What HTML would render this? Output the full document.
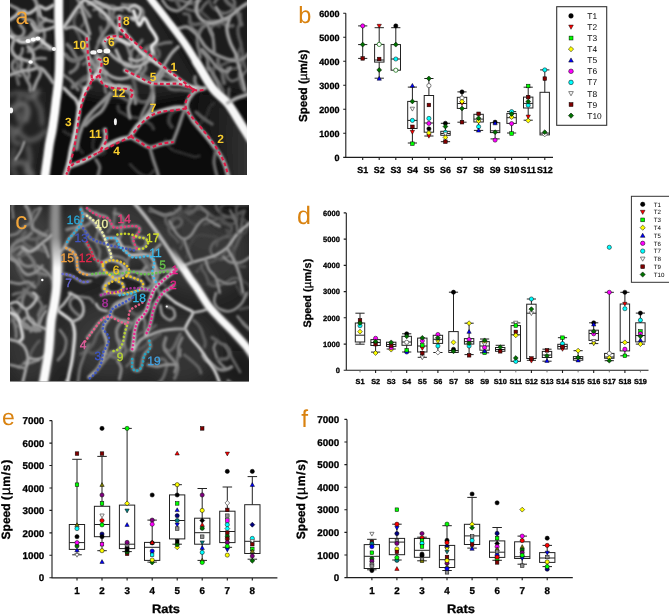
<!DOCTYPE html>
<html lang="en"><head><meta charset="utf-8"><title>Figure</title>
<style>html,body{margin:0;padding:0;background:#fff}svg{display:block}text{font-family:"Liberation Sans",sans-serif;text-rendering:geometricPrecision}</style></head><body>
<svg width="669" height="614" viewBox="0 0 669 614">
<defs>
<clipPath id="clipA"><rect x="10" y="0" width="237" height="175"/></clipPath>
<clipPath id="clipC"><rect x="10" y="205" width="239" height="176.4"/></clipPath>
<linearGradient id="gC1" gradientUnits="userSpaceOnUse" x1="0" y1="238" x2="0" y2="268"><stop offset="0" stop-color="#fafafa" stop-opacity="0"/><stop offset="1" stop-color="#fafafa" stop-opacity="1"/></linearGradient>
<linearGradient id="gC1h" gradientUnits="userSpaceOnUse" x1="0" y1="238" x2="0" y2="268"><stop offset="0" stop-color="#909090" stop-opacity="0"/><stop offset="1" stop-color="#909090" stop-opacity="0.5"/></linearGradient>
<linearGradient id="gC2" gradientUnits="userSpaceOnUse" x1="168" y1="249" x2="184" y2="272"><stop offset="0" stop-color="#f8f8f8" stop-opacity="0"/><stop offset="1" stop-color="#f8f8f8" stop-opacity="1"/></linearGradient>
<linearGradient id="gC2h" gradientUnits="userSpaceOnUse" x1="168" y1="249" x2="184" y2="272"><stop offset="0" stop-color="#909090" stop-opacity="0"/><stop offset="1" stop-color="#909090" stop-opacity="0.5"/></linearGradient>
<filter id="blur03" filterUnits="userSpaceOnUse" x="-20" y="-20" width="709" height="654"><feGaussianBlur stdDeviation="0.3"/></filter>
<filter id="blur04" filterUnits="userSpaceOnUse" x="-20" y="-20" width="709" height="654"><feGaussianBlur stdDeviation="0.45"/></filter>
<filter id="blur07" filterUnits="userSpaceOnUse" x="-20" y="-20" width="709" height="654"><feGaussianBlur stdDeviation="0.75"/></filter>
<filter id="blur1" filterUnits="userSpaceOnUse" x="-20" y="-20" width="709" height="654"><feGaussianBlur stdDeviation="0.9"/></filter>
<filter id="blur15" filterUnits="userSpaceOnUse" x="-20" y="-20" width="709" height="654"><feGaussianBlur stdDeviation="1.2"/></filter>
<filter id="blur25" filterUnits="userSpaceOnUse" x="-20" y="-20" width="709" height="654"><feGaussianBlur stdDeviation="2.2"/></filter>
<linearGradient id="gAr" gradientUnits="userSpaceOnUse" x1="192" y1="0" x2="250" y2="0"><stop offset="0" stop-color="#0e0e0e"/><stop offset="1" stop-color="#343434"/></linearGradient>
<filter id="blur6" filterUnits="userSpaceOnUse" x="-20" y="-20" width="709" height="654"><feGaussianBlur stdDeviation="5"/></filter>
<filter id="blur9" filterUnits="userSpaceOnUse" x="-20" y="-20" width="709" height="654"><feGaussianBlur stdDeviation="9"/></filter>
</defs>
<rect width="669" height="614" fill="#fff"/>
<g clip-path="url(#clipA)">
<rect x="10" y="-1" width="238" height="177" fill="#0c0c0c"/>
<g filter="url(#blur6)">
<polygon points="0,-10 54,-10 56,40 54,92 0,92" fill="#1e1e1e"/>
<polygon points="0,92 52,92 48,130 38,185 0,185" fill="#222222"/>
<polygon points="64,-10 146,-10 200,80 196,92 150,100 100,98 64,90" fill="#202020"/>
<polygon points="156,-10 260,-10 260,100 216,88 190,45" fill="#1b1b1b"/>
<polygon points="196,94 209,90 223,101 236,115 247,132 260,140 260,185 230,185 221,157 205,133 190,112" fill="url(#gAr)"/>
</g>
<g filter="url(#blur25)" fill="none" stroke-linecap="round" stroke-linejoin="round">
<path d="M10 109.5C11.2 108.9 14.8 106.9 17.2 106C19.6 105.1 22.5 103.1 24.3 104C26.1 104.9 27.7 108.6 28 111.3C28.3 114 26.3 118.8 26 120.3" stroke="#8a8a8a" stroke-width="5" stroke-opacity="0.7"/>
<path d="M10 127.5C11.5 128.4 16 130.7 19 132.8C22 134.9 25 139.1 28 140C31 140.9 34 139.7 37 138.2C40 136.7 44.4 132.2 45.9 131" stroke="#707070" stroke-width="5" stroke-opacity="0.7"/>
<path d="M28 147C28.3 149.1 30 155.5 29.7 159.7C29.4 163.9 26.6 170.2 26 172.3" stroke="#6a6a6a" stroke-width="5" stroke-opacity="0.7"/>
<path d="M33.3 88C33.6 89.8 33.8 95.2 35 98.8C36.2 102.4 39.3 105.3 40.5 109.5C41.7 113.7 42 121.5 42.3 123.9" stroke="#686868" stroke-width="5" stroke-opacity="0.7"/>
<path d="M10 95C11.3 94.5 15.3 91.8 18 92C20.7 92.2 24.7 95.3 26 96" stroke="#606060" stroke-width="4" stroke-opacity="0.7"/>
<path d="M14 150C13.7 152.5 11.7 160.7 12 165C12.3 169.3 15.3 174.2 16 176" stroke="#5a5a5a" stroke-width="5" stroke-opacity="0.7"/>
<path d="M18.6 120.1C18.4 119.3 17.8 116.8 17.3 115.2C16.8 113.6 16.1 112.1 15.9 110.5C15.6 108.8 15.2 107 15.6 105.5C16 103.9 17.4 102.7 18.1 101.2C18.8 99.6 19.5 97.2 19.7 96.4" stroke="#646464" stroke-width="4.446782414699174" stroke-opacity="0.7"/>
<path d="M18.3 129.8C17.8 130.4 15.8 132.1 14.9 133.4C13.9 134.8 12.7 136.4 12.7 137.9C12.7 139.4 13.8 141.5 15 142.4C16.1 143.3 19 143.2 19.8 143.4" stroke="#6c6c6c" stroke-width="4.8102008518113015" stroke-opacity="0.7"/>
<path d="M27.6 170.4C28.4 170.8 31.2 171.6 32 172.9C32.8 174.1 32.7 176.2 32.5 177.8C32.4 179.5 31.4 181 31.2 182.7C31 184.3 31.3 186.8 31.3 187.6" stroke="#626262" stroke-width="5.0599713250247405" stroke-opacity="0.7"/>
<path d="M15.5 163C16.3 162.9 18.8 162 20.4 162.1C22 162.3 23.8 163 25 164C26.3 165 27.1 166.6 27.9 168.1C28.7 169.6 29.4 171.1 29.8 172.7C30.1 174.3 29.9 176.9 29.9 177.7" stroke="#727272" stroke-width="5.89626591652738" stroke-opacity="0.7"/>
<path d="M22.7 111.5C22.5 112.3 21.5 114.7 21.4 116.4C21.3 118 22.2 119.7 22 121.3C21.9 122.9 21 124.5 20.4 126C19.8 127.6 19.3 129.3 18.4 130.6C17.4 132 16.2 133.6 14.8 134.1C13.4 134.6 10.7 133.6 9.8 133.5" stroke="#616161" stroke-width="4.948893608780946" stroke-opacity="0.7"/>
<path d="M20.3 95.4C21.1 95.1 23.3 93.6 24.9 93.3C26.4 93 28.3 93.9 29.9 93.5C31.4 93 33.2 91 33.9 90.6" stroke="#525252" stroke-width="5.000618801440396" stroke-opacity="0.7"/>
<path d="M27.1 98.8C27.9 98.6 30.4 98.3 31.9 97.6C33.4 96.9 34.9 95.9 36 94.7C37.2 93.6 38.5 91.4 39 90.7" stroke="#777777" stroke-width="4.017850384956739" stroke-opacity="0.7"/>
</g>
<g filter="url(#blur15)" fill="none" stroke-linecap="round" stroke-linejoin="round">
<path d="M28.1 51.5C28.6 50.8 30.3 48.9 31 47.5C31.8 46 32.1 44.3 32.6 42.7C33.2 41.1 33.4 39.4 34.2 38C35 36.5 36.4 35.5 37.4 34.1C38.3 32.7 39.4 31.3 39.7 29.7C40 28.1 39.5 26.4 39.3 24.7C39.1 23.1 38.6 21.4 38.4 19.8C38.2 18.1 38.1 15.6 38.1 14.8" stroke="#656565" stroke-width="3.75417091200875"/>
<path d="M45.6 58.4C44.8 58.3 42.3 58.1 40.6 58.1C39 58.2 37.2 58.2 35.7 58.7C34.1 59.2 32.3 59.9 31.3 61.1C30.2 62.2 29.6 64 29.1 65.6C28.6 67.1 28.4 68.9 28.4 70.5C28.4 72.2 29.4 73.8 29.2 75.4C29.1 77 27.8 79.3 27.5 80.1" stroke="#868686" stroke-width="3.042115624914704"/>
<path d="M28.6 40.5C29.1 39.9 30.9 38.2 31.9 36.8C32.9 35.5 34.1 34.2 34.6 32.6C35.2 31.1 35.5 29.3 35.4 27.7C35.3 26.1 34.9 24.2 34 22.9C33.1 21.6 31.5 20.4 30.1 19.8C28.6 19.2 26.4 20.1 25.1 19.3C23.8 18.6 22.2 16.6 22.2 15.2C22.2 13.9 24.4 11.7 24.9 11" stroke="#8d8d8d" stroke-width="3.355592640052647"/>
<path d="M40.3 47.2C41.1 47.3 43.6 47.6 45.2 48C46.9 48.4 49.2 49.2 50 49.4" stroke="#727272" stroke-width="3.5411189443883084"/>
<path d="M41.1 24.8C41.5 25.6 42.8 27.8 43.3 29.3C43.9 30.9 44.4 32.5 44.5 34.2C44.6 35.8 44.5 37.6 44 39.2C43.6 40.7 42.8 42.3 41.8 43.7C40.9 45 39.6 46.2 38.3 47.2C37 48.2 35.5 49.1 34 49.7C32.5 50.4 30 51 29.2 51.2" stroke="#838383" stroke-width="3.263739654618463"/>
<path d="M30.4 90.6C30.3 89.8 30.4 87.2 29.9 85.7C29.5 84.1 28.4 82.7 27.6 81.2C26.9 79.7 26.1 78.3 25.4 76.8C24.6 75.3 23.9 73.8 23.1 72.3C22.4 70.8 21.2 69.4 21 67.8C20.7 66.2 21.8 64.5 21.8 62.9C21.8 61.2 21.2 58.8 21 57.9" stroke="#858585" stroke-width="3.4258032098193856"/>
<path d="M45.4 19.4C44.8 20 42.9 21.6 41.8 22.8C40.7 24.1 39.9 25.6 38.9 26.9C37.8 28.2 36.7 29.4 35.5 30.6C34.3 31.8 33.1 32.9 31.9 34C30.6 35.2 29.6 36.7 28.2 37.4C26.8 38.1 24.9 38.1 23.3 38.2C21.6 38.2 19.8 38.2 18.3 37.8C16.7 37.4 15.1 36.5 13.8 35.5C12.5 34.6 11.4 33.2 10.5 31.8C9.6 30.5 8.7 28.1 8.3 27.3" stroke="#858585" stroke-width="3.891222367735342"/>
<path d="M39 14.6C38.8 13.8 38 11.4 37.6 9.8C37.3 8.2 37.4 6.4 37 4.8C36.5 3.2 36 1.6 35.2 0.1C34.4 -1.3 33.3 -2.6 32.2 -3.9C31.1 -5.1 29.8 -6.2 28.6 -7.4C27.5 -8.6 26.4 -9.8 25.3 -11.1C24.3 -12.4 23.5 -14 22.4 -15.2C21.3 -16.4 19.3 -18 18.7 -18.5" stroke="#8f8f8f" stroke-width="3.9864112447817277"/>
<path d="M20.3 75.8C19.6 75.3 17.4 74.1 16.1 73C14.9 71.9 13.4 70.8 12.7 69.3C12.1 67.9 11.9 65.9 12.2 64.4C12.5 62.8 13.5 61.2 14.6 60C15.8 58.8 17.6 58.4 18.8 57.2C20 56.1 21.1 54.7 21.8 53.2C22.4 51.7 22.5 49.1 22.6 48.3" stroke="#878787" stroke-width="3.1037961035393713"/>
<path d="M18.5 84.2C18.3 83.4 17.7 80.9 17.3 79.3C17 77.7 16.4 76.1 16.2 74.4C16.1 72.8 16.2 71.1 16.5 69.4C16.8 67.8 18.1 66.2 17.9 64.7C17.8 63.1 16 61 15.6 60.2" stroke="#656565" stroke-width="3.5070032193792735"/>
<path d="M132 65.7C131.8 64.9 131.2 62.5 131 60.8C130.9 59.2 131.1 57.5 131.2 55.8C131.3 54.2 131 52.3 131.6 50.9C132.3 49.4 133.7 48.2 135 47.1C136.2 46 137.9 45.4 139.1 44.2C140.2 43.1 141.6 40.9 142.1 40.2" stroke="#7b7b7b" stroke-width="3.0019990562914707"/>
<path d="M152.8 97.8C152.1 98.4 150.4 100.4 149 101.1C147.6 101.8 145.7 102.1 144.1 102.1C142.5 102.1 140.6 101.8 139.2 101C137.9 100.1 136.7 98.5 136.1 97.1C135.5 95.6 136 93.7 135.8 92.1C135.7 90.4 135.3 88.8 135 87.1C134.7 85.5 134.5 83.8 134.1 82.2C133.7 80.6 132.7 78.3 132.4 77.5" stroke="#5b5b5b" stroke-width="3.9835844091925052"/>
<path d="M201.7 88.6C201 88.1 198.5 87.2 197.4 86.1C196.2 84.9 195.2 83.3 194.9 81.7C194.5 80.2 195 77.6 195 76.7" stroke="#7e7e7e" stroke-width="3.46149766928985"/>
<path d="M70.2 72.6C71 72.2 73.3 71.1 74.5 70C75.7 68.9 76.9 67.5 77.5 66C78.1 64.6 78.5 62.6 78.2 61.1C77.9 59.5 76.6 58.2 75.8 56.7C75 55.3 74.2 53.8 73.4 52.3C72.5 50.9 71.7 49.4 70.7 48.1C69.7 46.8 67.8 45.1 67.2 44.5" stroke="#787878" stroke-width="3.6878757102201023"/>
<path d="M118.9 85.9C119.7 86.3 121.9 87.5 123.2 88.5C124.6 89.4 125.8 90.6 127.1 91.6C128.4 92.7 129.8 93.7 131 94.8C132.2 95.9 133.6 97 134.4 98.5C135.1 99.9 135.3 102.5 135.4 103.4" stroke="#888888" stroke-width="3.659965639298922"/>
<path d="M90.7 69.6C91.6 69.6 94.1 69.2 95.7 69.4C97.4 69.5 99.2 69.6 100.6 70.4C102.1 71.1 103.4 72.3 104.4 73.6C105.4 74.9 106 76.6 106.5 78.2C106.9 79.8 107.1 81.6 106.9 83.2C106.7 84.8 105.2 86.2 105 87.8C104.9 89.4 105.8 91.9 106 92.7" stroke="#767676" stroke-width="3.2878948505749572"/>
<path d="M142.3 18.2C142.5 17.4 143.5 14.9 143.5 13.3C143.4 11.7 142.8 9.7 141.7 8.6C140.7 7.6 138.6 7.5 137 7C135.4 6.4 133.9 5.6 132.3 5.3C130.7 4.9 129 5.2 127.3 5.1C125.7 4.9 123.2 4.5 122.4 4.4" stroke="#787878" stroke-width="3.0480275295456267"/>
<path d="M175.4 83.2C174.9 82.5 173.6 80.3 172.4 79.2C171.2 78.1 169.7 77.2 168.2 76.6C166.7 75.9 165 75.4 163.4 75.2C161.7 75.1 159.9 75.2 158.4 75.7C156.8 76.2 155.6 77.7 154 78.1C152.5 78.6 150.7 78.3 149 78.4C147.4 78.5 144.9 78.5 144 78.5" stroke="#626262" stroke-width="3.538556459170473"/>
<path d="M111.9 86.2C111.4 85.5 110.4 83.1 109.3 81.9C108.2 80.8 106.6 79.9 105.1 79.2C103.6 78.6 101.8 78.4 100.2 78.2C98.5 78 96.9 78.2 95.2 78.3C93.5 78.3 91.9 78.5 90.2 78.6C88.5 78.8 86.8 78.7 85.2 79.1C83.6 79.5 82 80.2 80.6 81C79.1 81.8 77.9 83 76.6 84C75.2 85 73.2 86.5 72.6 87" stroke="#767676" stroke-width="4.175373057056559"/>
<path d="M143.8 62.5C144.6 62.2 147 61.3 148.6 60.9C150.2 60.5 151.9 60.5 153.5 59.9C155 59.4 156.9 58.8 157.9 57.6C158.9 56.4 159.6 54.3 159.3 52.8C159.1 51.3 157.7 49.8 156.5 48.7C155.3 47.6 153.8 46.4 152.2 46.1C150.7 45.7 148.7 46.1 147.3 46.8C145.9 47.5 144.8 49 143.6 50.2C142.5 51.4 141.4 52.7 140.3 54C139.3 55.3 138 56.5 137.4 58C136.8 59.5 137.2 61.4 136.8 63C136.4 64.6 135.8 66.2 135 67.6C134.3 69.1 132.8 71.2 132.3 71.9" stroke="#595959" stroke-width="3.9572775367313393"/>
<path d="M190.7 91.1C189.9 91 187.4 90.7 185.8 90.5C184.1 90.3 182.5 89.9 180.8 89.8C179.2 89.7 177.5 90 175.8 89.9C174.2 89.8 172.3 89.9 170.9 89.2C169.4 88.6 168.3 87.1 167.1 86C165.9 84.8 165 83.2 163.7 82.3C162.4 81.3 160.8 80.5 159.2 80.1C157.6 79.7 155.9 79.9 154.2 79.7C152.6 79.5 150.9 79.4 149.3 78.8C147.8 78.3 146.4 77.2 145 76.3C143.6 75.4 142.4 74.1 141 73.3C139.6 72.5 137.1 71.8 136.3 71.5" stroke="#676767" stroke-width="3.0860785729308335"/>
<path d="M115.5 8.2C115.1 9 113.7 11.1 113.2 12.7C112.7 14.3 112.8 16 112.6 17.7C112.3 19.3 112.4 21.1 111.8 22.6C111.1 24.1 109.8 25.3 108.7 26.6C107.7 27.9 106.4 29 105.5 30.4C104.6 31.8 104 33.4 103.3 34.9C102.6 36.4 102.1 38 101.3 39.5C100.5 40.9 99.3 42.2 98.5 43.6C97.7 45.1 96.8 46.6 96.5 48.2C96.1 49.8 96.5 51.5 96.3 53.2C96.1 54.8 95.3 57.2 95.1 58" stroke="#757575" stroke-width="3.286013539591014"/>
<path d="M111.5 94.4C112.3 94.6 114.8 95 116.4 95.4C118 95.8 119.7 96.1 121.2 96.8C122.7 97.4 124.1 98.5 125.5 99.3C127 100.1 129.3 101.1 130 101.5" stroke="#616161" stroke-width="3.6012414685131864"/>
<path d="M130.6 60.7C130.5 59.8 130.5 57.3 130.2 55.7C129.9 54 129.2 52.5 128.7 50.9C128.1 49.3 127.8 47.7 127.1 46.2C126.4 44.7 125.7 42.9 124.5 41.9C123.2 40.9 121.3 40.4 119.7 40.4C118.1 40.3 116.1 40.7 114.9 41.6C113.6 42.5 112.7 45.2 112.2 45.9" stroke="#828282" stroke-width="3.062697404376586"/>
<path d="M80.8 57C80.2 57.7 78.9 60.1 77.5 60.8C76.1 61.5 74.1 61.5 72.5 61.2C71 60.8 69.1 60 68.1 58.9C67 57.7 66.5 55 66.2 54.3" stroke="#626262" stroke-width="3.16309435198072"/>
<path d="M97.4 54.4C97.3 55.3 96.8 57.7 96.8 59.4C96.8 61.1 97.4 62.7 97.4 64.4C97.3 66 96.7 67.6 96.4 69.3C96.1 70.9 95.3 72.6 95.4 74.2C95.5 75.8 96.8 78.1 97.1 78.9" stroke="#7e7e7e" stroke-width="3.3851606471675146"/>
<path d="M83.5 64.1C84.2 63.7 86.3 62.1 87.8 61.6C89.3 61 91.1 61.1 92.7 60.7C94.3 60.2 96 59.8 97.5 59.1C98.9 58.3 100.4 57.4 101.6 56.2C102.7 55 103.8 53.6 104.4 52.1C105 50.6 104.8 48.8 104.9 47.1C105 45.5 105.2 43.7 104.9 42.1C104.6 40.5 103.8 39 103.2 37.4C102.7 35.8 102.2 34.2 101.8 32.6C101.3 31 100.9 28.5 100.7 27.7" stroke="#656565" stroke-width="4.002896245610769"/>
<path d="M81.2 26.8C81.8 26.1 83.6 24.3 84.3 22.9C85 21.4 85.6 19.5 85.4 18C85.2 16.4 84.1 14.7 82.9 13.7C81.7 12.6 79.5 11.4 78.3 11.8C77 12.1 76.1 14.4 75.4 15.9C74.7 17.3 74 19 73.9 20.6C73.8 22.2 74.4 23.9 74.7 25.6C75.1 27.2 75.4 28.9 76 30.4C76.7 31.9 78 33.1 78.7 34.6C79.4 36.1 79.6 37.9 80.3 39.3C81.1 40.8 82.3 42 83.2 43.4C84.1 44.9 85.2 47.1 85.6 47.8" stroke="#5a5a5a" stroke-width="3.015546680780876"/>
<path d="M89.8 16.3C89.3 15.6 88.1 13.4 87.1 12.1C86.2 10.7 84.9 9.6 84 8.2C83 6.9 82.3 5.3 81.4 3.9C80.4 2.6 78.7 1.7 78 0.2C77.3 -1.2 77.2 -3 77 -4.7C76.8 -6.3 77 -8 77 -9.7C77 -11.3 77 -13.8 77 -14.7" stroke="#838383" stroke-width="3.597884323026951"/>
<path d="M93.8 9.8C94.6 9.6 97 8.9 98.6 8.4C100.3 8 101.9 7.8 103.5 7.4C105.1 7 106.7 6.3 108.4 6.1C110 5.9 111.8 5.7 113.4 6.2C114.9 6.6 116.1 8.1 117.6 8.8C119.1 9.5 121.6 10.1 122.4 10.3" stroke="#797979" stroke-width="3.0338067386896506"/>
<path d="M87.6 75.7C86.8 76.1 84.5 77.1 83.2 78.1C81.8 79.1 80 80.3 79.7 81.7C79.3 83.1 80.1 85.4 81.1 86.5C82.1 87.6 84.1 88.3 85.7 88.4C87.3 88.5 89.7 87.4 90.5 87.2" stroke="#606060" stroke-width="3.4180984055613224"/>
<path d="M98.2 42.3C98.6 41.6 99.5 39.2 100.4 37.8C101.2 36.3 102.2 35 103.1 33.6C104.1 32.3 105.2 31 106.1 29.6C106.9 28.2 108 26.7 108.4 25.2C108.8 23.6 108.2 21.8 108.3 20.2C108.4 18.5 109 16.9 109.2 15.2C109.3 13.6 109.7 11.8 109.3 10.2C109 8.7 108.3 6.7 107.2 5.7C106 4.8 104 4.8 102.4 4.3C100.8 3.9 99.1 3.4 97.5 3.1C95.9 2.8 94.2 2.1 92.6 2.3C91 2.5 88.8 4.1 88 4.4" stroke="#808080" stroke-width="3.247908930131214"/>
<path d="M171.2 42.4C170.4 42.4 167.8 42.4 166.2 42.6C164.6 42.9 163 43.5 161.4 43.9C159.7 44.2 157.8 44.1 156.5 44.9C155.1 45.7 153.6 47.3 153.2 48.7C152.9 50.2 154 52 154.4 53.6C154.7 55.2 155 56.9 155.3 58.5C155.7 60.1 156.2 62.6 156.4 63.4" stroke="#6f6f6f" stroke-width="3.1705450799898194"/>
<path d="M83 48.6C83.5 49.2 85.2 51.1 86.1 52.5C86.9 53.9 87.4 55.6 88.2 57C89.1 58.5 90.2 59.7 91.1 61.1C92.1 62.5 92.9 64 93.9 65.2C95 66.5 96.4 67.5 97.7 68.6C98.9 69.7 99.9 71.2 101.3 72C102.7 72.8 105.3 73.2 106.1 73.4" stroke="#909090" stroke-width="4.187479786377706"/>
<path d="M133.4 19.5C132.7 19.1 130.5 17.7 128.9 17.3C127.3 16.9 125.6 17 123.9 16.9C122.3 16.7 120.6 16.3 118.9 16.6C117.3 16.8 115.8 17.7 114.2 18.1C112.6 18.5 110.9 19.1 109.3 19.2C107.7 19.3 105.8 19.1 104.4 18.5C102.9 17.9 101.1 16.8 100.4 15.4C99.7 14.1 100 12 100.3 10.4C100.5 8.8 101.6 6.4 101.8 5.7" stroke="#686868" stroke-width="3.412096510098676"/>
<path d="M147.6 49.2C147.2 50 145.7 52.1 145.2 53.6C144.6 55.2 144.2 56.9 144.2 58.5C144.2 60.2 144.9 61.8 145.1 63.5C145.3 65.1 146 66.9 145.6 68.4C145.2 70 143.8 71.2 142.8 72.6C141.9 74 140.6 76.1 140.1 76.8" stroke="#787878" stroke-width="3.7179542493216853"/>
<path d="M223.9 13C223.1 12.7 220.8 11.7 219.2 11.1C217.7 10.4 216 10 214.7 9.1C213.3 8.2 212 6.9 211.1 5.6C210.3 4.2 210.2 2.4 209.5 0.8C208.9 -0.7 208 -2.1 207.4 -3.7C206.8 -5.3 206.4 -7.7 206.2 -8.6" stroke="#515151" stroke-width="3.101940884035391"/>
<path d="M229.1 88.8C229 89.7 228.6 92.1 228.6 93.8C228.5 95.5 228.8 98 228.9 98.8" stroke="#585858" stroke-width="3.4268845783168587"/>
<path d="M215.6 65.5C215.2 66.3 213.9 68.5 213.5 70.1C213.1 71.7 212.6 73.5 213 75.1C213.3 76.6 214.5 78 215.5 79.4C216.5 80.7 218 81.6 219 83C220 84.3 220.8 85.8 221.6 87.3C222.3 88.7 223.3 91.1 223.6 91.8" stroke="#5a5a5a" stroke-width="3.243151958400714"/>
<path d="M205.5 25.3C204.8 25.9 202.6 27.2 201.6 28.5C200.6 29.8 200 31.4 199.3 32.9C198.6 34.4 197.9 36 197.6 37.6C197.3 39.2 197.4 41 197.5 42.6C197.6 44.3 198 45.9 198.3 47.5C198.7 49.2 199.3 50.7 199.6 52.4C199.9 54 200 56.5 200 57.4" stroke="#717171" stroke-width="3.754903140249843"/>
<path d="M200.3 0.2C199.6 0.5 197.3 1.5 195.7 2C194.1 2.6 192.5 3.3 190.8 3.3C189.2 3.3 187.6 2.6 186 2.1C184.4 1.6 183 0.6 181.4 0.2C179.8 -0.3 178.1 -0.4 176.4 -0.5C174.8 -0.6 173 -0 171.4 -0.4C169.8 -0.7 168.3 -1.6 166.9 -2.5C165.5 -3.4 164.4 -4.7 163.1 -5.7C161.7 -6.7 160.3 -7.6 158.9 -8.5C157.5 -9.4 155.3 -10.6 154.6 -11" stroke="#707070" stroke-width="3.4497074918778523"/>
<path d="M222.3 13.7C223.1 13.5 225.7 13.2 227.2 12.6C228.8 12 230.4 11.4 231.6 10.3C232.8 9.2 234 7.6 234.4 6.1C234.9 4.6 234.8 2.6 234.3 1.1C233.8 -0.4 232.5 -1.9 231.2 -2.8C229.9 -3.8 228.1 -4.2 226.5 -4.5C224.9 -4.7 223 -4.8 221.5 -4.3C220 -3.8 218.5 -2.6 217.3 -1.5C216.2 -0.3 215 2 214.6 2.7" stroke="#6b6b6b" stroke-width="3.134712212389272"/>
<path d="M179.6 6.9C179.2 6.2 178.1 3.9 177.4 2.5C176.6 1 176 -0.6 175.2 -2.1C174.5 -3.6 174 -5.2 173 -6.6C172.1 -7.9 170.8 -9 169.6 -10.2C168.4 -11.4 167.2 -12.5 166 -13.6C164.7 -14.7 163.5 -15.8 162.2 -17C161 -18.1 159.7 -19.1 158.5 -20.3C157.4 -21.6 156 -23.6 155.5 -24.3" stroke="#5b5b5b" stroke-width="4.088083445450166"/>
<path d="M209.2 69.9C209.9 69.6 212.2 68.6 213.8 68C215.3 67.4 216.9 66.9 218.5 66.4C220.1 65.8 221.6 65.2 223.2 64.5C224.7 63.8 226.1 62.9 227.6 62.2C229.1 61.5 230.8 61.2 232.2 60.4C233.6 59.5 235 58.4 236 57.1C237.1 55.8 237.7 54.2 238.5 52.7C239.2 51.3 240.1 48.9 240.5 48.2" stroke="#555555" stroke-width="3.3558673006189634"/>
<path d="M239.2 73.8C239.3 74.7 239.8 77.1 240 78.8C240.3 80.4 240.4 82.1 240.8 83.7C241.2 85.3 241.6 87 242.5 88.4C243.3 89.8 245.3 91.5 245.9 92.1" stroke="#575757" stroke-width="3.7105086143674306"/>
<path d="M197 31.7C196.3 31.3 193.7 30.4 192.6 29.3C191.6 28.1 191.2 26.2 190.8 24.6C190.3 23 190.4 21.3 190 19.7C189.7 18 189.8 15.8 188.8 14.8C187.8 13.8 184.7 13.9 183.9 13.7" stroke="#606060" stroke-width="3.3994394844290445"/>
<path d="M193.8 3.3C194.1 4.1 194.9 6.6 195.9 7.9C196.9 9.2 198.4 10 199.8 11C201.1 12 202.5 13 203.7 14.1C205 15.1 206.2 16.3 207.4 17.4C208.6 18.6 209.7 19.9 210.9 21C212.2 22.1 213.6 23.1 214.9 24C216.3 24.9 218.6 26 219.3 26.4" stroke="#4b4b4b" stroke-width="3.387256811558958"/>
<path d="M237.7 54.5C238.3 55.1 240.5 56.7 241.2 58.1C241.8 59.5 241.9 61.6 241.5 63.1C241.1 64.6 240 66.3 238.7 67.2C237.4 68.1 235.5 68.3 233.8 68.5C232.2 68.7 229.7 68.7 228.8 68.7" stroke="#555555" stroke-width="3.056340870723498"/>
<path d="M226.4 19.5C225.7 19.9 223.4 20.9 221.9 21.6C220.4 22.3 218.8 22.9 217.3 23.6C215.8 24.3 213.9 24.6 212.8 25.7C211.6 26.8 210.4 28.6 210.3 30.1C210.3 31.5 212.1 33.9 212.4 34.6" stroke="#5f5f5f" stroke-width="3.6403150444914396"/>
<path d="M185.9 8.7C186.7 8.9 189.1 9.8 190.7 10.2C192.3 10.5 194 10.8 195.6 10.8C197.3 10.8 199.3 10.9 200.6 10.1C201.9 9.3 202.4 7.3 203.4 6C204.4 4.7 206.2 2.9 206.8 2.3" stroke="#636363" stroke-width="3.192647155721178"/>
<path d="M245.2 67.4C244.9 66.6 244 64.3 243.7 62.7C243.3 61 243 59.4 242.9 57.7C242.7 56.1 242.9 54.4 242.7 52.7C242.5 51.1 241.9 49.5 241.5 47.9C241.2 46.2 241 44.6 240.7 43C240.3 41.3 239.7 39.8 239.2 38.2C238.8 36.5 238.3 34.9 238.1 33.3C237.9 31.6 237.8 29.9 238 28.3C238.3 26.7 239.3 25.2 239.7 23.6C240.1 22 240.4 20.3 240.4 18.6C240.5 17 240.2 14.5 240.2 13.6" stroke="#595959" stroke-width="3.398342963096777"/>
<path d="M241.5 24.7C241.3 23.9 240.5 21.6 239.9 20C239.4 18.4 238.8 16.9 238.2 15.3C237.7 13.7 237.5 12 236.6 10.6C235.8 9.1 234.6 7.9 233.4 6.8C232.1 5.7 230.5 5.1 229.2 4C228 2.9 226.6 1.7 225.8 0.3C225 -1.1 225 -2.9 224.6 -4.5C224.2 -6.2 223.8 -7.8 223.5 -9.4C223.3 -11.1 223 -12.8 223.2 -14.4C223.4 -16 224.6 -18.3 224.9 -19.1" stroke="#666666" stroke-width="3.997678096807466"/>
<path d="M201.9 50.1C202.5 50.7 204.2 52.6 205.1 53.9C206 55.3 207.1 56.7 207.6 58.3C208.1 59.8 207.8 61.6 207.8 63.3C207.9 64.9 208 67.4 208 68.3" stroke="#717171" stroke-width="3.8295647391239442"/>
<path d="M227.6 68.1C227.4 68.9 226.6 71.4 226.7 73C226.7 74.7 226.9 76.6 227.7 77.9C228.6 79.2 230.3 80.7 231.7 80.9C233.2 81.2 235 80.2 236.5 79.5C238 78.8 239.3 77.7 240.6 76.6C241.9 75.6 243 74.3 244.2 73.1C245.3 71.9 247 70.1 247.6 69.5" stroke="#686868" stroke-width="3.011508496743279"/>
<path d="M189.6 22C190.3 22.4 192.4 24.1 194 24.4C195.6 24.7 197.3 24.1 199 23.9C200.6 23.7 202.3 23.5 203.9 23.3C205.6 23.1 207.3 23 208.9 22.6C210.5 22.2 212.1 21.1 213.6 21.1C215.2 21.1 216.8 22.1 218.4 22.5C220.1 22.9 221.8 23.1 223.3 23.6C224.9 24.2 226.2 25.5 227.8 25.8C229.4 26.2 232 25.8 232.8 25.8" stroke="#5e5e5e" stroke-width="3.8650051226610076"/>
<path d="M218 59.1C218.1 59.9 217.7 62.5 218.2 64.1C218.6 65.6 220 66.9 220.7 68.4C221.4 69.9 222.1 71.4 222.5 73C222.9 74.6 222.7 76.4 223 78C223.3 79.7 224 82 224.2 82.9" stroke="#656565" stroke-width="4.051601559129109"/>
<path d="M82.5 152.7C81.9 152 80.3 150.1 79.4 148.7C78.6 147.3 78 145.7 77.4 144.1C76.9 142.6 76.8 140.8 75.9 139.4C75.1 138 73.8 136.6 72.5 135.7C71.1 134.8 69.3 134.7 67.8 134C66.3 133.2 64.3 131.6 63.7 131.2" stroke="#2f2f2f" stroke-width="3.368923009280656"/>
<path d="M200.1 123.7C200.7 123.1 202.4 121.2 203.4 119.9C204.5 118.7 205.8 117.5 206.5 116C207.3 114.6 207.5 112.8 208.1 111.3C208.7 109.7 209 107.9 210 106.6C210.9 105.3 213.1 103.9 213.7 103.4" stroke="#2e2e2e" stroke-width="3.1722368838843273"/>
<path d="M117.9 106.2C118.1 107.1 118.1 109.9 119.1 111.1C120 112.3 122.1 112.6 123.5 113.4C124.9 114.3 126.1 115.6 127.7 116.2C129.2 116.8 130.9 116.9 132.6 117.2C134.2 117.5 135.9 117.4 137.5 118C139.1 118.5 140.4 119.7 141.9 120.3C143.4 121 145.2 121.2 146.7 121.9C148.2 122.6 149.7 123.4 150.9 124.5C152 125.7 153.1 128.1 153.5 128.8" stroke="#404040" stroke-width="3.509960689050535"/>
<path d="M199.2 156C198.4 156.1 195.9 156.9 194.2 156.8C192.6 156.6 191.1 155.8 189.5 155.3C187.9 154.8 186.3 154.4 184.7 153.9C183.1 153.4 181.5 152.9 179.9 152.4C178.3 151.9 176.7 151.5 175.1 150.9C173.6 150.2 172 149.6 170.7 148.5C169.4 147.5 168.4 146.1 167.5 144.7C166.6 143.3 165.7 140.9 165.3 140.2" stroke="#2f2f2f" stroke-width="3.039196367758526"/>
<path d="M180 108.5C179.2 108.8 176.8 109.6 175.3 110.3C173.9 111.1 172.3 112 171.3 113.2C170.2 114.5 169.6 116.2 169.2 117.8C168.8 119.4 168.6 121.3 169.1 122.8C169.5 124.3 171.4 126.2 171.9 126.9" stroke="#3f3f3f" stroke-width="4.157361854112118"/>
<path d="M105.5 129.6C104.7 129.8 102.1 130.2 100.7 131C99.3 131.7 98 133 96.9 134.2C95.8 135.5 94.6 136.8 94 138.3C93.3 139.8 93.1 141.5 92.9 143.2C92.7 144.8 92.4 146.7 93 148.2C93.5 149.6 95.1 150.7 96.4 151.8C97.7 152.9 99.1 154.5 100.5 154.6C102 154.8 104.4 153 105.2 152.7" stroke="#2c2c2c" stroke-width="3.4864867239714714"/>
<path d="M153.7 170.4C153.2 171.1 151.9 173.4 150.6 174.4C149.3 175.3 147.5 176.2 146 176.2C144.4 176.2 142.8 175.1 141.4 174.3C139.9 173.5 138.5 172.5 137.2 171.5C135.9 170.4 134.8 169.2 133.6 168C132.5 166.8 130.8 165 130.2 164.4" stroke="#353535" stroke-width="3.035258681893856"/>
</g>
<g filter="url(#blur1)" fill="none" stroke-linecap="round" stroke-linejoin="round">
<path d="M10 19.7C10.9 19.1 13.6 17.5 15.4 16C17.2 14.5 18.7 11.2 20.8 10.8C22.9 10.4 25.9 13.5 28 13.5C30.1 13.5 31.4 12 33.3 10.8C35.2 9.6 37.5 6.6 39.6 6.3C41.7 6 43.7 9.2 45.9 9C48.1 8.8 51.8 6 53 5.4" stroke="#bdbdbd" stroke-width="3.48"/>
<path d="M38.7 7.2C39 8.7 39.3 13.9 40.5 16C41.7 18.1 43.8 18.8 45.9 19.7C48 20.6 51.8 21.2 53 21.5" stroke="#a4a4a4" stroke-width="3.19"/>
<path d="M31.5 23.3C32.4 24.5 34.5 29.4 36.9 30.5C39.3 31.6 43 30.2 45.9 29.6C48.8 29 52.6 27.4 54 27" stroke="#adadad" stroke-width="3.19"/>
<path d="M10 36C10.9 36.4 13.6 37.6 15.4 38.6C17.2 39.6 18.7 41.5 20.8 42C22.9 42.5 25 42.2 28 41.6C31 41 36 38.4 38.7 38.6C41.4 38.8 41.9 41.4 44 43C46.1 44.6 50.1 47.5 51.3 48.4" stroke="#cecece" stroke-width="3.77"/>
<path d="M13.6 41C13.3 42.5 11.2 47.3 11.8 50C12.4 52.7 14.3 55.6 17 57.4C19.7 59.2 25.4 60.2 28 61C30.6 61.8 31.5 63.2 32.4 62C33.3 60.8 34 56.4 33.3 53.8C32.6 51.2 28.9 47.8 28 46.6" stroke="#a7a7a7" stroke-width="3.48"/>
<path d="M10 75C11.5 74.5 15.7 72.5 19 71.7C22.3 70.9 26.1 70.6 29.7 70C33.3 69.4 37.5 67.2 40.5 68C43.5 68.8 45.6 72.6 47.7 75C49.8 77.4 52.1 81.2 53 82.5" stroke="#a4a4a4" stroke-width="3.48"/>
<path d="M33.3 62C34.5 63.6 39.9 68.6 40.5 71.7C41.1 74.8 38.2 77.7 37 80.7C35.8 83.7 33.9 88.2 33.3 89.7" stroke="#949494" stroke-width="3.48"/>
<path d="M10 5C11 5.5 14.2 7 16 8C17.8 9 20 10.3 20.8 10.8" stroke="#949494" stroke-width="3.19"/>
<path d="M20 25C20.7 25.8 23.7 28.2 24 30C24.3 31.8 23.4 34.6 22 36C20.6 37.4 16.5 38.2 15.4 38.6" stroke="#8e8e8e" stroke-width="3.19"/>
<path d="M63.8 27C64.7 25.8 67.1 22.7 69.2 19.7C71.3 16.7 74 12.3 76.4 9C78.8 5.7 82.3 1.5 83.5 0" stroke="#c0c0c0" stroke-width="3.48"/>
<path d="M65.6 28.7C66.8 28.4 70.4 26.7 72.8 27C75.2 27.3 77.6 29 80 30.5C82.4 32 85.5 34.6 87 36C88.5 37.4 88.7 38.2 89 38.6" stroke="#a7a7a7" stroke-width="3.19"/>
<path d="M80.9 5.4C81.3 6.9 82.5 11 83.5 14.3C84.5 17.6 86 21.7 87 25C88 28.3 89.3 32.5 89.8 34" stroke="#a4a4a4" stroke-width="3.19"/>
<path d="M85.3 0C86.8 0.9 91 3 94.3 5.4C97.6 7.8 102 11.3 105 14.3C108 17.3 110.1 20.9 112.2 23.3C114.3 25.7 115.5 27.5 117.6 28.7C119.7 29.9 123.6 30.2 124.8 30.5" stroke="#c6c6c6" stroke-width="3.48"/>
<path d="M94.3 0C95.8 0.9 100 3.9 103.3 5.4C106.6 6.9 110.4 8.7 114 9C117.6 9.3 122.1 6.9 124.8 7.2C127.5 7.5 129.1 10.2 130 10.8" stroke="#b3b3b3" stroke-width="3.19"/>
<path d="M103.3 43C104 42.2 105.7 39 107.8 38C109.9 37 113.3 36.8 115.8 37.3C118.3 37.8 120.6 40 123 41.3C125.4 42.5 128.8 44.2 130 44.8" stroke="#d5d5d5" stroke-width="3.77"/>
<path d="M87 38.6C87.2 41.1 87.7 48.9 88 53.8C88.3 58.7 88.7 63.8 89 68C89.3 72.2 90.3 75.4 89.8 79C89.3 82.6 86.8 87.9 86.2 89.7" stroke="#bababa" stroke-width="3.48"/>
<path d="M97.9 58.3C98.4 58.8 100.4 58.8 100.6 61C100.8 63.2 100.3 68.7 98.8 71.7C97.3 74.7 92.8 77.8 91.6 79" stroke="#dfdfdf" stroke-width="3.77"/>
<path d="M98.8 71.7C99.1 73.2 99.2 78.6 100.6 80.7C101.9 82.8 104.1 83.4 106.9 84.3C109.7 85.2 113.8 85.5 117.6 86C121.4 86.5 127.9 86.8 130 87" stroke="#bdbdbd" stroke-width="3.48"/>
<path d="M103.3 43C104.5 44.8 107.7 50.8 110.4 53.8C113.1 56.8 116.1 59.2 119.4 61C122.7 62.8 128.2 64 130 64.6" stroke="#adadad" stroke-width="3.19"/>
<path d="M110.4 21.5C111.3 22.7 114.6 26.3 115.8 28.7C117 31.1 117.3 34.7 117.6 35.9" stroke="#a4a4a4" stroke-width="3.19"/>
<path d="M63.8 53.8C65 54.7 68.3 58.3 71 59.2C73.7 60.1 77.3 60.1 80 59.2C82.7 58.3 85.8 54.7 87 53.8" stroke="#757575" stroke-width="3.19"/>
<path d="M63.8 75.3C65 76.2 68.6 78.3 71 80.7C73.4 83.1 76.8 88.2 78 89.7" stroke="#7c7c7c" stroke-width="3.19"/>
<path d="M133.6 10.8C134.5 13.2 137.2 23.8 139 25C140.8 26.2 142.5 17.7 144.3 18C146.1 18.3 147.6 23.4 149.7 27C151.8 30.6 156.6 36.2 156.9 39.5C157.2 42.8 152.1 44.2 151.5 46.6C150.9 49 153 52.6 153.3 53.8" stroke="#e8e8e8" stroke-width="3.48"/>
<path d="M130 7.2C130.9 6.9 133.6 4.8 135.4 5.4C137.2 6 140.5 8.4 140.8 10.8C141.1 13.2 138.7 18.5 137.2 19.7C135.7 20.9 132.7 18.3 131.8 18" stroke="#c6c6c6" stroke-width="3.19"/>
<path d="M119.6 16.8C119.7 18.7 118.7 24.6 120.3 28C121.9 31.4 125.6 33.4 129 37.4C132.4 41.4 136.8 48.1 140.8 52C144.9 55.9 149.1 58 153.3 61C157.5 64 161.7 67 165.9 70C170.1 73 174.5 76.3 178.4 79C182.3 81.7 185.3 84.4 189.2 86C193.1 87.6 199.6 88.3 201.7 88.8" stroke="#d5d5d5" stroke-width="3.77"/>
<path d="M125 70.3C127.3 71.8 134.9 76.9 139 79C143.1 81.1 145.8 82.2 149.7 82.9C153.6 83.6 157.8 83.3 162.3 83.4C166.8 83.5 172.1 83 176.6 83.4C181.1 83.8 187.1 85.6 189.2 86" stroke="#cccccc" stroke-width="3.77"/>
<path d="M155 79C156.2 77.2 159.6 72.2 162.3 68C165 63.8 168.6 57.4 171.3 53.8C174 50.2 177.2 47.8 178.4 46.6" stroke="#a4a4a4" stroke-width="3.19"/>
<path d="M130 59C131.2 59.3 134.5 61.3 137.2 61C139.9 60.7 143.3 58.6 146 57.4C148.7 56.2 152.1 54.4 153.3 53.8" stroke="#adadad" stroke-width="3.19"/>
<path d="M162.3 0C163.2 1.2 165.3 5.4 167.7 7.2C170.1 9 173.9 10.8 176.6 10.8C179.3 10.8 181.4 9 183.8 7.2C186.2 5.4 189.8 1.2 191 0" stroke="#8b8b8b" stroke-width="3.19"/>
<path d="M198 0C197.7 1.8 195.8 7.5 196.4 10.8C197 14.1 199.3 17.6 201.7 19.7C204.1 21.8 207.1 23.3 210.7 23.3C214.3 23.3 220 20.9 223.3 19.7C226.6 18.5 227.4 18.1 230.4 16C233.4 13.9 237.9 9.6 241.2 7.2C244.5 4.8 248.5 2.7 250 1.8" stroke="#a1a1a1" stroke-width="3.48"/>
<path d="M178.4 28.7C179.9 28.4 184.1 25.8 187.4 27C190.7 28.2 195 32.6 198 35.9C201 39.2 202.6 43.6 205.3 46.6C208 49.6 210.7 51.7 214.3 53.8C217.9 55.9 223 58 226.9 59.2C230.8 60.4 235.8 60.7 237.6 61" stroke="#919191" stroke-width="3.48"/>
<path d="M230.4 16C229.8 18.1 226.9 24.2 226.9 28.7C226.9 33.2 228.9 38.8 230.4 43C231.9 47.2 234.6 50.8 235.8 53.8C237 56.8 236.7 57.4 237.6 61C238.5 64.6 240 70.5 241.2 75.3C242.4 80.1 244.2 87.3 244.8 89.7" stroke="#9e9e9e" stroke-width="3.48"/>
<path d="M201.7 50.2C202.9 51.4 206.2 54.4 208.9 57.4C211.6 60.4 214.9 65.6 217.9 68C220.9 70.4 224.8 71.7 226.9 71.7C229 71.7 229.8 68.6 230.4 68" stroke="#888888" stroke-width="3.19"/>
<path d="M205.3 21.5C206.5 23.9 211 30.5 212.5 35.9C214 41.3 214 50.8 214.3 53.8" stroke="#888888" stroke-width="3.19"/>
<path d="M216 7.2L223.3 19.7" stroke="#949494" stroke-width="3.19"/>
<path d="M208.9 68C210.1 69.8 214.2 75.4 216 79C217.8 82.6 219.1 87.9 219.7 89.7" stroke="#7c7c7c" stroke-width="3.19"/>
<path d="M237.6 61C238.7 60.5 241.9 59.5 244 58C246.1 56.5 249 53 250 52" stroke="#888888" stroke-width="3.19"/>
<path d="M151.7 85.9C152 87.7 153.5 93 153.5 96.6C153.5 100.2 153.2 103.8 151.7 107.4C150.2 111 147 114.7 144.6 118C142.2 121.3 139.5 124.3 137.4 127C135.3 129.7 132.9 133.1 132 134.3" stroke="#9e9e9e" stroke-width="3.48"/>
<path d="M130 87.7C130.3 89.2 132.3 93.3 132 96.6C131.7 99.9 128.7 103.8 128.4 107.4C128.1 111 129.7 116.2 130 118" stroke="#8e8e8e" stroke-width="3.48"/>
<path d="M110.5 93C109.9 94.5 108.5 99 107 102C105.5 105 103.9 108.3 101.5 111C99.1 113.7 95.3 115.6 92.6 118C89.9 120.4 86.6 124.1 85.4 125.3" stroke="#8b8b8b" stroke-width="3.48"/>
<path d="M98 59C98.9 60.8 100.9 66.7 103.3 69.7C105.7 72.7 109 75.5 112.3 77C115.6 78.5 119.4 79 123 78.7C126.6 78.4 130.8 76.8 133.8 75C136.8 73.2 139.8 69.2 141 68" stroke="#a4a4a4" stroke-width="3.19"/>
<path d="M115.9 50C116.8 51.8 119.5 58.1 121.3 60.8C123.1 63.5 123.6 65.1 126.6 66C129.6 66.9 135.6 66.9 139.2 66C142.8 65.1 146.5 61.7 148 60.8" stroke="#b0b0b0" stroke-width="3.19"/>
<path d="M166 68C165.1 69.5 162.5 74.3 160.7 77C158.9 79.7 156.2 82.8 155.3 84" stroke="#949494" stroke-width="3.19"/>
<path d="M112 87.8C114.5 88 123.5 88.4 127 89C130.4 89.6 132.1 90.1 132.7 91.6C133.3 93.1 131.1 96.9 130.8 98" stroke="#adadad" stroke-width="3.48"/>
<path d="M63.8 88C65 89.2 68.9 93.1 71 95.2C73.1 97.3 75.1 97.9 76.4 100.6C77.7 103.3 78.8 107.7 79 111.3C79.2 114.9 77.6 120.2 77.3 122" stroke="#bdbdbd" stroke-width="3.48"/>
<path d="M85.3 88C84.8 89.5 83.6 93.7 82.6 97C81.5 100.3 79.9 103.8 79 107.7C78.1 111.6 78 115.8 77.3 120.3C76.6 124.8 75.6 129.8 74.6 134.6C73.5 139.4 72 144.2 71 149C70 153.8 69.3 158.8 68.3 163.3C67.2 167.8 65.3 173.9 64.7 176" stroke="#d9d9d9" stroke-width="4.06"/>
<path d="M110.4 93.4C108.9 94.9 104.5 99.3 101.5 102.3C98.5 105.3 95.2 108.3 92.5 111.3C89.8 114.3 87.4 116.7 85.3 120.3C83.2 123.9 81.5 128 80 132.8C78.5 137.6 77 146.3 76.4 149" stroke="#8e8e8e" stroke-width="3.77"/>
<path d="M66 176C66.5 174.5 67.2 169.1 69.2 167C71.2 164.9 74.9 164.8 78.2 163.3C81.5 161.8 85.3 160.1 88.9 158C92.5 155.9 96.1 153.2 99.7 150.8C103.3 148.4 106.8 145.6 110.4 143.6C114 141.6 117.9 140.1 121.2 139C124.5 137.9 128.5 137.6 130 137.3" stroke="#c0c0c0" stroke-width="4.35"/>
<path d="M105 129.3C105.1 130.8 105.8 135.5 105.4 138.2C105 140.9 103.4 143.3 102.4 145.4C101.5 147.5 100.2 149.9 99.7 150.8" stroke="#bababa" stroke-width="3.77"/>
<path d="M96 159.7C96.6 160.9 99.4 164.3 99.7 167C100 169.7 98.2 174.5 97.9 176" stroke="#6f6f6f" stroke-width="3.48"/>
<path d="M130 136.4C131.2 134.6 134.2 129 137.2 125.7C140.2 122.4 144.1 119.1 148 116.7C151.9 114.3 156 112.8 160.5 111.3C165 109.8 170.6 108.3 174.8 107.7C179 107.1 183.8 107.7 185.6 107.7" stroke="#bdbdbd" stroke-width="4.35"/>
<path d="M205 88C203.8 88.3 200 88.9 198 89.8C196 90.7 194.6 91.3 192.8 93.4C191 95.5 188.3 99.6 187.4 102.3C186.5 105 186.5 106.5 187.4 109.5C188.3 112.5 190.4 116.7 192.8 120.3C195.2 123.9 198.7 127.4 201.7 131C204.7 134.6 207.7 137.9 210.7 141.8C213.7 145.7 217.3 150.5 219.7 154.4C222.1 158.3 223.5 161.2 225 165C226.5 168.8 227.9 175 228.5 177" stroke="#a7a7a7" stroke-width="4.35"/>
<path d="M130 136.4C131.5 137.3 135.7 140 139 141.8C142.3 143.6 146.1 146.8 149.7 147.2C153.3 147.6 156.6 145.4 160.5 144.5C164.4 143.6 170.9 142.2 173 141.8" stroke="#a1a1a1" stroke-width="4.06"/>
<path d="M173 141.8C173.9 139.4 176.9 131.7 178.4 127.5C179.9 123.3 180.8 120 182 116.7C183.2 113.4 185 109.2 185.6 107.7" stroke="#858585" stroke-width="3.48"/>
<path d="M149.7 147.2C150.3 149.3 152.1 155.8 153.3 159.7C154.5 163.6 156 167.5 156.9 170.5C157.8 173.5 158.4 176.5 158.7 177.7" stroke="#7c7c7c" stroke-width="3.48"/>
<path d="M153.3 88C152.7 89.8 151.5 94.6 149.7 98.8C147.9 103 144.1 109.7 142.6 113C141.1 116.3 141.1 117.6 140.8 118.5" stroke="#787878" stroke-width="3.48"/>
<path d="M196 112C197.2 113 200.3 116 203 118C205.7 120 210.5 123 212 124" stroke="#5d5d5d" stroke-width="3.48"/>
<path d="M216 150C215.7 152 213.8 157.7 214 162C214.2 166.3 216.5 173.7 217 176" stroke="#696969" stroke-width="3.48"/>
<path d="M15.4 159.7C16.3 158.2 19.3 153.8 20.8 150.8C22.3 147.8 23.7 143.3 24.3 141.8" stroke="#c0c0c0" stroke-width="1.8"/>
</g>
<g filter="url(#blur1)" fill="none" stroke-linecap="round" stroke-linejoin="round">
<path d="M58.7 -3C58.7 0.8 58.6 12 58.7 20C58.8 28 59.4 36.7 59.5 45C59.6 53.3 59.5 63.2 59.3 70C59 76.8 58.5 81 58 86C57.5 91 56.8 95.2 56.2 100C55.6 104.8 55.1 110 54.4 115C53.7 120 53 125.2 52.2 130C51.4 134.8 50.3 138.8 49.5 143.5C48.7 148.2 48.2 153.2 47.5 158C46.8 162.8 46 168.2 45.5 172C45 175.8 44.8 179.5 44.6 181" stroke="#8a8a8a" stroke-width="10.3" stroke-opacity="0.4"/>
<path d="M149.2 -3C149.6 -2.5 148.5 -3.8 151.5 0C154.5 3.8 161.7 12.8 167.2 20C172.7 27.2 179.1 35.3 184.4 43C189.7 50.7 194 58.4 198.8 66C203.6 73.6 208.2 82.6 213 88.8C217.8 95 222.8 97.3 227.4 103C232 108.7 236.4 116.8 240.3 123C244.2 129.2 249.2 137.2 251 140" stroke="#8a8a8a" stroke-width="8.700000000000001" stroke-opacity="0.4"/>
<path d="M196 61.5C196.5 62.2 196 61.5 198.8 66C201.6 70.5 208.2 82.6 213 88.8C217.8 95 222.8 97.3 227.4 103C232 108.7 236.4 116.8 240.3 123C244.2 129.2 249.2 137.2 251 140" stroke="#8a8a8a" stroke-width="9.8" stroke-opacity="0.4"/>
<path d="M227.4 103C229 102.2 233.4 99.5 237 98C240.6 96.5 247 94.7 249 94" stroke="#8a8a8a" stroke-width="5.0" stroke-opacity="0.4"/>
<path d="M58.7 -3C58.7 0.8 58.6 12 58.7 20C58.8 28 59.4 36.7 59.5 45C59.6 53.3 59.5 63.2 59.3 70C59 76.8 58.5 81 58 86C57.5 91 56.8 95.2 56.2 100C55.6 104.8 55.1 110 54.4 115C53.7 120 53 125.2 52.2 130C51.4 134.8 50.3 138.8 49.5 143.5C48.7 148.2 48.2 153.2 47.5 158C46.8 162.8 46 168.2 45.5 172C45 175.8 44.8 179.5 44.6 181" stroke="#fcfcfc" stroke-width="8.5"/>
<path d="M149.2 -3C149.6 -2.5 148.5 -3.8 151.5 0C154.5 3.8 161.7 12.8 167.2 20C172.7 27.2 179.1 35.3 184.4 43C189.7 50.7 194 58.4 198.8 66C203.6 73.6 208.2 82.6 213 88.8C217.8 95 222.8 97.3 227.4 103C232 108.7 236.4 116.8 240.3 123C244.2 129.2 249.2 137.2 251 140" stroke="#f6f6f6" stroke-width="6.9"/>
<path d="M196 61.5C196.5 62.2 196 61.5 198.8 66C201.6 70.5 208.2 82.6 213 88.8C217.8 95 222.8 97.3 227.4 103C232 108.7 236.4 116.8 240.3 123C244.2 129.2 249.2 137.2 251 140" stroke="#f6f6f6" stroke-width="8.0"/>
<path d="M227.4 103C229 102.2 233.4 99.5 237 98C240.6 96.5 247 94.7 249 94" stroke="#a8a8a8" stroke-width="3.2"/>
</g>
<g filter="url(#blur07)" fill="#fff" fill-opacity="0.95">
<ellipse cx="28" cy="41" rx="2.5" ry="2.1"/>
<ellipse cx="33.3" cy="39.5" rx="2.5" ry="2"/>
<ellipse cx="37.8" cy="38.6" rx="2.5" ry="2"/>
<ellipse cx="54" cy="49" rx="2.2" ry="2"/>
<ellipse cx="30.6" cy="62" rx="2.2" ry="1.8"/>
<ellipse cx="93.4" cy="52.4" rx="3.1" ry="2.2"/>
<ellipse cx="99.7" cy="51" rx="2.8" ry="2.1"/>
<ellipse cx="106.9" cy="51" rx="3.4" ry="2.5"/>
<ellipse cx="115.4" cy="121.7" rx="1.5" ry="3.5"/>
<ellipse cx="11" cy="110.4" rx="2.1" ry="2.8"/>
</g>
<g fill="none" stroke="#dc1e46" stroke-width="2.2" stroke-dasharray="3.7 2.6" filter="url(#blur04)">
<path d="M119.6 16.8C119.7 18.7 118.7 24.6 120.3 28C121.9 31.4 125.7 34.3 129 37.4C132.3 40.5 136.3 43.6 140 46.7C143.7 49.8 147.2 52.6 151.3 56C155.4 59.4 159.7 63.5 164.4 67.3C169.1 71 174.4 74.8 179.4 78.5C184.4 82.2 190.1 87.8 194.3 89.7C198.5 91.6 203.1 89.7 204.8 89.7"/>
<path d="M129 37.4C126.8 37.2 119.2 36.2 115.8 36.2C112.4 36.2 110.3 36.5 108.4 37.4C106.5 38.3 105.2 41.1 104.6 41.9"/>
<path d="M86.7 37.4C86.9 39.9 87.3 47.3 87.8 52.3C88.3 57.3 89.1 62.6 89.7 67.3C90.3 72 92.5 75.3 91.6 80.3C90.6 85.3 86.1 91.3 84 97.2C81.9 103.1 80.4 109.6 79.2 115.8C78 122 77.6 128.3 76.6 134.5C75.5 140.7 74.6 146.5 72.9 153.2C71.2 159.9 67.6 170.9 66.5 174.5"/>
<path d="M97.9 59C98.5 59.5 101.4 59.1 101.6 61.7C101.8 64.3 100.7 71.6 99 74.7C97.3 77.8 92.8 79.4 91.6 80.3"/>
<path d="M99 74.7C99.6 76.2 100.6 81.8 102.8 84C105 86.2 108 87 112 87.8C116 88.6 123.5 88.4 127 89C130.4 89.6 132.1 90.1 132.7 91.6C133.3 93.1 131.1 96.9 130.8 98"/>
<path d="M125.2 70.3C127.4 71.3 134 74.5 138.3 76.6C142.7 78.7 147 81.8 151.3 83C155.7 84.2 159.7 83.8 164.4 84C169.1 84.2 174.4 83 179.4 84C184.4 85 191.8 88.8 194.3 89.7"/>
<path d="M194.3 89.7C193.1 91.2 188.2 95.9 186.8 99C185.4 102.1 185.1 105.3 186 108.4C186.9 111.5 189.6 114 192.5 117.7C195.4 121.4 200 126.1 203.7 130.8C207.4 135.5 211.6 140.7 214.9 145.7C218.2 150.7 221.3 155.9 223.5 160.7C225.7 165.5 227.2 172.2 228 174.5"/>
<path d="M186 108.4C184.3 108.7 179.8 109.6 175.6 110.2C171.4 110.8 165 110.9 160.7 112C156.3 113.1 152.9 114.4 149.5 116.6C146.1 118.8 143.1 121.7 140 125C136.9 128.3 132.3 134.5 130.8 136.4"/>
<path d="M130.8 136.4C128.3 137.7 120.8 141.4 115.8 143.9C110.8 146.4 105.9 148.8 100.9 151.3C95.9 153.8 90.7 156.6 86 158.8C81.3 161 76.2 161.8 72.9 164.4C69.7 167 67.6 172.8 66.5 174.5"/>
<path d="M130.8 136.4C132.3 137.3 136.9 140.1 140 142C143.1 143.9 146.1 147.3 149.5 147.6C152.9 147.9 156.6 144.8 160.7 143.9C164.8 143 171.6 142.3 173.8 142"/>
<path d="M105.8 129C105.9 130.8 107.3 136.6 106.5 140C105.7 143.4 102.3 147.3 100.9 149.5C99.5 151.7 98.5 152.4 98 153"/>
</g>
<g font-size="12" font-weight="bold" fill="#f7cc2e" text-anchor="middle" filter="url(#blur03)">
<text x="126.3" y="25">8</text>
<text x="111.4" y="45.9">6</text>
<text x="79.6" y="49.3">10</text>
<text x="106" y="65.4">9</text>
<text x="173.8" y="71">1</text>
<text x="153.2" y="81.1">5</text>
<text x="118.8" y="97.1">12</text>
<text x="153.2" y="112.1">7</text>
<text x="68.4" y="125.9">3</text>
<text x="95.3" y="137.5">11</text>
<text x="116.6" y="155">4</text>
<text x="220.5" y="142.7">2</text>
</g>
<text x="15.4" y="24" font-size="23.2" fill="#f2a63a" filter="url(#blur03)">a</text>
</g>
<g clip-path="url(#clipC)">
<rect x="10" y="204" width="240" height="178" fill="#222222"/>
<g filter="url(#blur9)">
<ellipse cx="30" cy="250" rx="30" ry="45" fill="#5a5a5a" fill-opacity="0.5"/>
<ellipse cx="30" cy="340" rx="25" ry="45" fill="#505050" fill-opacity="0.45"/>
<ellipse cx="110" cy="235" rx="50" ry="35" fill="#5c5c5c" fill-opacity="0.4"/>
<ellipse cx="200" cy="250" rx="50" ry="45" fill="#505050" fill-opacity="0.45"/>
<ellipse cx="215" cy="225" rx="30" ry="20" fill="#444444" fill-opacity="0.3"/>
<ellipse cx="110" cy="340" rx="45" ry="40" fill="#4a4a4a" fill-opacity="0.5"/>
<ellipse cx="180" cy="350" rx="35" ry="35" fill="#484848" fill-opacity="0.5"/>
<ellipse cx="240" cy="370" rx="20" ry="20" fill="#141414" fill-opacity="0.6"/>
<ellipse cx="235" cy="212" rx="28" ry="18" fill="#0c0c0c" fill-opacity="0.75"/>
</g>
<g filter="url(#blur25)" fill="none" stroke-linecap="round" stroke-linejoin="round">
<path d="M55.5 200C55.5 204.2 55.2 217.5 55.2 225C55.2 232.5 55.5 238.8 55.8 245C56.1 251.2 56.9 256.2 57.1 262C57.3 267.8 56.8 277 56.8 280" stroke="#a8a8a8" stroke-width="10" stroke-opacity="0.8"/>
</g>
<g filter="url(#blur1)" fill="none" stroke-linecap="round" stroke-linejoin="round">
<path d="M128 196C129.6 197.8 133.9 202.8 137.4 207C140.9 211.2 144.7 215.6 149 221.4C153.3 227.2 159.2 235.4 163.5 241.7C167.8 248 171.9 254.4 175.1 259C178.2 263.6 181.2 267.6 182.4 269.3" stroke="#b4b4b4" stroke-width="3.8"/>
</g>
<g filter="url(#blur15)" fill="none" stroke-linecap="round" stroke-linejoin="round">
<path d="M16.9 326.4C16.5 325.7 14.5 323.8 14.1 322.2C13.8 320.7 14 318.8 14.6 317.3C15.2 315.8 16.7 314.7 17.7 313.3C18.6 312 19.8 310.7 20.5 309.2C21.2 307.7 21.6 306 22 304.4C22.4 302.8 22.2 301.1 22.6 299.5C23 297.8 23.7 296.3 24.4 294.8C25.1 293.3 26.4 291.1 26.8 290.4" stroke="#7d7d7d" stroke-width="3.113829342150075"/>
<path d="M16.1 337.2C16.1 336.4 16.3 333.9 16.2 332.2C16.1 330.6 15.7 328.9 15.3 327.3C15 325.7 14.8 323.9 14.1 322.5C13.4 321 11.7 319.1 11.2 318.4" stroke="#7a7a7a" stroke-width="3.197062781696755"/>
<path d="M33.2 265.4C32.4 265.6 29.9 266.7 28.4 266.6C26.8 266.6 25 265.9 23.6 265.1C22.3 264.2 21.1 262.7 20.3 261.3C19.4 260 18.4 258.2 18.4 256.7C18.5 255.2 19.5 253.3 20.6 252.2C21.8 251.1 24.5 250.6 25.3 250.3" stroke="#828282" stroke-width="3.5057509417769883"/>
<path d="M18.4 367.5C19.1 367 21.3 365.7 22.5 364.6C23.8 363.5 24.8 362.1 26 361C27.3 359.9 29.2 359.4 30 358C30.9 356.7 30.4 354.7 30.9 353.1C31.5 351.6 32.4 350.1 33.2 348.7C34.1 347.3 35 345.9 36 344.5C37 343.2 38.8 341.4 39.3 340.8" stroke="#5d5d5d" stroke-width="2.7907324795552424"/>
<path d="M38.1 315.3C38.4 314.5 39.4 312.2 40 310.6C40.7 309.1 41.9 307.5 41.9 306C41.8 304.5 40.7 302.7 39.7 301.5C38.7 300.2 37.1 299.4 35.7 298.5C34.3 297.5 32.8 296.8 31.5 295.8C30.2 294.8 29 293.6 27.7 292.5C26.4 291.5 24.5 289.9 23.9 289.3" stroke="#737373" stroke-width="3.0498506649722312"/>
<path d="M38.7 324C38.7 323.1 38.8 320.6 39 319C39.1 317.3 39 315.5 39.5 314C40.1 312.5 41.3 311.1 42.3 309.9C43.4 308.6 45.3 306.9 45.8 306.3" stroke="#707070" stroke-width="3.4003234021116"/>
<path d="M33.6 282.3C33 282.9 31.5 284.9 30.3 286.1C29.2 287.3 28 288.4 26.6 289.5C25.3 290.5 24 291.6 22.5 292.2C20.9 292.8 19.1 292.7 17.5 293.1C15.9 293.5 13.6 294.4 12.8 294.7" stroke="#717171" stroke-width="2.683341516885629"/>
<path d="M24.2 363.2C25 363.2 27.6 363.3 29.2 363C30.8 362.7 32.4 362.2 34 361.6C35.6 361.1 37.9 360.1 38.6 359.8" stroke="#868686" stroke-width="3.174879932656581"/>
<path d="M25.4 232.1C24.9 232.7 22.7 234.6 22.4 236.1C22 237.6 22.7 239.5 23.3 241C23.9 242.5 24.9 244 26.1 245.1C27.3 246.3 28.9 247 30.4 247.7C31.9 248.4 33.5 248.9 35.2 249.2C36.8 249.4 38.5 249.4 40.2 249.1C41.8 248.9 44.2 247.9 45 247.7" stroke="#606060" stroke-width="3.744769326290675"/>
<path d="M34.5 250.3C33.8 250.6 31.5 251.7 30 252.4C28.5 253.1 27 253.9 25.5 254.6C24 255.2 22.4 255.8 20.8 256.2C19.2 256.6 17.5 257.1 15.8 257C14.2 256.9 11.9 255.7 11.1 255.5" stroke="#616161" stroke-width="2.6862675476134075"/>
<path d="M15 254.5C15.2 255.3 15.9 257.7 16.2 259.4C16.5 261 16.6 262.7 16.9 264.3C17.3 265.9 17.6 267.6 18.2 269.2C18.8 270.7 19.7 272.1 20.4 273.6C21.2 275.1 21.8 276.7 22.6 278.1C23.4 279.6 24.5 280.9 25.5 282.2C26.6 283.5 27.5 285.1 28.9 285.9C30.3 286.6 32.3 287 33.8 286.7C35.4 286.4 37.1 285.2 38.1 284C39 282.7 39.4 280.9 39.6 279.2C39.8 277.6 39.2 275.1 39.1 274.3" stroke="#585858" stroke-width="3.065177641486046"/>
<path d="M46.3 275C45.5 274.8 43.1 274.1 41.5 273.6C39.9 273 37.9 273 36.8 272C35.7 270.9 35.6 268.8 35.1 267.2C34.7 265.6 34.6 263.9 33.9 262.4C33.3 260.9 32.3 259.5 31.3 258.1C30.3 256.8 29 255.7 28 254.4C27 253.1 26.1 251.6 25.1 250.3C24.1 249 23.1 247 21.8 246.6C20.4 246.2 18.4 247.2 17 247.9C15.5 248.6 13.7 250.5 13.1 251" stroke="#777777" stroke-width="3.7378604463307674"/>
<path d="M39.4 297.5C38.6 297.3 36.1 296.7 34.6 296C33.2 295.2 32.2 293.4 30.7 292.9C29.2 292.4 27.2 292.5 25.7 293C24.2 293.5 22.9 294.8 21.6 295.8C20.3 296.9 18.5 298.6 17.8 299.1" stroke="#727272" stroke-width="2.72912741483423"/>
<path d="M13.2 217.9C13.1 217.1 13.1 214.6 12.9 212.9C12.7 211.3 12 209.6 12 208C12.1 206.4 12.6 204.7 13.2 203.1C13.9 201.6 15.2 200.4 15.9 198.9C16.7 197.4 17.1 195.8 17.7 194.3C18.3 192.7 19.2 191.2 19.6 189.6C20 188 20 186.3 20.3 184.7C20.5 183 20.9 181.4 21.3 179.8C21.7 178.2 22.1 176.5 22.6 175C23.2 173.4 24.3 171.1 24.6 170.4" stroke="#737373" stroke-width="2.650447990718993"/>
<path d="M21.6 308.7C20.8 309.1 18.5 310.1 17.2 311.1C15.8 312.1 14.6 313.3 13.6 314.6C12.6 315.9 12 317.5 11.1 318.9C10.3 320.4 8.9 322.4 8.4 323.1" stroke="#5a5a5a" stroke-width="3.1756486997560947"/>
<path d="M30.7 331.2C31.1 330.5 33 328.7 33.6 327.2C34.1 325.6 34.3 323.6 33.8 322.2C33.3 320.7 32 319.1 30.6 318.4C29.2 317.7 26.9 317.4 25.6 318.1C24.3 318.7 23.2 320.8 23 322.3C22.8 323.8 23.3 326.1 24.3 327.2C25.3 328.2 27.5 328.6 29.1 328.7C30.6 328.7 32.3 327.5 33.9 327.4C35.5 327.3 38 328.1 38.8 328.3" stroke="#8c8c8c" stroke-width="3.229077389511805"/>
<path d="M16.8 240.6C17.5 240.2 19.7 238.8 21.3 238.3C22.8 237.9 24.6 237.7 26.3 237.9C27.9 238 29.5 238.9 31.1 239.1C32.7 239.3 34.5 239.2 36.1 239C37.7 238.7 39.5 238.5 40.9 237.7C42.3 236.9 43.2 235.2 44.4 234.1C45.6 232.9 47.5 231.3 48.1 230.7" stroke="#626262" stroke-width="3.4447404721373935"/>
<path d="M18.6 264C18 263.4 16.3 261.6 15.1 260.5C13.8 259.4 11.9 258.8 11.1 257.5C10.3 256.2 10.3 254.2 10.4 252.5C10.4 250.9 10.7 249.1 11.4 247.7C12.1 246.2 13.3 244.8 14.5 243.7C15.7 242.6 17.4 242 18.8 241.2C20.3 240.4 21.9 239.8 23.3 239C24.8 238.2 26.3 237.5 27.7 236.5C29 235.5 30.7 233.6 31.3 233.1" stroke="#7e7e7e" stroke-width="3.4257976288564"/>
<path d="M40.1 232.7C39.8 233.4 38.7 235.7 38.2 237.3C37.7 238.9 37.1 240.5 37.1 242.2C37 243.8 37 245.7 37.8 247.1C38.5 248.5 40 249.8 41.4 250.6C42.8 251.4 45.4 251.6 46.2 251.8" stroke="#656565" stroke-width="2.6412516714686056"/>
<path d="M39.6 208.3C38.8 208.7 36.2 209.3 35 210.4C33.8 211.4 33 213.1 32.4 214.6C31.7 216.1 31.5 217.8 31.3 219.5C31.1 221.1 31 222.8 31.2 224.5C31.3 226.1 32 228.6 32.2 229.4" stroke="#6b6b6b" stroke-width="2.8283632706472672"/>
<path d="M25.6 205.5C26 206.2 27.6 208.2 28.3 209.7C28.9 211.2 29.2 212.9 29.6 214.5C30.1 216.1 30.7 217.7 31.1 219.3C31.5 220.9 31.5 222.7 31.9 224.3C32.2 225.9 32.4 227.8 33.4 229C34.4 230.2 36.2 230.8 37.7 231.6C39.2 232.4 40.7 233.1 42.2 233.8C43.7 234.5 46 235.5 46.7 235.8" stroke="#8c8c8c" stroke-width="3.6121937506015236"/>
<path d="M10.7 307.4C11.2 308.1 12.8 310.1 13.6 311.5C14.4 313 14.4 314.9 15.3 316.3C16.2 317.6 17.5 318.8 18.8 319.8C20.1 320.9 21.6 321.7 23 322.6C24.4 323.5 25.9 324.2 27.2 325.2C28.5 326.3 29.5 327.7 30.9 328.6C32.2 329.5 33.8 330.4 35.4 330.7C37 331 39.6 330.4 40.4 330.3" stroke="#8b8b8b" stroke-width="3.4113459855734902"/>
<path d="M66.2 380.8C66.7 381.4 67.9 383.7 69 384.9C70.2 386 71.8 386.8 73.2 387.7C74.6 388.6 75.9 389.6 77.4 390.4C78.9 391.1 80.5 391.5 82 392.3C83.5 393 85.5 394.5 86.2 395" stroke="#7b7b7b" stroke-width="2.779135448724684"/>
<path d="M160.3 334C159.5 334.4 157.3 335.6 155.9 336.5C154.5 337.4 153.2 338.4 151.9 339.4C150.6 340.5 149.3 341.6 148.1 342.8C146.9 343.9 146 345.4 144.7 346.4C143.4 347.4 141.9 348.3 140.4 348.9C138.8 349.5 137.2 350 135.5 350.1C133.9 350.3 132.2 349.6 130.5 349.8C128.9 350.1 127.2 350.6 125.8 351.4C124.3 352.1 123.3 353.9 121.8 354.4C120.3 354.9 118.4 354.6 116.8 354.3C115.1 354.1 112.8 353.1 112 352.8" stroke="#585858" stroke-width="3.2983853081348076"/>
<path d="M201 373C200.7 372.2 200 369.8 199.2 368.4C198.3 367 197.1 365.8 195.9 364.6C194.7 363.4 193.4 362.4 192.1 361.3C190.9 360.2 189.7 359 188.4 358C187.1 356.9 185.1 355.5 184.4 355" stroke="#656565" stroke-width="3.1062796867212277"/>
<path d="M154.1 277.1C153.6 276.4 152.3 274.2 151.4 272.9C150.4 271.5 149 270.4 148.1 269.1C147.2 267.7 146.7 266 145.9 264.6C145 263.2 144.2 261.7 143.1 260.4C142.1 259.1 140.9 257.7 139.5 256.9C138.2 256.1 136.4 255.5 134.8 255.5C133.1 255.5 131.1 255.8 129.9 256.7C128.7 257.7 128.1 259.6 127.4 261.1C126.8 262.6 126.4 264.3 126.2 265.9C126.1 267.6 126.3 269.3 126.6 270.9C126.8 272.6 127.7 274.9 127.9 275.7" stroke="#717171" stroke-width="2.955699681480014"/>
<path d="M138.9 275.9C139.4 275.3 141.3 273.6 142.4 272.3C143.4 271 143.8 269.2 144.9 268C146 266.9 147.6 265.7 149.1 265.3C150.7 265 152.7 265.3 154.1 266C155.5 266.7 157 268.1 157.7 269.5C158.3 270.9 158 272.9 157.8 274.5C157.7 276.1 157.3 277.9 156.6 279.4C155.9 280.8 154.6 282 153.6 283.3C152.5 284.5 151.3 285.8 150.1 286.9C148.8 287.9 147.3 289.1 145.8 289.5C144.3 289.9 141.6 289.4 140.8 289.4" stroke="#878787" stroke-width="3.3788420665791454"/>
<path d="M193.5 320.4C194.2 320.9 196.1 322.5 197.3 323.7C198.4 325 199.4 326.3 200.2 327.8C201 329.2 201.5 330.8 202.1 332.4C202.6 334 203.1 335.6 203.6 337.2C204.1 338.8 205 340.3 205.2 341.9C205.4 343.5 204.9 346.1 204.8 346.9" stroke="#5d5d5d" stroke-width="3.184543155761097"/>
<path d="M146.2 333C146 332.2 144.9 329.8 144.7 328.2C144.6 326.6 145.3 324.8 145.1 323.2C144.9 321.6 144.5 319.6 143.4 318.5C142.3 317.5 140.1 316.6 138.7 316.9C137.3 317.2 136.1 319 135 320.3C133.9 321.5 133 323 132.2 324.4C131.3 325.8 130.1 328.1 129.7 328.8" stroke="#7d7d7d" stroke-width="2.6640493135197"/>
<path d="M79.3 315.7C78.7 315.2 76.6 313.7 75.4 312.6C74.2 311.5 72.9 310.3 72 308.9C71.1 307.5 70 306 69.9 304.4C69.7 302.8 70 300.7 70.9 299.5C71.8 298.3 73.7 297.5 75.3 297C76.8 296.6 78.6 296.7 80.3 296.8C81.9 296.9 83.6 297.1 85.2 297.4C86.9 297.7 88.8 297.6 90.1 298.5C91.5 299.3 92.8 301.6 93.4 302.3" stroke="#7a7a7a" stroke-width="3.069960641998378"/>
<path d="M99 265.6C99 264.7 98.9 262.2 98.9 260.6C99 258.9 99.2 257.2 99.4 255.6C99.5 253.9 100 252.2 99.7 250.6C99.4 249 98.2 247.6 97.6 246.1C97 244.5 96.4 242.9 96.3 241.2C96.1 239.6 96.3 237.9 96.6 236.3C96.9 234.6 97.8 233.1 98.2 231.5C98.5 229.9 98.6 228.2 98.8 226.5C98.9 224.9 98.9 223.2 98.9 221.5C98.9 219.9 99.3 218.1 98.8 216.5C98.2 215 96.3 213.2 95.9 212.5" stroke="#727272" stroke-width="2.853856027491525"/>
<path d="M226.2 368.8C225.6 368.3 223.6 366.7 222.4 365.5C221.2 364.4 220 363.2 219 361.9C218 360.6 217.3 359 216.7 357.5C216 355.9 215.7 354.3 215.2 352.7C214.8 351.1 213.7 349.5 213.8 347.9C213.8 346.3 215.3 344 215.5 343.2" stroke="#818181" stroke-width="2.629845910348557"/>
<path d="M174.5 378.5C174.8 377.7 176 375.5 176.5 373.9C177.1 372.3 177.8 370.7 177.8 369.1C177.9 367.4 176.9 365.8 176.8 364.2C176.7 362.5 176.9 360.8 177.2 359.2C177.5 357.6 178.1 356 178.6 354.4C179.2 352.8 180.1 350.5 180.4 349.7" stroke="#6d6d6d" stroke-width="3.2083451110142054"/>
<path d="M81.1 353.9C81.8 353.5 84.2 352.7 85.6 351.7C86.9 350.7 88 349.4 89.1 348.2C90.3 347 91.5 345.8 92.5 344.5C93.4 343.1 94.2 341.6 94.8 340.1C95.5 338.5 95.6 336.8 96.4 335.3C97.1 333.8 98.5 332.7 99.3 331.3C100.2 329.9 100.6 328.1 101.6 326.8C102.6 325.5 104.2 324.8 105.4 323.6C106.6 322.4 108.1 320.4 108.7 319.8" stroke="#5d5d5d" stroke-width="3.5737778420669235"/>
<path d="M95.9 276.4C96.5 275.8 98.5 274.2 99.5 272.9C100.4 271.5 100.7 269.8 101.5 268.3C102.2 266.8 103 265.3 103.9 264C104.8 262.6 105.8 261.1 107 260C108.1 258.8 109.5 257.6 111 257C112.4 256.3 114.3 256.1 115.9 256.2C117.5 256.3 119.2 256.8 120.7 257.4C122.3 258 124 258.8 125.1 259.9C126.2 261.1 127 262.8 127.3 264.4C127.6 266 126.9 268.6 126.8 269.4" stroke="#787878" stroke-width="2.9620123406101495"/>
<path d="M119.1 339.9C119.8 340.4 122 341.7 123.1 343C124.1 344.3 124.8 345.9 125.2 347.5C125.6 349.1 125.8 351 125.4 352.5C124.9 354 123.6 355.5 122.3 356.5C121 357.4 119.2 358.1 117.6 358.1C116 358.2 114.3 357.5 112.8 356.9C111.2 356.3 109.8 355.4 108.3 354.6C106.9 353.8 104.7 352.6 104 352.2" stroke="#6f6f6f" stroke-width="3.175006593930827"/>
<path d="M155.6 301.6C155 302.2 153.4 304.2 152.2 305.3C150.9 306.4 149.5 307.3 148.1 308.3C146.8 309.2 145.4 310.2 144.1 311.2C142.7 312.1 141.4 313.3 139.8 313.9C138.3 314.4 136.4 314.9 134.9 314.5C133.4 314.1 132 312.6 130.9 311.5C129.8 310.3 128.6 308.9 128 307.4C127.4 305.9 127.2 304.1 127.2 302.4C127.1 300.8 127.6 298.3 127.7 297.5" stroke="#5c5c5c" stroke-width="3.5258591779665838"/>
<path d="M115.1 209.2C115 210 114.6 212.5 114.5 214.2C114.4 215.8 114.5 217.5 114.3 219.2C114.1 220.8 114 222.6 113.4 224.1C112.7 225.6 111.4 226.8 110.4 228.1C109.5 229.5 108.1 231.6 107.6 232.3" stroke="#6e6e6e" stroke-width="2.9067806976645154"/>
<path d="M158.3 359.5C159.2 359.4 161.9 358.5 163.3 359.1C164.7 359.6 166.1 361.3 166.7 362.8C167.2 364.2 166.7 366.1 166.4 367.8C166.2 369.4 165.7 371 165.1 372.6C164.6 374.2 164.1 375.8 163.3 377.3C162.5 378.7 161.6 380.2 160.4 381.3C159.2 382.5 157 383.7 156.3 384.2" stroke="#686868" stroke-width="3.1562031577433314"/>
<path d="M141.2 250.3C141.4 251.1 142 253.5 142.8 255C143.5 256.5 144.7 257.7 145.7 259.1C146.6 260.4 147.8 261.7 148.5 263.2C149.3 264.6 149.7 266.3 150.1 267.9C150.6 269.5 150.8 271.2 151.4 272.7C151.9 274.3 153.1 276.5 153.5 277.3" stroke="#5d5d5d" stroke-width="3.5145103891717957"/>
<path d="M165.8 285.8C165.1 285.3 163.1 283.4 161.6 283.1C160 282.8 158 283.2 156.6 283.9C155.2 284.6 153.7 285.9 153 287.3C152.3 288.7 152.1 290.6 152.2 292.3C152.3 293.9 153.2 296.3 153.4 297.1" stroke="#5a5a5a" stroke-width="2.715342655439441"/>
<path d="M212.1 337.6C212.8 338.1 215 339.3 216.4 340.3C217.7 341.2 218.9 342.4 220.4 343.3C221.8 344.1 223.5 344.5 224.9 345.4C226.2 346.3 227.8 347.4 228.6 348.8C229.4 350.1 229.9 352.1 229.7 353.6C229.6 355.2 228.8 357.2 227.6 358.1C226.4 359.1 224.3 358.9 222.7 359.1C221 359.3 218.5 359.4 217.7 359.5" stroke="#616161" stroke-width="3.5327722623384714"/>
<path d="M122 275.1C121.2 274.9 118.8 273.7 117.2 273.8C115.6 274 114.2 275.3 112.7 276.1C111.2 276.8 109.4 277.2 108.2 278.3C107.1 279.4 106.2 281.1 105.8 282.6C105.5 284.2 105.8 286.1 106.2 287.6C106.7 289.2 108.2 291.3 108.6 292" stroke="#878787" stroke-width="2.8443100230800593"/>
<path d="M113.8 213.1C114.6 213.3 117.2 213.6 118.7 214.3C120.1 215.1 121.7 216.2 122.5 217.5C123.4 218.8 123.9 220.8 123.7 222.4C123.4 223.9 121.6 225.2 121.2 226.7C120.8 228.3 121.2 230.1 121.1 231.7C120.9 233.4 120.9 235.2 120.3 236.7C119.7 238.2 118.4 239.4 117.3 240.7C116.3 242 115.3 243.4 114 244.4C112.7 245.5 110.4 246.5 109.7 246.9" stroke="#848484" stroke-width="2.7381367746437895"/>
<path d="M160 293.7C159.6 293 158.7 290.6 157.7 289.3C156.7 287.9 155.3 286.9 154.2 285.7C153.1 284.4 152.2 283 151.1 281.7C150.1 280.5 148.7 279.4 147.7 278.1C146.8 276.7 145.8 274.4 145.4 273.6" stroke="#848484" stroke-width="2.8609234974729567"/>
<path d="M90.6 222.6C89.9 223.1 87.8 224.6 86.4 225.3C84.9 226 83.3 226.6 81.6 227C80 227.3 78.3 227.2 76.7 227.4C75 227.7 73.4 228 71.8 228.4C70.1 228.8 67.8 229.5 66.9 229.7" stroke="#818181" stroke-width="3.3842372847912903"/>
<path d="M119.3 354.1C119.4 353.3 119.8 350.8 119.8 349.1C119.8 347.5 119.8 345.8 119.4 344.2C119 342.6 117.9 341.1 117.5 339.5C117 338 116.8 336.3 116.7 334.6C116.5 333 116.3 331.2 116.7 329.6C117.1 328 118 326.5 118.9 325.1C119.8 323.7 120.6 321.8 121.9 321.2C123.3 320.5 125.3 321 126.9 321.3C128.5 321.6 130.8 322.7 131.6 323" stroke="#868686" stroke-width="3.3323684550399904"/>
<path d="M103.2 346.3C102.6 346.9 101 348.9 99.8 350C98.5 351.1 97.2 352.4 95.7 352.9C94.2 353.4 92 353.6 90.7 352.9C89.4 352.3 88 350.3 87.8 348.9C87.5 347.4 89.1 344.9 89.4 344.1" stroke="#565656" stroke-width="3.2899436961890727"/>
<path d="M231.6 366.9C230.9 367.2 228.7 368.7 227.2 369.2C225.6 369.7 223.9 370.1 222.3 370C220.6 370 218.9 369.6 217.4 368.8C216 368.1 214.9 366.7 213.6 365.6C212.3 364.5 211.1 363.4 209.8 362.3C208.5 361.3 206.8 360.7 205.6 359.6C204.5 358.4 203.3 356.1 202.9 355.4" stroke="#878787" stroke-width="3.503683842492893"/>
<path d="M228.2 380.9C228.8 381.5 230.9 383.1 231.8 384.5C232.6 385.8 233.3 387.5 233.6 389.1C233.9 390.7 234 392.5 233.7 394.1C233.4 395.7 232.8 398 231.7 398.7C230.5 399.4 227.7 399 226.7 398.1C225.7 397.2 225.2 394.8 225.4 393.3C225.7 391.8 226.9 389.9 228.2 389.1C229.5 388.3 232.3 388.5 233.1 388.4" stroke="#7e7e7e" stroke-width="3.3940144575195914"/>
<path d="M180.2 333.9C179.8 334.7 178.5 336.8 177.8 338.3C177.1 339.8 176.6 341.4 175.9 342.9C175.2 344.4 174.6 346.1 173.6 347.4C172.6 348.7 171.4 350.3 169.9 350.8C168.5 351.2 165.8 350.1 165 350" stroke="#666666" stroke-width="3.354371657210823"/>
<path d="M126.5 366.4C127.1 365.8 128.9 364.1 129.9 362.7C130.8 361.3 131.4 359.7 132.1 358.2C132.8 356.7 133.7 355.2 134.1 353.7C134.6 352.1 134.9 350.4 135 348.7C135.2 347.1 135 345.4 135 343.7C135.1 342.1 134.8 340.3 135.3 338.7C135.8 337.2 137 335.8 138.2 334.7C139.4 333.6 141 332.8 142.5 332.2C144 331.6 145.8 331.6 147.4 331C148.9 330.3 150.3 329.4 151.7 328.5C153.1 327.6 155 325.9 155.7 325.4" stroke="#636363" stroke-width="2.7115461113908568"/>
<path d="M237.3 219.7C236.5 219.4 234.2 218.3 232.7 217.8C231.1 217.2 229.4 217 227.8 216.5C226.2 216.1 224.5 215.8 223 215C221.6 214.3 220.3 213.1 219.2 211.9C218.1 210.6 216.9 209.2 216.4 207.7C215.9 206.2 215.9 204.3 216.3 202.7C216.6 201.1 218.1 199 218.5 198.2" stroke="#5f5f5f" stroke-width="2.821248361614194"/>
<path d="M179.1 215.1C179.3 214.3 180.1 211.9 180.3 210.3C180.4 208.6 180.6 206.8 180.2 205.3C179.7 203.7 178.3 202.5 177.4 201.1C176.5 199.7 175.6 198.3 174.6 196.9C173.7 195.6 172.6 194.3 171.6 193C170.5 191.7 169.7 190.2 168.4 189.1C167.2 188 165.7 186.8 164.2 186.5C162.6 186.1 160.7 186.4 159.2 187.1C157.8 187.8 156.2 189.9 155.6 190.5" stroke="#545454" stroke-width="2.9729855901430255"/>
<path d="M228.8 236.3C227.9 236.4 225.4 236.7 223.9 237.3C222.3 237.8 220.8 238.7 219.3 239.4C217.8 240.1 216.1 240.6 214.9 241.6C213.6 242.6 212.4 244 211.7 245.5C210.9 246.9 210.3 248.7 210.5 250.3C210.6 251.9 211.4 253.7 212.4 254.9C213.4 256.2 214.9 257.2 216.4 258C217.9 258.7 219.6 259.4 221.2 259.3C222.8 259.3 224.4 258.3 225.9 257.6C227.4 256.9 229.5 255.4 230.2 255" stroke="#646464" stroke-width="2.680580943976813"/>
<path d="M204.3 224.2C205.1 223.9 207.5 223.2 209 222.6C210.6 222 212.1 221.4 213.7 220.8C215.2 220.1 216.8 219.4 218.4 218.9C219.9 218.5 221.6 218.4 223.3 218.1C224.9 217.8 226.6 217.6 228.2 217.2C229.8 216.8 231.4 216.1 233 215.7C234.6 215.2 236.3 215 237.8 214.3C239.2 213.6 241.1 211.8 241.8 211.3" stroke="#555555" stroke-width="2.945479023027793"/>
<path d="M240.1 309.3C241 309.1 243.4 308.5 245 308.2C246.6 307.9 249.1 307.5 249.9 307.3" stroke="#4e4e4e" stroke-width="3.087205359434604"/>
<path d="M181.1 239C181.4 239.8 182.7 242.2 182.6 243.8C182.6 245.3 180.9 247.6 180.6 248.3" stroke="#525252" stroke-width="2.6159511081252544"/>
<path d="M228.6 249.5C228 250.1 226.2 251.9 225.1 253.1C224 254.3 223.2 255.9 221.8 256.9C220.5 257.9 218.7 258.1 217.3 258.9C215.8 259.6 214.5 260.9 213 261.4C211.4 262 209.7 262 208 262.4C206.4 262.8 204.6 263 203.3 263.9C201.9 264.8 201 266.4 199.9 267.6C198.8 268.9 197.3 270.8 196.7 271.5" stroke="#4f4f4f" stroke-width="2.945798333698907"/>
<path d="M186.3 257.6C186.5 256.8 187.2 254.4 187.6 252.8C188 251.2 188.4 249.5 188.9 247.9C189.4 246.4 189.9 244.7 190.7 243.3C191.4 241.8 192.5 240.4 193.5 239.2C194.6 237.9 195.6 236.3 197.1 235.6C198.5 234.9 200.4 235 202 235C203.7 235 205.3 235.5 207 235.7C208.6 235.9 210.3 236.1 211.9 236.3C213.6 236.6 216 237.1 216.8 237.3" stroke="#454545" stroke-width="2.7378796917350683"/>
<path d="M215.1 225C215.8 224.7 218.6 224.2 219.7 223.1C220.8 222 221.3 220 221.5 218.4C221.7 216.9 221 215.2 220.8 213.5C220.5 211.9 219.6 210 220.1 208.6C220.5 207.1 222 205.6 223.3 204.8C224.7 204 226.6 203.8 228.2 203.8C229.9 203.8 231.5 204.5 233.2 204.7C234.8 204.9 236.5 205 238.1 205C239.8 205.1 241.5 205.2 243.1 205.1C244.8 205.1 247.3 204.7 248.1 204.6" stroke="#454545" stroke-width="2.819968826320817"/>
<path d="M164.7 215.9C165.5 215.7 167.8 214.7 169.5 214.4C171.1 214.2 172.8 214.6 174.5 214.3C176.1 214 177.6 213.1 179.2 212.7C180.8 212.3 182.6 212.4 184.1 211.7C185.6 211 186.7 209.5 188 208.5C189.3 207.5 190.8 206.7 192.1 205.7C193.4 204.7 195.3 203 196 202.5" stroke="#4a4a4a" stroke-width="2.787550220212281"/>
<path d="M194.8 224.4C194.1 224 191.9 222.7 190.5 221.8C189.2 220.8 188 219.6 186.7 218.5C185.4 217.5 183.9 216.7 182.7 215.6C181.4 214.6 180.3 213.3 179 212.2C177.7 211.1 175.6 209.8 174.9 209.3" stroke="#474747" stroke-width="2.6476025802077734"/>
<path d="M171.9 218.8C172.8 218.6 175.3 217.6 176.8 217.8C178.4 218 180.7 218.8 181.3 219.9C182 221.1 181.6 223.7 180.8 224.9C179.9 226.2 178 226.9 176.4 227.4C174.9 227.9 172.9 228.3 171.4 227.8C170 227.4 168.5 226.1 167.5 224.8C166.5 223.5 165.6 221.8 165.5 220.2C165.4 218.6 165.8 216.6 166.7 215.4C167.7 214.2 170.4 213.4 171.2 213.1" stroke="#5e5e5e" stroke-width="3.2966587089677466"/>
<path d="M222.8 223C223.6 223.3 226.1 223.8 227.6 224.6C229.1 225.3 231.2 226.1 231.7 227.4C232.2 228.7 231.2 230.8 230.4 232.2C229.6 233.6 228.2 234.8 226.9 235.8C225.6 236.7 223.9 237.2 222.4 238C221 238.8 219.1 239.3 218.1 240.5C217.1 241.8 216.9 244.5 216.6 245.3" stroke="#575757" stroke-width="2.9316519860268984"/>
<path d="M220.8 285.3C220.1 284.9 218.1 283.2 216.6 282.6C215.1 282.1 213.2 281.9 211.6 282.1C210 282.4 207.8 283.8 207.1 284.2" stroke="#424242" stroke-width="2.8915434077014392"/>
<path d="M178.2 242C177.7 241.4 176.2 239.3 175.1 238.1C174 236.8 172.5 235.9 171.4 234.7C170.4 233.4 169 232 168.7 230.5C168.3 229 168.6 227 169.2 225.5C169.8 224.1 171.2 222.8 172.3 221.6C173.4 220.4 175.2 218.7 175.8 218.1" stroke="#5a5a5a" stroke-width="2.7665427509392284"/>
<path d="M244.1 211.2C243.8 212 242.8 214.3 242.5 215.9C242.2 217.5 242.3 219.2 242.1 220.9C241.9 222.6 241.7 224.2 241.5 225.9C241.3 227.5 241.1 229.2 241 230.8C240.9 232.5 241.1 234.2 240.6 235.8C240.2 237.4 239.1 238.8 238.4 240.3C237.7 241.8 237.2 243.4 236.5 244.9C235.8 246.4 234.9 247.9 234.3 249.4C233.7 251 233.2 252.6 233 254.2C232.8 255.9 233.2 258.4 233.2 259.2" stroke="#5b5b5b" stroke-width="3.381128886809056"/>
<path d="M189.7 205.6C189.3 204.9 187.8 202.9 186.8 201.5C185.9 200.1 185.1 198.6 184 197.4C182.8 196.2 181.4 194.9 179.9 194.5C178.4 194.1 176.6 195 174.9 195C173.3 194.9 171.6 194.2 170 194.2C168.3 194.2 165.8 194.8 165 194.9" stroke="#515151" stroke-width="3.119213628535374"/>
<path d="M241.1 279.5C240.3 279.3 238 278.1 236.4 278C234.8 277.9 232.9 278.2 231.4 278.8C229.9 279.4 228.8 280.8 227.3 281.7C225.9 282.5 224.4 283.2 222.8 283.9C221.3 284.5 219.7 285.1 218.1 285.4C216.5 285.8 214.7 286.2 213.1 285.9C211.5 285.6 209.7 284.7 208.7 283.5C207.8 282.3 207.7 280.3 207.2 278.7C206.6 277.1 206.1 275.5 205.3 274.1C204.6 272.6 203.2 271.4 202.5 270C201.8 268.5 201.5 265.9 201.3 265.1" stroke="#5b5b5b" stroke-width="2.8932840608972406"/>
<path d="M243.2 322.4C243.8 323 245.4 324.9 246.5 326.2C247.5 327.5 248.9 329.6 249.4 330.3" stroke="#454545" stroke-width="3.361980676616539"/>
<path d="M242.1 211.2C242.1 212 241.8 214.7 242.2 216.2C242.7 217.8 243.9 219.1 244.9 220.5C245.8 221.9 247.4 223 247.8 224.5C248.2 226 247.8 228 247.2 229.5C246.6 231 245.7 232.7 244.4 233.6C243.1 234.5 241.2 234.6 239.5 234.8C237.9 235 236.2 234.8 234.5 235C232.9 235.1 230.4 235.6 229.6 235.7" stroke="#484848" stroke-width="2.576071128512995"/>
<path d="M163.7 215.8C163 215.3 161 213.8 159.5 213.1C158 212.4 156.3 212 154.7 211.7C153 211.3 150.5 211.2 149.7 211" stroke="#646464" stroke-width="3.1583318320809353"/>
<path d="M185.9 213.1C186.7 212.7 188.9 211.5 190.4 210.9C192 210.4 193.6 210 195.3 209.6C196.9 209.3 198.6 208.8 200.2 209.1C201.8 209.3 203.4 210.2 204.9 210.9C206.4 211.7 207.8 212.5 209.2 213.5C210.6 214.4 212.5 216 213.2 216.5" stroke="#5f5f5f" stroke-width="2.4818060223497085"/>
<path d="M226.7 230.2C227.3 230.8 229.2 232.5 229.9 234C230.7 235.4 230.9 237.2 231.1 238.9C231.3 240.5 230.9 242.2 231.1 243.9C231.4 245.5 232 247.1 232.4 248.7C232.9 250.3 233.4 251.9 233.6 253.5C233.8 255.2 233.5 256.9 233.9 258.5C234.2 260.2 234.6 262 235.6 263.2C236.5 264.5 238.2 265.5 239.7 266C241.2 266.6 243.9 266.5 244.7 266.6" stroke="#4d4d4d" stroke-width="3.2391480301632916"/>
<path d="M236.5 285.9C236.9 286.6 238.3 288.6 239.2 290.1C240 291.5 240.2 293.6 241.4 294.6C242.6 295.5 244.9 296.3 246.2 295.9C247.6 295.5 248.9 293.6 249.6 292.2C250.4 290.8 250.9 288.7 250.5 287.3C250.2 285.8 248.5 284.6 247.3 283.5C246 282.4 244.3 281.8 243 280.8C241.7 279.8 240.1 277.9 239.5 277.3" stroke="#424242" stroke-width="3.1591271775637404"/>
<path d="M188.7 214.4C189.4 214 191.9 213.1 193.1 212.1C194.4 211 195.3 209.6 196.3 208.2C197.2 206.8 198.2 205.3 198.6 203.8C199.1 202.2 198.8 200.4 199 198.8C199.2 197.1 199.2 195.4 199.6 193.8C200 192.2 201.1 189.9 201.4 189.2" stroke="#5e5e5e" stroke-width="3.189693152849133"/>
<path d="M210.7 216.9C211.6 217 214.1 217.3 215.7 217.6C217.3 217.9 219.1 218.1 220.5 218.8C222 219.5 223.1 220.9 224.6 221.8C226 222.6 227.5 223.6 229.1 223.9C230.7 224.2 232.8 224.3 234.1 223.6C235.4 222.9 236.6 221.1 237.1 219.6C237.6 218.1 237.1 216.3 236.9 214.6C236.7 213 236 211.3 236.1 209.7C236.2 208.1 236.9 206.5 237.4 204.9C238 203.3 238.7 201.8 239.3 200.2C239.8 198.6 240.4 196.2 240.6 195.4" stroke="#515151" stroke-width="2.9226767029110805"/>
</g>
<g filter="url(#blur1)" fill="none" stroke-linecap="round" stroke-linejoin="round">
<path d="M250 222.7C247.9 224.5 241.4 229.3 237.6 233.5C233.8 237.7 230.5 244.2 226.9 247.8C223.3 251.4 219.6 253.2 216 255C212.4 256.8 209.2 257.4 205.3 258.6C201.4 259.8 196.4 261 192.8 262.2C189.2 263.4 185.3 265.2 183.8 265.8" stroke="#a7a7a7" stroke-width="2.9120000000000004"/>
<path d="M226.9 247.8C228.1 249.9 231.9 255.9 234 260.4C236.1 264.9 237.9 269.3 239.4 274.7C240.9 280.1 242.4 289.7 243 292.7" stroke="#999999" stroke-width="2.688"/>
<path d="M205.3 258.6C205.9 260.4 207.1 266.1 208.9 269.4C210.7 272.7 214.2 274.4 216 278.3C217.8 282.2 219.1 290.3 219.7 292.7" stroke="#919191" stroke-width="2.688"/>
<path d="M169.5 221C170.7 223.1 174.2 230.5 176.6 233.5C179 236.5 181.4 238.6 183.8 238.9C186.2 239.2 188.6 237.7 191 235.3C193.4 232.9 195.6 227.2 198 224.5C200.4 221.8 202.3 219 205.3 219C208.3 219 213.6 223.3 216 224.5C218.4 225.7 219.1 226 219.7 226.3" stroke="#898989" stroke-width="2.688"/>
<path d="M183.8 238.9C184.4 240.7 185.9 245.7 187.4 249.6C188.9 253.5 191.9 260.1 192.8 262.2" stroke="#878787" stroke-width="2.688"/>
<path d="M223.3 256.8C224.5 257.7 227.4 261.3 230.4 262.2C233.4 263.1 237.9 263.1 241.2 262.2C244.5 261.3 248.5 257.7 250 256.8" stroke="#8f8f8f" stroke-width="2.4640000000000004"/>
<path d="M216 278.3C217.8 279.2 223.6 283.1 226.9 283.7C230.2 284.3 234.3 282.3 235.8 282" stroke="#848484" stroke-width="2.4640000000000004"/>
<path d="M150 208C151.7 209 156.3 213 160 214C163.7 215 168.7 215 172 214C175.3 213 178.7 209 180 208" stroke="#797979" stroke-width="2.4640000000000004"/>
<path d="M200 206C201.3 207.3 207.1 211.8 208 214C208.9 216.2 205.8 218.2 205.3 219" stroke="#767676" stroke-width="2.4640000000000004"/>
<path d="M230 210C231 212 234.7 218.1 236 222C237.3 225.9 237.3 231.6 237.6 233.5" stroke="#6c6c6c" stroke-width="2.4640000000000004"/>
<path d="M164 293C165.8 294.5 170.9 299.3 174.8 302C178.7 304.7 184.4 307.2 187.4 309C190.4 310.8 192.8 310.3 192.8 312.7C192.8 315.1 188.6 320.8 187.4 323.5C186.2 326.2 185 326.6 185.6 329C186.2 331.4 188.6 334.5 191 337.8C193.4 341.1 197.3 345 200 348.6C202.7 352.2 204.6 355.8 207 359.4C209.4 363 212.2 366.1 214.3 370C216.4 373.9 218.8 380.6 219.7 382.7" stroke="#cfcfcf" stroke-width="2.9120000000000004"/>
<path d="M192.8 312.7C194.3 312.4 199.3 311.6 201.7 311C204.1 310.4 206.1 309.3 207 309" stroke="#bababa" stroke-width="2.688"/>
<path d="M185.6 329C183.8 329 178.7 328.7 174.8 329C170.9 329.3 166.2 329.8 162.3 330.7C158.4 331.6 155.1 332.8 151.5 334.3C147.9 335.8 143.8 336.9 140.8 339.6C137.8 342.3 134.8 348.6 133.6 350.4" stroke="#a7a7a7" stroke-width="2.9120000000000004"/>
<path d="M160.5 305.6C160.8 307.1 160.8 312.1 162.3 314.5C163.8 316.9 167.4 319.7 169.5 320C171.6 320.3 174.2 318.1 174.8 316.3C175.4 314.5 174.3 310.6 173 309C171.7 307.4 167.8 306.9 166.8 306.5" stroke="#999999" stroke-width="2.688"/>
<path d="M165.9 337.8C165.6 339.3 163.4 343.8 164 346.8C164.6 349.8 167.4 352.8 169.5 355.8C171.6 358.8 175.7 362 176.6 364.7C177.5 367.4 175.1 370.8 174.8 372" stroke="#818181" stroke-width="3.3600000000000003"/>
<path d="M182 337.8C181.4 339.3 178.7 343.8 178.4 346.8C178.1 349.8 179.7 354.3 180 355.8" stroke="#7c7c7c" stroke-width="3.3600000000000003"/>
<path d="M148 364.7C149.5 365 153.9 366.5 156.9 366.5C159.9 366.5 162.6 365 165.9 364.7C169.2 364.4 174.8 364.7 176.6 364.7" stroke="#8f8f8f" stroke-width="2.9120000000000004"/>
<path d="M216 293C215.7 294.5 213.7 299.3 214.3 302C214.9 304.7 217 307.5 219.7 309C222.4 310.5 226.8 311.9 230.4 311C234 310.1 238.5 306.8 241.2 303.8C243.9 300.8 245.7 294.8 246.6 293" stroke="#898989" stroke-width="2.688"/>
<path d="M237.6 316.3C238.8 317.8 242.7 323.2 244.8 325.3C246.9 327.4 249.1 328.4 250 329" stroke="#818181" stroke-width="2.688"/>
<path d="M225 345C226.2 347.2 229.5 353.5 232 358C234.5 362.5 238.7 369.7 240 372" stroke="#636363" stroke-width="2.688"/>
<path d="M10 303.8C11.2 303.5 14.5 301.1 17.2 302C19.9 302.9 23.3 308.7 26 309C28.7 309.3 31.5 305.9 33.3 303.8C35.1 301.7 36.9 298.4 36.9 296.6C36.9 294.8 33.9 293.6 33.3 293" stroke="#bababa" stroke-width="2.9120000000000004"/>
<path d="M26 309C26.6 310.8 27.9 317.3 29.7 320C31.5 322.7 34.2 323.8 36.9 325.3C39.6 326.8 44.4 328.3 45.9 328.9" stroke="#acacac" stroke-width="2.9120000000000004"/>
<path d="M10 312.7C11.2 313.3 15.4 313.9 17.2 316.3C19 318.7 19.9 323.4 20.8 327C21.7 330.6 22.9 335.4 22.6 337.8C22.3 340.2 19.6 340.8 19 341.4" stroke="#d2d2d2" stroke-width="3.3600000000000003"/>
<path d="M10 339.6C11.2 339.9 14.8 340.2 17.2 341.4C19.6 342.6 22.5 344.1 24.3 346.8C26.1 349.5 27.7 354 28 357.6C28.3 361.2 26.9 364.1 26 368.3C25.1 372.5 23.2 380.3 22.6 382.7" stroke="#acacac" stroke-width="2.9120000000000004"/>
<path d="M28 357.6C29.5 357.9 33.9 359.7 36.9 359.4C39.9 359.1 44.4 356.4 45.9 355.8" stroke="#a2a2a2" stroke-width="2.688"/>
<path d="M10 364.7C11.2 365 14.5 365.9 17.2 366.5C19.9 367.1 24.5 368 26 368.3" stroke="#919191" stroke-width="2.688"/>
<path d="M38.7 325.3C39.3 323.8 41.1 318.7 42.3 316.3C43.5 313.9 45.3 311.9 45.9 311" stroke="#999999" stroke-width="2.688"/>
<path d="M58.4 309C59.3 308.1 62 305.9 63.8 303.8C65.6 301.7 68 298.4 69.2 296.6C70.4 294.8 70.7 293.6 71 293" stroke="#bababa" stroke-width="2.688"/>
<path d="M58.4 311C59.6 311.9 63.3 314.5 65.6 316.3C67.8 318.1 70.4 319 71.9 321.7C73.4 324.4 74.3 328.3 74.6 332.5C74.9 336.7 74.2 342.1 73.7 346.8C73.2 351.6 72.7 356.5 71.9 361C71.2 365.5 70 370.1 69.2 373.7C68.5 377.3 67.7 381.2 67.4 382.7" stroke="#d8d8d8" stroke-width="3.3600000000000003"/>
<path d="M71.9 321.7C73.2 321.1 78.1 319.8 80 318C81.9 316.2 83.2 313.7 83.5 311C83.8 308.3 82.9 304.4 81.7 302C80.5 299.6 78.5 298.1 76.4 296.6C74.3 295.1 70.4 293.6 69.2 293" stroke="#bababa" stroke-width="2.9120000000000004"/>
<path d="M87 337.8C87.9 336.6 90.4 333.4 92.5 330.7C94.6 328 97.3 324.1 99.7 321.7C102.1 319.3 105.1 317.4 106.9 316.3C108.7 315.2 109.8 315.5 110.4 315.4" stroke="#919191" stroke-width="2.9120000000000004"/>
<path d="M88.9 377.3C90.4 375.8 95.5 371.6 97.9 368.3C100.3 365 101.8 361.8 103.3 357.6C104.8 353.4 106.9 347.7 106.9 343.2C106.9 338.7 103.6 334 103.3 330.7C103 327.4 103.8 326.1 105 323.5C106.2 320.9 109.2 317.8 110.4 315.4C111.6 313 110.4 310.9 112.2 309C114 307.1 118.2 305.3 121.2 303.8C124.2 302.3 128.5 300.6 130 300" stroke="#a7a7a7" stroke-width="3.3600000000000003"/>
<path d="M110.4 352.2C111.6 351.9 115.5 351.6 117.6 350.4C119.7 349.2 121.7 348 123 345C124.3 342 125 336.1 125.7 332.5C126.5 328.9 127.2 325 127.5 323.5" stroke="#8f8f8f" stroke-width="2.9120000000000004"/>
<path d="M96 303.8C96.6 304.7 97.9 307.8 99.7 309C101.5 310.2 105.7 310.7 106.9 311" stroke="#bababa" stroke-width="2.688"/>
<path d="M117.6 361C118.2 362.2 120.9 365.3 121.2 368.3C121.5 371.3 119.7 377.2 119.4 379" stroke="#8c8c8c" stroke-width="2.9120000000000004"/>
<path d="M110.4 315.4C111.9 316.2 116.7 318.8 119.4 320C122.1 321.2 125.4 322.2 126.6 322.6" stroke="#9c9c9c" stroke-width="2.688"/>
<path d="M22.6 247.8C23.8 248.4 27.3 251.4 29.7 251.4C32.1 251.4 34.8 249.3 36.9 247.8C39 246.3 40.5 244 42.3 242.5C44.1 241 46.2 240.1 47.7 238.9C49.2 237.7 50.7 235.9 51.3 235.3" stroke="#aaaaaa" stroke-width="2.9120000000000004"/>
<path d="M42.3 242.5C42.9 243.7 44.8 247.2 45.9 249.6C47 252 48.1 255.6 48.6 256.8" stroke="#979797" stroke-width="2.688"/>
<path d="M10 258.6C11.2 259.2 15.1 260.1 17.2 262.2C19.3 264.3 20.8 269.1 22.6 271.2C24.4 273.3 25.6 274.7 28 274.7C30.4 274.7 34.5 272.7 36.9 271.2C39.3 269.7 41.4 266.7 42.3 265.8" stroke="#919191" stroke-width="2.9120000000000004"/>
<path d="M10 235.3C11.2 235 14.8 235 17.2 233.5C19.6 232 21.9 228.1 24.3 226.3C26.7 224.5 29.4 224.5 31.5 222.7C33.6 220.9 35.4 218 36.9 215.6C38.4 213.2 39.9 209.6 40.5 208.4" stroke="#7c7c7c" stroke-width="2.9120000000000004"/>
<path d="M36.9 265.8C38.4 266.7 43.4 269.1 45.9 271.2C48.4 273.3 51 277.1 52 278.3" stroke="#919191" stroke-width="2.688"/>
<path d="M10 282C11.5 282.3 16 283.7 19 283.7C22 283.7 25.3 281.4 28 282C30.7 282.6 33.8 286.4 35 287.3" stroke="#898989" stroke-width="2.9120000000000004"/>
<path d="M60.2 251.4C60.8 250.8 62.3 249.9 63.8 247.8C65.3 245.7 67.1 241.9 69.2 238.9C71.3 235.9 74.3 233 76.4 230C78.5 227 80.7 223.7 81.7 221C82.7 218.3 82.7 216 82.6 213.8C82.5 211.6 81.2 209 80.9 208" stroke="#a4a4a4" stroke-width="2.9120000000000004"/>
<path d="M65.6 247.8C66.8 248.4 71 249.6 72.8 251.4C74.6 253.2 75.5 255.6 76.4 258.6C77.3 261.6 76.7 266.9 78.2 269.4C79.7 271.9 82.9 272.9 85.3 273.8C87.7 274.7 91.3 274.6 92.5 274.7" stroke="#bdbdbd" stroke-width="2.9120000000000004"/>
<path d="M63.8 273.8C65.3 274.2 69.8 275.1 72.8 276.5C75.8 277.9 78.7 281.2 81.7 282C84.7 282.8 89.2 281.2 90.7 281" stroke="#8f8f8f" stroke-width="2.688"/>
<path d="M85.3 213.8C86.5 215 90.1 218.3 92.5 221C94.9 223.7 97.6 227 99.7 230C101.8 233 103.5 235.6 105 238.9C106.5 242.2 107.7 246.6 108.7 249.6C109.8 252.6 110.9 255.6 111.3 256.8" stroke="#bababa" stroke-width="2.9120000000000004"/>
<path d="M87 208.4C88.5 209.3 92.7 212.3 96 213.8C99.3 215.3 104.2 215.2 106.9 217.3C109.6 219.4 109.8 224.7 112.2 226.3C114.6 228 118.2 227.2 121.2 227.2C124.2 227.2 127.3 226.5 130 226.3C132.7 226.2 135.5 225.7 137.2 226.3C138.8 226.9 140.2 228.3 139.9 230C139.6 231.7 136.6 234.7 135.4 236.2C134.2 237.7 133.1 238.4 132.7 238.9" stroke="#919191" stroke-width="2.688"/>
<path d="M81.7 225.4C82.6 226.8 85.5 231.2 87 233.5C88.5 235.8 88.6 237.4 90.7 238.9C92.8 240.4 96.4 241.3 99.7 242.5C103 243.7 106.8 245.2 110.4 246C114 246.8 117.9 246.7 121.2 247C124.5 247.3 126.9 247.1 130 247.8C133.1 248.5 138.3 250.5 140 251" stroke="#8c8c8c" stroke-width="2.688"/>
<path d="M86.2 243.4C87 244.4 89.4 247.4 90.7 249.6C92 251.8 93.1 254.9 94.3 256.8C95.5 258.8 96.4 260.4 97.9 261.3C99.4 262.2 102.4 262.1 103.3 262.2" stroke="#979797" stroke-width="2.688"/>
<path d="M103.3 262.2C104.5 261.9 107.7 260.3 110.4 260.4C113.1 260.5 117 261.5 119.4 263C121.8 264.5 124.5 267.1 124.8 269.4C125.1 271.6 123 275 121.2 276.5C119.4 278 116.4 277.1 114 278.3C111.6 279.5 108.7 282.2 106.9 283.7C105.1 285.2 103.4 286 103.3 287.3C103.2 288.6 104.7 290.5 106.5 291.4C108.3 292.3 111.5 293.1 114 292.9C116.5 292.7 119.9 291.7 121.4 290.3C123 288.9 123.9 286.2 123.3 284.7C122.7 283.1 119.9 282.6 117.7 281C115.5 279.4 112.5 277.2 110.2 275.3C107.9 273.4 105.1 271.6 103.9 269.7C102.7 267.8 103 265 102.8 264.1" stroke="#bababa" stroke-width="2.9120000000000004"/>
<path d="M92.5 274.7C93.7 274.6 96.7 273.9 99.7 273.8C102.7 273.7 106.8 274.2 110.4 273.8C114 273.4 117.9 271.5 121.2 271.2C124.5 270.9 126.7 271.9 130 272C133.3 272.1 137.2 271.8 140.8 272C144.4 272.2 147.9 273.1 151.5 273C155.1 272.9 158.7 271.8 162.3 271.2C165.9 270.6 171.2 269.7 173 269.4" stroke="#a7a7a7" stroke-width="2.9120000000000004"/>
<path d="M106.9 238C107.8 238 110.4 237.8 112.2 238C114 238.2 115.8 237.3 117.6 238.9C119.4 240.5 120.9 245.2 123 247.8C125.1 250.5 127.3 253.6 130 254.8C132.7 256 136 254.8 139 254.8C142 254.8 145.6 253.9 148 254.8C150.4 255.7 152.1 258 153.3 260.4C154.5 262.8 155 266.7 155 269.4C155 272.1 153.3 274.4 153.3 276.5C153.3 278.6 154.7 281.1 155 282" stroke="#bfbfbf" stroke-width="2.9120000000000004"/>
<path d="M176.6 269.3C175.4 270.3 172 272.9 169.3 275.1C166.6 277.3 163 280.2 160.6 282.4C158.2 284.6 156.1 286.7 154.8 288.2C153.6 289.7 153.9 289.7 153.1 291.5C152.3 293.3 151 296.6 150.1 299C149.2 301.4 148.5 303.7 147.9 305.7C147.3 307.7 147.3 309.2 146.4 311C145.5 312.8 144.1 314.6 142.7 316.2C141.3 317.8 139.3 319.1 138.2 320.7C137.1 322.3 136.5 323.8 135.9 325.9C135.3 328 134.8 331.1 134.4 333.4C134 335.6 133.9 337.4 133.7 339.4C133.4 341.4 133.2 343.6 132.9 345.4C132.7 347.1 132.3 349.1 132.2 349.9" stroke="#d8d8d8" stroke-width="3.3600000000000003"/>
<path d="M131.8 237C133 237 136.6 236.7 139 237C141.4 237.3 145 237.4 146 238.9C147 240.4 146.2 244.4 145.2 246C144.2 247.6 141.5 248.7 139.9 248.7C138.3 248.7 136.6 247.3 135.4 246C134.2 244.7 133.1 241.6 132.7 240.7" stroke="#919191" stroke-width="2.688"/>
<path d="M148 256C148.9 255.2 151.8 252.8 153.3 251.4C154.8 250 155.7 249 156.9 247.8C158.1 246.6 159.9 244.9 160.5 244.3" stroke="#979797" stroke-width="2.688"/>
<path d="M127 275.3C128.6 275.9 133.9 277.9 136.4 279C138.9 280.1 140.9 280.4 142 281.7C143.1 283 143.4 285.2 142.8 286.6C142.2 288 140.6 289.2 138.3 290.3C136 291.4 131.8 292.3 129 292.9C126.2 293.5 124.5 294 121.4 294C118.3 294 113.6 292.7 110.2 292.9C106.8 293.1 102.5 294.7 101 295.1" stroke="#a7a7a7" stroke-width="2.9120000000000004"/>
<path d="M173.7 285.3C172.7 286 169.3 288.7 167.9 289.6C166.5 290.5 166.4 289.5 165.1 290.7C163.8 291.9 161.4 294.6 159.9 296.7C158.4 298.8 157.2 301.1 156.1 303.5C155 305.9 153.8 308.5 153.1 311C152.3 313.5 152.1 316.2 151.6 318.4C151.1 320.6 150.7 322.4 150.1 324.4C149.5 326.4 148.6 328.6 147.9 330.4C147.2 332.1 146.1 334.1 145.7 334.9" stroke="#bdbdbd" stroke-width="3.136"/>
<path d="M148.8 340.5C149.1 341.6 151.2 344.7 150.6 346.8C150 348.9 146.5 350.9 145.2 353C143.9 355.1 143.3 356.8 142.6 359.4C141.9 361.9 141.7 366.4 140.8 368.3C139.9 370.2 138.5 371 137.2 371C135.8 371 133.4 370.2 132.7 368.3C131.9 366.4 132.7 360.9 132.7 359.4" stroke="#8c8c8c" stroke-width="2.9120000000000004"/>
<path d="M132.7 295.9C131.1 296.5 126.4 298.1 123.3 299.6C120.2 301.2 116.2 302.7 114 305.2C111.8 307.7 110.8 313 110.2 314.6" stroke="#9c9c9c" stroke-width="2.9120000000000004"/>
<path d="M140 288.4L149.5 290.3" stroke="#acacac" stroke-width="2.688"/>
<path d="M112 352.7C110.7 354.2 106.7 358.8 104 362C101.3 365.2 97.3 370.3 96 372" stroke="#7c7c7c" stroke-width="2.9120000000000004"/>
<path d="M60 330C61 331.7 65.3 336.3 66 340C66.7 343.7 65.3 348.7 64 352C62.7 355.3 59 358.7 58 360" stroke="#797979" stroke-width="2.9120000000000004"/>
<path d="M88 345C87.3 346.8 85.3 352.2 84 356C82.7 359.8 81 363.7 80 368C79 372.3 78.3 379.7 78 382" stroke="#727272" stroke-width="2.9120000000000004"/>
</g>
<g filter="url(#blur1)" fill="none" stroke-linecap="round" stroke-linejoin="round">
<path d="M55.5 236C55.8 240.3 56.9 254.7 57.1 262C57.3 269.3 56.9 275.2 56.8 280C56.6 284.8 56.7 286.7 56.2 291C55.7 295.3 54.8 301.2 54 306C53.2 310.8 51.9 314.7 51.2 320C50.5 325.3 50.2 332.7 49.8 338C49.4 343.3 49.2 347 48.6 352C48 357 46.9 362.5 46 368C45.1 373.5 43.5 382.2 43 385" stroke="url(#gC1h)" stroke-width="11.4"/>
<path d="M165 241.7C166.1 243.2 169.6 248.1 171.5 251C173.4 253.9 174.5 255.9 176.6 259C178.7 262.1 181.8 266.1 184 269.3C186.2 272.6 187.8 275.4 190 278.5C192.2 281.6 193.8 283.5 196.9 288C200 292.5 204.5 300.5 208.3 305.6C212.2 310.7 215.9 314.2 220 318.6C224.1 323 228.7 327.1 233 331.7C237.3 336.3 242.5 341.8 246 346.2C249.5 350.6 252.7 356 254 358" stroke="url(#gC2h)" stroke-width="9.8"/>
<path d="M55.5 236C55.8 240.3 56.9 254.7 57.1 262C57.3 269.3 56.9 275.2 56.8 280C56.6 284.8 56.7 286.7 56.2 291C55.7 295.3 54.8 301.2 54 306C53.2 310.8 51.9 314.7 51.2 320C50.5 325.3 50.2 332.7 49.8 338C49.4 343.3 49.2 347 48.6 352C48 357 46.9 362.5 46 368C45.1 373.5 43.5 382.2 43 385" stroke="url(#gC1)" stroke-width="8.4"/>
<path d="M165 241.7C166.1 243.2 169.6 248.1 171.5 251C173.4 253.9 174.5 255.9 176.6 259C178.7 262.1 181.8 266.1 184 269.3C186.2 272.6 187.8 275.4 190 278.5C192.2 281.6 193.8 283.5 196.9 288C200 292.5 204.5 300.5 208.3 305.6C212.2 310.7 215.9 314.2 220 318.6C224.1 323 228.7 327.1 233 331.7C237.3 336.3 242.5 341.8 246 346.2C249.5 350.6 252.7 356 254 358" stroke="url(#gC2)" stroke-width="6.8"/>
</g>
<g filter="url(#blur07)" fill="#fff">
<ellipse cx="42.3" cy="280" rx="1.2" ry="1.2"/>
<ellipse cx="166.8" cy="306.5" rx="1.1" ry="1.1"/>
</g>
<g fill="none" stroke-width="2.6" stroke-linecap="round" stroke-dasharray="0.1 3.7" filter="url(#blur04)" stroke-opacity="0.92">
<path d="M80.6 209.5C81 210.6 82.8 213.6 83 215.8C83.2 218.1 82.3 220.9 81.5 223C80.7 225.1 79.5 226.4 78 228.3C76.5 230.2 74.3 232.7 72.6 234.6C70.9 236.5 69 238.2 68 240C67 241.8 66.6 244.5 66.3 245.4" stroke="#28a8d8"/>
<path d="M87 208.2C88 209 90.8 211.6 93.2 213C95.6 214.4 98.8 215.8 101.3 216.7C103.8 217.6 106.8 217.4 108.4 218.5C110 219.6 110.1 221.5 111 223C111.9 224.5 112.1 226.7 113.8 227.4C115.5 228.1 118.3 227.6 121 227.4C123.7 227.2 127.3 226.3 130 226.2C132.7 226 135.4 225.9 137 226.5C138.6 227.1 139.8 228.7 139.8 230C139.8 231.3 138.1 233.2 137 234.6C135.9 236 133.9 236.7 133.5 238.2C133.1 239.7 133.8 241.8 134.4 243.6C135 245.4 136.6 248.1 137 249" stroke="#e83a78"/>
<path d="M87 215.8C88 216.5 91.3 218.4 93.2 220.2C95.1 222 97 224.2 98.6 226.5C100.2 228.8 101.8 231.3 103 233.7C104.2 236.1 104.8 238.5 105.7 240.9C106.6 243.3 107.5 245.8 108.4 248C109.3 250.2 110.6 252.5 111 254.3C111.4 256.1 111 258.1 111 258.8" stroke="#f2f2a8"/>
<path d="M83.3 228.3C84.2 229.5 86.6 233.4 88.7 235.5C90.8 237.6 93.2 239.6 95.9 240.9C98.6 242.2 101.8 242.7 104.8 243.6C107.8 244.5 110.8 245.6 113.8 246.3C116.8 247 119.8 247.4 122.8 248C125.8 248.6 129.3 249.2 131.7 249.8C134.1 250.4 136.1 251.1 137 251.3" stroke="#4052bc"/>
<path d="M87 241.8C87.4 242.8 88.7 246.1 89.6 248C90.5 249.9 91.6 251.6 92.3 253.4C93 255.2 93 257.5 94 258.8C95 260.1 97.3 260.4 98.6 261C99.9 261.6 101.4 262.2 102 262.4" stroke="#e0284a"/>
<path d="M117.4 234.6C118.6 234.4 122.2 233.7 124.6 233.7C127 233.7 129.3 234 131.7 234.6C134.1 235.2 136.6 236.6 139 237.3C141.4 238 144.5 237.9 146 239C147.5 240.1 148.3 242.1 148 243.6C147.7 245.1 145.8 247.1 144.3 248C142.8 248.9 139.9 248.8 139 249" stroke="#d2e028"/>
<path d="M107.5 238.2C108.8 238.2 113.9 237.6 115.6 238.2C117.2 238.8 116.5 240.2 117.4 241.8C118.3 243.4 119.5 246.2 121 248C122.5 249.8 124.6 251 126.4 252.5C128.2 254 129.6 256.2 131.7 257C133.8 257.8 136.3 257.6 139 257.4C141.7 257.2 145.6 255.8 148 256C150.4 256.2 152.3 257.4 153.3 258.8C154.3 260.2 154.3 262.1 154.2 264.2C154 266.3 152.6 269.3 152.4 271.4C152.2 273.5 152.6 274.7 153.3 276.8C154.1 278.9 156.3 282.8 156.9 284" stroke="#3cb8e8"/>
<path d="M66.3 248C67.3 248.6 70.8 250.1 72.6 251.6C74.4 253.1 76.3 254.9 77 257C77.7 259.1 76.8 261.9 77 264.2C77.2 266.4 77 268.9 78 270.5C79 272.1 81.2 273.2 83.3 274C85.4 274.8 89.3 274.8 90.5 275" stroke="#f0a040"/>
<path d="M62.7 274C63.9 274.2 67.5 274.2 69.9 275C72.3 275.8 74.8 277.3 77 278.5C79.2 279.7 81 281.6 83.3 282C85.5 282.4 89.3 281.3 90.5 281.2" stroke="#6666d4"/>
<path d="M92.3 274C93.8 273.9 98 273.2 101.3 273.2C104.6 273.2 108.4 274 112 274C115.6 274 119.5 273.6 122.8 273.2C126.1 272.8 128.7 271.3 131.7 271.4C134.7 271.5 137.7 273.6 140.7 274C143.7 274.4 146.4 274.3 149.7 274C153 273.7 157.1 272.7 160.4 272.3C163.7 271.9 167.9 271.5 169.4 271.4" stroke="#66c24a"/>
<path d="M102.8 264.1C104 263.5 107.4 260.8 110.2 260.4C113 260 116.8 260.6 119.6 261.5C122.4 262.4 125.4 264.3 127 266C128.6 267.7 129.3 269.7 129 271.6C128.7 273.5 127.1 276 125.2 277.2C123.3 278.4 120.2 278.1 117.7 279C115.2 279.9 112.4 281.5 110.2 282.8C108 284.1 105.2 285.2 104.6 286.6C104 288 104.9 290.3 106.5 291.4C108.1 292.4 111.5 293.1 114 292.9C116.5 292.7 119.9 291.7 121.4 290.3C123 288.9 123.9 286.2 123.3 284.7C122.7 283.1 119.9 282.6 117.7 281C115.5 279.4 112.5 277.2 110.2 275.3C107.9 273.4 105.1 271.6 103.9 269.7C102.7 267.8 103 265 102.8 264.1" stroke="#f2c81e"/>
<path d="M127 275.3C128.6 275.9 133.9 277.9 136.4 279C138.9 280.1 140.9 280.4 142 281.7C143.1 283 143.4 285.2 142.8 286.6C142.2 288 140.6 289.2 138.3 290.3C136 291.4 131.8 292.3 129 292.9C126.2 293.5 122.7 293.8 121.4 294" stroke="#f2c81e"/>
<path d="M119.6 295.1C121.2 294.9 126.2 294.6 129 294C131.8 293.4 134.2 292.3 136.4 291.4C138.6 290.5 141.1 288.9 142 288.4" stroke="#30b8e8"/>
<path d="M101 295.1C102.5 294.7 107.1 293.5 110.2 292.9C113.3 292.3 116.5 292.1 119.6 291.4C122.7 290.6 125.6 288.9 129 288.4C132.4 287.9 136.6 288.1 140 288.4C143.4 288.7 147.9 290 149.5 290.3" stroke="#b030a0"/>
<path d="M176.6 269.3C175.4 270.3 172 272.9 169.3 275.1C166.6 277.3 163 280.2 160.6 282.4C158.2 284.6 156.1 286.7 154.8 288.2C153.6 289.7 153.9 289.7 153.1 291.5C152.3 293.3 151 296.6 150.1 299C149.2 301.4 148.5 303.7 147.9 305.7C147.3 307.7 147.3 309.2 146.4 311C145.5 312.8 144.1 314.6 142.7 316.2C141.3 317.8 139.3 319.1 138.2 320.7C137.1 322.3 136.5 323.8 135.9 325.9C135.3 328 134.8 331.1 134.4 333.4C134 335.6 133.9 337.4 133.7 339.4C133.4 341.4 133.2 343.6 132.9 345.4C132.7 347.1 132.3 349.1 132.2 349.9" stroke="#e8218a"/>
<path d="M173.7 285.3C172.7 286 169.3 288.7 167.9 289.6C166.5 290.5 166.4 289.5 165.1 290.7C163.8 291.9 161.4 294.6 159.9 296.7C158.4 298.8 157.2 301.1 156.1 303.5C155 305.9 153.8 308.5 153.1 311C152.3 313.5 152.1 316.2 151.6 318.4C151.1 320.6 150.7 322.4 150.1 324.4C149.5 326.4 148.6 328.6 147.9 330.4C147.2 332.1 146.1 334.1 145.7 334.9" stroke="#e8218a"/>
<path d="M132.7 297.5C131.6 298.1 128.2 300.1 126.2 301.2C124.2 302.3 122.9 303.2 121 304.2C119.1 305.2 116.6 306.2 115 307.2C113.4 308.2 112 309.1 111.2 310.2C110.5 311.3 111.1 312.5 110.5 314C109.9 315.5 108.6 317.6 107.5 319.2C106.4 320.8 104.5 322.1 103.7 323.7C103 325.3 102.5 327.3 103 328.9C103.5 330.5 105.7 331.9 106.7 333.4C107.7 334.9 108.8 336.3 109 337.9C109.2 339.5 108.7 341.5 108.2 343.1C107.7 344.7 106.9 346 106 347.6C105.1 349.2 103.6 351 103 352.9C102.4 354.8 102.7 356.7 102.2 358.9C101.7 361.1 101.2 363.6 100 366C98.8 368.4 96.8 371.4 95 373.5C93.2 375.6 90 378 89 378.9" stroke="#3a54c8"/>
<path d="M85.2 341.5C86 340.4 88 337.4 89.7 335.1C91.4 332.8 93.6 330 95.3 327.7C97 325.4 98.6 323.1 100 321.5C101.4 319.9 102.1 318.8 103.7 318C105.3 317.2 107.7 316.4 109.7 316.7C111.8 316.9 113.9 318.5 116 319.5C118.1 320.5 120.6 321.9 122.5 322.6C124.4 323.3 126.4 325.1 127.5 323.5C128.6 321.9 128.5 315.6 129.2 313.2C129.8 310.8 129.9 310.6 131.4 309.2C132.9 307.8 135.9 306.3 138.2 305C140.4 303.7 143.8 301.8 144.9 301.2" stroke="#f0608a"/>
<path d="M126.9 325.9C126.7 326.6 125.9 328.6 125.4 330.4C124.9 332.1 124.4 334.5 124 336.4C123.6 338.3 123.7 340 123.2 341.6C122.7 343.2 121.8 344.9 121 346.1C120.2 347.4 119.7 348.4 118.7 349.1C117.7 349.9 116.2 350.2 115 350.6C113.8 351 111.8 351.5 111.2 351.7" stroke="#b8d832"/>
<path d="M149.4 340.9C149.5 341.8 150.2 344.4 150.1 346.1C150 347.9 149.6 350 148.7 351.4C147.8 352.8 145.8 353.1 144.9 354.4C144 355.6 143.8 357.3 143.4 358.9C143 360.5 143.2 362.5 142.7 364.1C142.2 365.7 141.5 367.5 140.4 368.6C139.3 369.7 137.3 370.9 135.9 370.8C134.5 370.7 132.8 369.3 132.2 367.8C131.6 366.3 132.2 363.9 132.2 361.9C132.2 359.9 132.2 356.9 132.2 355.9" stroke="#20a8c8"/>
</g>
<g font-size="12" text-anchor="middle" filter="url(#blur03)" stroke-width="0.3">
<text x="73.5" y="224.2" fill="#28a8d8" stroke="#28a8d8">16</text>
<text x="101.6" y="227.5" fill="#f2f2a8" stroke="#f2f2a8">10</text>
<text x="124.2" y="223" fill="#e83a78" stroke="#e83a78">14</text>
<text x="81.2" y="241.6" fill="#4052bc" stroke="#4052bc">13</text>
<text x="152.7" y="241.6" fill="#d2e028" stroke="#d2e028">17</text>
<text x="155.4" y="256.5" fill="#3cb8e8" stroke="#3cb8e8">11</text>
<text x="67.2" y="262.3" fill="#f0a040" stroke="#f0a040">15</text>
<text x="85.5" y="262.3" fill="#e0284a" stroke="#e0284a">12</text>
<text x="162.6" y="269" fill="#66c24a" stroke="#66c24a">5</text>
<text x="116" y="273.6" fill="#f2c81e" stroke="#f2c81e">6</text>
<text x="174.8" y="273.6" fill="#e8218a" stroke="#e8218a">1</text>
<text x="68.6" y="287.4" fill="#6666d4" stroke="#6666d4">7</text>
<text x="173.4" y="289.2" fill="#e8218a" stroke="#e8218a">2</text>
<text x="139.2" y="302.2" fill="#30b8e8" stroke="#30b8e8">18</text>
<text x="105.2" y="306.7" fill="#b030a0" stroke="#b030a0">8</text>
<text x="83" y="349.2" fill="#e060a0" stroke="#e060a0">4</text>
<text x="97.9" y="360.4" fill="#3a54c8" stroke="#3a54c8">3</text>
<text x="120.2" y="361.1" fill="#b8d832" stroke="#b8d832">9</text>
<text x="154" y="365.3" fill="#40a0e0" stroke="#40a0e0">19</text>
</g>
<text x="15.3" y="228.8" font-size="24" fill="#f2a63a" filter="url(#blur03)">c</text>
</g>
<path d="M345.8 13.2V157.4H553M343.2 13.2H345.8M343.2 37.2H345.8M343.2 61.3H345.8M343.2 85.3H345.8M343.2 109.3H345.8M343.2 133.3H345.8M343.2 157.4H345.8M362.7 157.4V160M379.2 157.4V160M395.8 157.4V160M412.4 157.4V160M428.9 157.4V160M445.4 157.4V160M462 157.4V160M478.6 157.4V160M495.1 157.4V160M511.6 157.4V160M528.2 157.4V160M544.8 157.4V160" stroke="#1c1c1c" stroke-width="1.1" fill="none"/>
<text transform="translate(339.4 16.5) scale(1.0 1)" font-size="9.0" text-anchor="end" font-weight="bold" fill="#000" stroke="#000" stroke-width="0.3">6000</text>
<text transform="translate(339.4 40.5) scale(1.0 1)" font-size="9.0" text-anchor="end" font-weight="bold" fill="#000" stroke="#000" stroke-width="0.3">5000</text>
<text transform="translate(339.4 64.6) scale(1.0 1)" font-size="9.0" text-anchor="end" font-weight="bold" fill="#000" stroke="#000" stroke-width="0.3">4000</text>
<text transform="translate(339.4 88.6) scale(1.0 1)" font-size="9.0" text-anchor="end" font-weight="bold" fill="#000" stroke="#000" stroke-width="0.3">3000</text>
<text transform="translate(339.4 112.6) scale(1.0 1)" font-size="9.0" text-anchor="end" font-weight="bold" fill="#000" stroke="#000" stroke-width="0.3">2000</text>
<text transform="translate(339.4 136.7) scale(1.0 1)" font-size="9.0" text-anchor="end" font-weight="bold" fill="#000" stroke="#000" stroke-width="0.3">1000</text>
<text transform="translate(339.4 160.7) scale(1.0 1)" font-size="9.0" text-anchor="end" font-weight="bold" fill="#000" stroke="#000" stroke-width="0.3">0</text>
<text transform="translate(362.7 173.4) scale(1.0 1)" font-size="8.9" text-anchor="middle" font-weight="bold" fill="#000" stroke="#000" stroke-width="0.3">S1</text>
<text transform="translate(379.2 173.4) scale(1.0 1)" font-size="8.9" text-anchor="middle" font-weight="bold" fill="#000" stroke="#000" stroke-width="0.3">S2</text>
<text transform="translate(395.8 173.4) scale(1.0 1)" font-size="8.9" text-anchor="middle" font-weight="bold" fill="#000" stroke="#000" stroke-width="0.3">S3</text>
<text transform="translate(412.4 173.4) scale(1.0 1)" font-size="8.9" text-anchor="middle" font-weight="bold" fill="#000" stroke="#000" stroke-width="0.3">S4</text>
<text transform="translate(428.9 173.4) scale(1.0 1)" font-size="8.9" text-anchor="middle" font-weight="bold" fill="#000" stroke="#000" stroke-width="0.3">S5</text>
<text transform="translate(445.4 173.4) scale(1.0 1)" font-size="8.9" text-anchor="middle" font-weight="bold" fill="#000" stroke="#000" stroke-width="0.3">S6</text>
<text transform="translate(462 173.4) scale(1.0 1)" font-size="8.9" text-anchor="middle" font-weight="bold" fill="#000" stroke="#000" stroke-width="0.3">S7</text>
<text transform="translate(478.6 173.4) scale(1.0 1)" font-size="8.9" text-anchor="middle" font-weight="bold" fill="#000" stroke="#000" stroke-width="0.3">S8</text>
<text transform="translate(495.1 173.4) scale(1.0 1)" font-size="8.9" text-anchor="middle" font-weight="bold" fill="#000" stroke="#000" stroke-width="0.3">S9</text>
<text transform="translate(511.6 173.4) scale(1.0 1)" font-size="8.9" text-anchor="middle" font-weight="bold" fill="#000" stroke="#000" stroke-width="0.3">S10</text>
<text transform="translate(528.2 173.4) scale(1.0 1)" font-size="8.9" text-anchor="middle" font-weight="bold" fill="#000" stroke="#000" stroke-width="0.3">S11</text>
<text transform="translate(544.8 173.4) scale(1.0 1)" font-size="8.9" text-anchor="middle" font-weight="bold" fill="#000" stroke="#000" stroke-width="0.3">S12</text>
<text font-size="11.6" text-anchor="middle" font-weight="bold" fill="#000" stroke="#000" stroke-width="0.3" transform="translate(306.9 85.9) rotate(-90)">Speed <tspan letter-spacing="0">(<tspan font-weight="normal" font-size="1.0em">µ</tspan>m/s)</tspan></text>
<text transform="translate(298.3 22.6) scale(1.0 1)" font-size="23.5" text-anchor="start" font-weight="normal" fill="#d9820f">b</text>
<path d="M358.1 44.6H367.3" stroke="#222" stroke-width="1.0" fill="none"/>
<path d="M362.7 44.6V25.9M358.1 25.9H367.3" stroke="#222" stroke-width="1.0" fill="none"/>
<path d="M362.7 44.6V58.4M358.1 58.4H367.3" stroke="#222" stroke-width="1.0" fill="none"/>
<rect x="374.6" y="44.4" width="9.4" height="17.7" fill="#fff" stroke="#222" stroke-width="1.0"/>
<path d="M374.6 60H383.9" stroke="#222" stroke-width="1.0" fill="none"/>
<path d="M379.2 44.4V27.7M374.6 27.7H383.9" stroke="#222" stroke-width="1.0" fill="none"/>
<path d="M379.2 62.1V78.2M374.6 78.2H383.9" stroke="#222" stroke-width="1.0" fill="none"/>
<rect x="391.1" y="44.6" width="9.4" height="25.6" fill="#fff" stroke="#222" stroke-width="1.0"/>
<path d="M391.1 59H400.5" stroke="#222" stroke-width="1.0" fill="none"/>
<path d="M395.8 44.6V27.7M391.2 27.7H400.4" stroke="#222" stroke-width="1.0" fill="none"/>
<rect x="407.7" y="101.4" width="9.4" height="27.1" fill="#fff" stroke="#222" stroke-width="1.0"/>
<path d="M407.7 120.4H417.1" stroke="#222" stroke-width="1.0" fill="none"/>
<path d="M412.4 101.4V87.1M407.8 87.1H417" stroke="#222" stroke-width="1.0" fill="none"/>
<path d="M412.4 128.5V143M407.8 143H417" stroke="#222" stroke-width="1.0" fill="none"/>
<rect x="424.2" y="95.5" width="9.4" height="36.7" fill="#fff" stroke="#222" stroke-width="1.0"/>
<path d="M424.2 123H433.6" stroke="#222" stroke-width="1.0" fill="none"/>
<path d="M428.9 95.5V78.5M424.3 78.5H433.5" stroke="#222" stroke-width="1.0" fill="none"/>
<path d="M428.9 132.2V136M424.3 136H433.5" stroke="#222" stroke-width="1.0" fill="none"/>
<rect x="440.8" y="131.3" width="9.4" height="4" fill="#fff" stroke="#222" stroke-width="1.0"/>
<path d="M440.8 133.5H450.1" stroke="#222" stroke-width="1.0" fill="none"/>
<path d="M445.4 131.3V123.3M440.8 123.3H450.1" stroke="#222" stroke-width="1.0" fill="none"/>
<path d="M445.4 135.3V141.7M440.8 141.7H450.1" stroke="#222" stroke-width="1.0" fill="none"/>
<rect x="457.3" y="97.3" width="9.4" height="11.1" fill="#fff" stroke="#222" stroke-width="1.0"/>
<path d="M457.3 103.5H466.7" stroke="#222" stroke-width="1.0" fill="none"/>
<path d="M462 97.3V91.9M457.4 91.9H466.6" stroke="#222" stroke-width="1.0" fill="none"/>
<path d="M462 108.4V122.2M457.4 122.2H466.6" stroke="#222" stroke-width="1.0" fill="none"/>
<rect x="473.9" y="114.3" width="9.4" height="7.7" fill="#fff" stroke="#222" stroke-width="1.0"/>
<path d="M473.9 119.1H483.2" stroke="#222" stroke-width="1.0" fill="none"/>
<path d="M478.6 122V130.4M473.9 130.4H483.2" stroke="#222" stroke-width="1.0" fill="none"/>
<rect x="490.4" y="122.7" width="9.4" height="9.9" fill="#fff" stroke="#222" stroke-width="1.0"/>
<path d="M490.4 130.8H499.8" stroke="#222" stroke-width="1.0" fill="none"/>
<path d="M495.1 132.6V138.9M490.5 138.9H499.7" stroke="#222" stroke-width="1.0" fill="none"/>
<rect x="506.9" y="113.4" width="9.4" height="10" fill="#fff" stroke="#222" stroke-width="1.0"/>
<path d="M506.9 117.7H516.4" stroke="#222" stroke-width="1.0" fill="none"/>
<path d="M511.6 113.4V111.6M507 111.6H516.2" stroke="#222" stroke-width="1.0" fill="none"/>
<path d="M511.6 123.4V133M507 133H516.2" stroke="#222" stroke-width="1.0" fill="none"/>
<rect x="523.5" y="97.1" width="9.4" height="10.9" fill="#fff" stroke="#222" stroke-width="1.0"/>
<path d="M523.5 103.4H532.9" stroke="#222" stroke-width="1.0" fill="none"/>
<path d="M528.2 97.1V87.2M523.6 87.2H532.8" stroke="#222" stroke-width="1.0" fill="none"/>
<path d="M528.2 108V120.2M523.6 120.2H532.8" stroke="#222" stroke-width="1.0" fill="none"/>
<rect x="540" y="92.3" width="9.4" height="42.6" fill="#fff" stroke="#222" stroke-width="1.0"/>
<path d="M540 133.1H549.5" stroke="#222" stroke-width="1.0" fill="none"/>
<path d="M544.8 92.3V69.9M540.1 69.9H549.4" stroke="#222" stroke-width="1.0" fill="none"/>
<circle cx="362.7" cy="25.9" r="2.1" fill="#ff00ff" stroke="#000" stroke-width="0.5"/>
<path d="M362.7 42.1L365.1 44.6L362.7 47.1L360.2 44.6Z" fill="#007000" stroke="#000" stroke-width="0.5"/>
<rect x="360.9" y="56.6" width="3.6" height="3.6" fill="#800000" stroke="#000" stroke-width="0.5"/>
<path d="M379.2 28.1L381.4 24.3L377.1 24.3Z" fill="#ff0000" stroke="#000" stroke-width="0.5"/>
<circle cx="379.2" cy="44.4" r="2.1" fill="#ffffff" stroke="#0a6a0a" stroke-width="0.75"/>
<rect x="377.4" y="57.2" width="3.6" height="3.6" fill="#800000" stroke="#000" stroke-width="0.5"/>
<path d="M379.2 67.5L381.7 69.9L379.2 72.4L376.8 69.9Z" fill="#007000" stroke="#000" stroke-width="0.5"/>
<path d="M379.2 76.3L381.4 80.2L377.1 80.2Z" fill="#0000ff" stroke="#000" stroke-width="0.5"/>
<circle cx="395.8" cy="25.9" r="2.1" fill="#000000" stroke="#000" stroke-width="0.5"/>
<path d="M395.8 42.1L398.2 44.6L395.8 47.1L393.4 44.6Z" fill="#007000" stroke="#000" stroke-width="0.5"/>
<circle cx="395.8" cy="59" r="2.1" fill="#00ffff" stroke="#000" stroke-width="0.5"/>
<circle cx="395.8" cy="70.2" r="2.1" fill="#ffffff" stroke="#0a6a0a" stroke-width="0.75"/>
<path d="M412.4 83.4L414.5 87.3L410.2 87.3Z" fill="#0000ff" stroke="#000" stroke-width="0.5"/>
<path d="M412.4 99L414.8 101.4L412.4 103.9L409.9 101.4Z" fill="#007000" stroke="#000" stroke-width="0.5"/>
<path d="M412.4 111.1L414.5 107.2L410.2 107.2Z" fill="#ffffff" stroke="#555" stroke-width="0.75"/>
<circle cx="412.4" cy="120.4" r="2.1" fill="#00ffff" stroke="#000" stroke-width="0.5"/>
<rect x="410.6" y="125" width="3.6" height="3.6" fill="#800000" stroke="#000" stroke-width="0.5"/>
<path d="M412.4 134.2L414.5 130.3L410.2 130.3Z" fill="#ff0000" stroke="#000" stroke-width="0.5"/>
<rect x="410.6" y="141.9" width="3.6" height="3.6" fill="#00ff00" stroke="#000" stroke-width="0.5"/>
<path d="M428.9 76L431.3 78.5L428.9 81L426.4 78.5Z" fill="#007000" stroke="#000" stroke-width="0.5"/>
<circle cx="428.9" cy="85.6" r="2.1" fill="#ffffff" stroke="#555" stroke-width="0.75"/>
<rect x="427.1" y="103.2" width="3.6" height="3.6" fill="#800000" stroke="#000" stroke-width="0.5"/>
<circle cx="428.9" cy="118.4" r="2.1" fill="#00ffff" stroke="#000" stroke-width="0.5"/>
<circle cx="428.9" cy="123.4" r="2.1" fill="#ff00ff" stroke="#000" stroke-width="0.5"/>
<circle cx="428.9" cy="128.8" r="2.1" fill="#000000" stroke="#000" stroke-width="0.5"/>
<path d="M428.9 138.2L431 134.3L426.8 134.3Z" fill="#ff0000" stroke="#000" stroke-width="0.5"/>
<path d="M428.9 130.5L431.3 132.9L428.9 135.3L426.4 132.9Z" fill="#ffff00" stroke="#000" stroke-width="0.5"/>
<circle cx="445.4" cy="123.3" r="2.1" fill="#000000" stroke="#000" stroke-width="0.5"/>
<path d="M445.4 124L447.9 126.5L445.4 128.9L443 126.5Z" fill="#007000" stroke="#000" stroke-width="0.5"/>
<circle cx="445.4" cy="132.4" r="2.1" fill="#00ffff" stroke="#000" stroke-width="0.5"/>
<path d="M445.4 136.2L447.6 132.3L443.3 132.3Z" fill="#ffffff" stroke="#555" stroke-width="0.75"/>
<path d="M445.4 135L447.9 137.4L445.4 139.8L443 137.4Z" fill="#ffff00" stroke="#000" stroke-width="0.5"/>
<rect x="443.6" y="139.9" width="3.6" height="3.6" fill="#800000" stroke="#000" stroke-width="0.5"/>
<circle cx="462" cy="91.9" r="2.1" fill="#000000" stroke="#000" stroke-width="0.5"/>
<circle cx="462" cy="98" r="2.1" fill="#ffffff" stroke="#555" stroke-width="0.75"/>
<path d="M462 105.7L464.1 101.8L459.9 101.8Z" fill="#ff0000" stroke="#000" stroke-width="0.5"/>
<path d="M462 99.1L464.4 101.6L462 104L459.6 101.6Z" fill="#ffff00" stroke="#000" stroke-width="0.5"/>
<path d="M462 106L464.4 108.4L462 110.9L459.6 108.4Z" fill="#007000" stroke="#000" stroke-width="0.5"/>
<rect x="460.2" y="120.4" width="3.6" height="3.6" fill="#800000" stroke="#000" stroke-width="0.5"/>
<rect x="476.8" y="112" width="3.6" height="3.6" fill="#800000" stroke="#000" stroke-width="0.5"/>
<path d="M478.6 118.5L481 120.9L478.6 123.4L476.1 120.9Z" fill="#ffff00" stroke="#000" stroke-width="0.5"/>
<path d="M478.6 115.8L481 118.2L478.6 120.7L476.1 118.2Z" fill="#007000" stroke="#000" stroke-width="0.5"/>
<circle cx="478.6" cy="126.7" r="2.1" fill="#00ffff" stroke="#000" stroke-width="0.5"/>
<path d="M478.6 128.2L480.7 132.1L476.4 132.1Z" fill="#0000ff" stroke="#000" stroke-width="0.5"/>
<circle cx="495.1" cy="122.2" r="2.1" fill="#000000" stroke="#000" stroke-width="0.5"/>
<path d="M495.1 120.9L497.2 124.8L493 124.8Z" fill="#0000ff" stroke="#000" stroke-width="0.5"/>
<path d="M495.1 129.8L497.6 132.2L495.1 134.6L492.7 132.2Z" fill="#007000" stroke="#000" stroke-width="0.5"/>
<circle cx="495.1" cy="140.1" r="2.1" fill="#ff00ff" stroke="#000" stroke-width="0.5"/>
<circle cx="511.6" cy="111.6" r="2.1" fill="#00ffff" stroke="#000" stroke-width="0.5"/>
<path d="M511.6 114.5L514.1 117L511.6 119.5L509.2 117Z" fill="#ffff00" stroke="#000" stroke-width="0.5"/>
<path d="M511.6 111.6L514.1 114.1L511.6 116.5L509.2 114.1Z" fill="#007000" stroke="#000" stroke-width="0.5"/>
<circle cx="511.6" cy="123.6" r="2.1" fill="#ff00ff" stroke="#000" stroke-width="0.5"/>
<rect x="509.8" y="131.7" width="3.6" height="3.6" fill="#00ff00" stroke="#000" stroke-width="0.5"/>
<rect x="526.4" y="84.2" width="3.6" height="3.6" fill="#00ff00" stroke="#000" stroke-width="0.5"/>
<rect x="526.4" y="95.3" width="3.6" height="3.6" fill="#800000" stroke="#000" stroke-width="0.5"/>
<circle cx="528.2" cy="105.2" r="2.1" fill="#00ffff" stroke="#000" stroke-width="0.5"/>
<path d="M528.2 99.1L530.7 101.6L528.2 104L525.8 101.6Z" fill="#007000" stroke="#000" stroke-width="0.5"/>
<path d="M528.2 119L530.4 115.1L526.1 115.1Z" fill="#ff0000" stroke="#000" stroke-width="0.5"/>
<path d="M528.2 118.1L530.7 120.6L528.2 123L525.8 120.6Z" fill="#ffff00" stroke="#000" stroke-width="0.5"/>
<circle cx="544.8" cy="69.9" r="2.1" fill="#00ffff" stroke="#000" stroke-width="0.5"/>
<rect x="543" y="76.8" width="3.6" height="3.6" fill="#800000" stroke="#000" stroke-width="0.5"/>
<path d="M544.8 132L547.2 134.4L544.8 136.8L542.3 134.4Z" fill="#ffffff" stroke="#555" stroke-width="0.75"/>
<path d="M544.8 129.8L547.2 132.2L544.8 134.6L542.3 132.2Z" fill="#007000" stroke="#000" stroke-width="0.5"/>
<rect x="556.7" y="6.7" width="50" height="118.6" fill="#fff" stroke="#333" stroke-width="1.1"/>
<circle cx="571" cy="15.9" r="2.3" fill="#000000" stroke="#000" stroke-width="0.5"/>
<text transform="translate(587.3 18.9) scale(1.0 1)" font-size="8.4" text-anchor="start" font-weight="normal" fill="#000">T1</text>
<path d="M571 29.3L573.3 25.1L568.7 25.1Z" fill="#ff0000" stroke="#000" stroke-width="0.5"/>
<text transform="translate(587.3 30) scale(1.0 1)" font-size="8.4" text-anchor="start" font-weight="normal" fill="#000">T2</text>
<rect x="569.1" y="36.1" width="3.9" height="3.9" fill="#00ff00" stroke="#000" stroke-width="0.5"/>
<text transform="translate(587.3 41.1) scale(1.0 1)" font-size="8.4" text-anchor="start" font-weight="normal" fill="#000">T3</text>
<path d="M571 46.5L573.6 49.1L571 51.8L568.4 49.1Z" fill="#ffff00" stroke="#000" stroke-width="0.5"/>
<text transform="translate(587.3 52.1) scale(1.0 1)" font-size="8.4" text-anchor="start" font-weight="normal" fill="#000">T4</text>
<path d="M571 57.9L573.3 62.1L568.7 62.1Z" fill="#0000ff" stroke="#000" stroke-width="0.5"/>
<text transform="translate(587.3 63.2) scale(1.0 1)" font-size="8.4" text-anchor="start" font-weight="normal" fill="#000">T5</text>
<circle cx="571" cy="71.3" r="2.3" fill="#ff00ff" stroke="#000" stroke-width="0.5"/>
<text transform="translate(587.3 74.3) scale(1.0 1)" font-size="8.4" text-anchor="start" font-weight="normal" fill="#000">T6</text>
<circle cx="571" cy="82.4" r="2.3" fill="#00ffff" stroke="#000" stroke-width="0.5"/>
<text transform="translate(587.3 85.4) scale(1.0 1)" font-size="8.4" text-anchor="start" font-weight="normal" fill="#000">T7</text>
<path d="M571 95.8L573.3 91.6L568.7 91.6Z" fill="#ffffff" stroke="#555" stroke-width="0.75"/>
<text transform="translate(587.3 96.5) scale(1.0 1)" font-size="8.4" text-anchor="start" font-weight="normal" fill="#000">T8</text>
<rect x="569.1" y="102.6" width="3.9" height="3.9" fill="#800000" stroke="#000" stroke-width="0.5"/>
<text transform="translate(587.3 107.5) scale(1.0 1)" font-size="8.4" text-anchor="start" font-weight="normal" fill="#000">T9</text>
<path d="M571 113L573.6 115.6L571 118.3L568.4 115.6Z" fill="#007000" stroke="#000" stroke-width="0.5"/>
<text transform="translate(587.3 118.6) scale(1.0 1)" font-size="8.4" text-anchor="start" font-weight="normal" fill="#000">T10</text>
<path d="M346.3 212.9V370.3H648.5M343.7 212.9H346.3M343.7 239.1H346.3M343.7 265.4H346.3M343.7 291.6H346.3M343.7 317.8H346.3M343.7 344.1H346.3M343.7 370.3H346.3M375.6 370.3V372.9M406.7 370.3V372.9M437.9 370.3V372.9M469.1 370.3V372.9M500.2 370.3V372.9M531.4 370.3V372.9M562.5 370.3V372.9M593.7 370.3V372.9M624.9 370.3V372.9" stroke="#1c1c1c" stroke-width="1.1" fill="none"/>
<path d="M360 370.8V372.4M391.2 370.8V372.4M422.3 370.8V372.4M453.5 370.8V372.4M484.6 370.8V372.4M515.8 370.8V372.4M547 370.8V372.4M578.1 370.8V372.4M609.3 370.8V372.4M640.4 370.8V372.4" stroke="#777" stroke-width="1" fill="none"/>
<text transform="translate(339.8 215.6) scale(1.0 1)" font-size="7.5" text-anchor="end" font-weight="bold" fill="#000" stroke="#000" stroke-width="0.3">6000</text>
<text transform="translate(339.8 241.8) scale(1.0 1)" font-size="7.5" text-anchor="end" font-weight="bold" fill="#000" stroke="#000" stroke-width="0.3">5000</text>
<text transform="translate(339.8 268.1) scale(1.0 1)" font-size="7.5" text-anchor="end" font-weight="bold" fill="#000" stroke="#000" stroke-width="0.3">4000</text>
<text transform="translate(339.8 294.3) scale(1.0 1)" font-size="7.5" text-anchor="end" font-weight="bold" fill="#000" stroke="#000" stroke-width="0.3">3000</text>
<text transform="translate(339.8 320.5) scale(1.0 1)" font-size="7.5" text-anchor="end" font-weight="bold" fill="#000" stroke="#000" stroke-width="0.3">2000</text>
<text transform="translate(339.8 346.8) scale(1.0 1)" font-size="7.5" text-anchor="end" font-weight="bold" fill="#000" stroke="#000" stroke-width="0.3">1000</text>
<text transform="translate(339.8 373) scale(1.0 1)" font-size="7.5" text-anchor="end" font-weight="bold" fill="#000" stroke="#000" stroke-width="0.3">0</text>
<text transform="translate(360 384.2) scale(1.0 1)" font-size="7.3" text-anchor="middle" font-weight="bold" fill="#000" stroke="#000" stroke-width="0.3">S1</text>
<text transform="translate(375.6 384.2) scale(1.0 1)" font-size="7.3" text-anchor="middle" font-weight="bold" fill="#000" stroke="#000" stroke-width="0.3">S2</text>
<text transform="translate(391.2 384.2) scale(1.0 1)" font-size="7.3" text-anchor="middle" font-weight="bold" fill="#000" stroke="#000" stroke-width="0.3">S3</text>
<text transform="translate(406.7 384.2) scale(1.0 1)" font-size="7.3" text-anchor="middle" font-weight="bold" fill="#000" stroke="#000" stroke-width="0.3">S4</text>
<text transform="translate(422.3 384.2) scale(1.0 1)" font-size="7.3" text-anchor="middle" font-weight="bold" fill="#000" stroke="#000" stroke-width="0.3">S5</text>
<text transform="translate(437.9 384.2) scale(1.0 1)" font-size="7.3" text-anchor="middle" font-weight="bold" fill="#000" stroke="#000" stroke-width="0.3">S6</text>
<text transform="translate(453.5 384.2) scale(1.0 1)" font-size="7.3" text-anchor="middle" font-weight="bold" fill="#000" stroke="#000" stroke-width="0.3">S7</text>
<text transform="translate(469.1 384.2) scale(1.0 1)" font-size="7.3" text-anchor="middle" font-weight="bold" fill="#000" stroke="#000" stroke-width="0.3">S8</text>
<text transform="translate(484.6 384.2) scale(1.0 1)" font-size="7.3" text-anchor="middle" font-weight="bold" fill="#000" stroke="#000" stroke-width="0.3">S9</text>
<text transform="translate(500.2 384.2) scale(1.0 1)" font-size="7.3" text-anchor="middle" font-weight="bold" fill="#000" stroke="#000" stroke-width="0.3">S10</text>
<text transform="translate(515.8 384.2) scale(1.0 1)" font-size="7.3" text-anchor="middle" font-weight="bold" fill="#000" stroke="#000" stroke-width="0.3">S11</text>
<text transform="translate(531.4 384.2) scale(1.0 1)" font-size="7.3" text-anchor="middle" font-weight="bold" fill="#000" stroke="#000" stroke-width="0.3">S12</text>
<text transform="translate(547 384.2) scale(1.0 1)" font-size="7.3" text-anchor="middle" font-weight="bold" fill="#000" stroke="#000" stroke-width="0.3">S13</text>
<text transform="translate(562.5 384.2) scale(1.0 1)" font-size="7.3" text-anchor="middle" font-weight="bold" fill="#000" stroke="#000" stroke-width="0.3">S14</text>
<text transform="translate(578.1 384.2) scale(1.0 1)" font-size="7.3" text-anchor="middle" font-weight="bold" fill="#000" stroke="#000" stroke-width="0.3">S15</text>
<text transform="translate(593.7 384.2) scale(1.0 1)" font-size="7.3" text-anchor="middle" font-weight="bold" fill="#000" stroke="#000" stroke-width="0.3">S16</text>
<text transform="translate(609.3 384.2) scale(1.0 1)" font-size="7.3" text-anchor="middle" font-weight="bold" fill="#000" stroke="#000" stroke-width="0.3">S17</text>
<text transform="translate(624.9 384.2) scale(1.0 1)" font-size="7.3" text-anchor="middle" font-weight="bold" fill="#000" stroke="#000" stroke-width="0.3">S18</text>
<text transform="translate(640.4 384.2) scale(1.0 1)" font-size="7.3" text-anchor="middle" font-weight="bold" fill="#000" stroke="#000" stroke-width="0.3">S19</text>
<text font-size="10.8" text-anchor="middle" font-weight="bold" fill="#000" stroke="#000" stroke-width="0.3" transform="translate(310.6 293) rotate(-90)">Speed <tspan letter-spacing="0.2">(<tspan font-weight="normal" font-size="1.05em">µ</tspan>m/s)</tspan></text>
<text transform="translate(296.9 223.9) scale(1.0 1)" font-size="25.2" text-anchor="start" font-weight="normal" fill="#d9820f">d</text>
<rect x="355.3" y="323" width="9.4" height="19" fill="#fff" stroke="#222" stroke-width="1.0"/>
<path d="M355.3 335.2H364.7" stroke="#222" stroke-width="1.0" fill="none"/>
<path d="M360 323V313.2M355.4 313.2H364.6" stroke="#222" stroke-width="1.0" fill="none"/>
<path d="M360 342V344.2M355.4 344.2H364.6" stroke="#222" stroke-width="1.0" fill="none"/>
<rect x="370.9" y="339.6" width="9.4" height="5.9" fill="#fff" stroke="#222" stroke-width="1.0"/>
<path d="M370.9 342.5H380.3" stroke="#222" stroke-width="1.0" fill="none"/>
<path d="M375.6 345.5V352.1M371 352.1H380.2" stroke="#222" stroke-width="1.0" fill="none"/>
<rect x="386.5" y="342.2" width="9.4" height="4.2" fill="#fff" stroke="#222" stroke-width="1.0"/>
<path d="M386.5 344.5H395.9" stroke="#222" stroke-width="1.0" fill="none"/>
<path d="M391.2 346.4V349M386.6 349H395.8" stroke="#222" stroke-width="1.0" fill="none"/>
<rect x="402" y="336.3" width="9.4" height="9" fill="#fff" stroke="#222" stroke-width="1.0"/>
<path d="M402 342H411.4" stroke="#222" stroke-width="1.0" fill="none"/>
<path d="M406.7 336.3V333.8M402.1 333.8H411.3" stroke="#222" stroke-width="1.0" fill="none"/>
<path d="M406.7 345.3V352M402.1 352H411.3" stroke="#222" stroke-width="1.0" fill="none"/>
<rect x="417.6" y="338.1" width="9.4" height="13.9" fill="#fff" stroke="#222" stroke-width="1.0"/>
<path d="M417.6 346H427" stroke="#222" stroke-width="1.0" fill="none"/>
<path d="M422.3 352V357.3M417.7 357.3H426.9" stroke="#222" stroke-width="1.0" fill="none"/>
<rect x="433.2" y="335.3" width="9.4" height="8.1" fill="#fff" stroke="#222" stroke-width="1.0"/>
<path d="M433.2 339.3H442.6" stroke="#222" stroke-width="1.0" fill="none"/>
<path d="M437.9 343.4V352.5M433.3 352.5H442.5" stroke="#222" stroke-width="1.0" fill="none"/>
<rect x="448.8" y="331.6" width="9.4" height="20.9" fill="#fff" stroke="#222" stroke-width="1.0"/>
<path d="M448.8 350.5H458.2" stroke="#222" stroke-width="1.0" fill="none"/>
<path d="M453.5 331.6V292.2M448.9 292.2H458.1" stroke="#222" stroke-width="1.0" fill="none"/>
<rect x="464.4" y="338.6" width="9.4" height="5.5" fill="#fff" stroke="#222" stroke-width="1.0"/>
<path d="M464.4 341.6H473.8" stroke="#222" stroke-width="1.0" fill="none"/>
<path d="M469.1 338.6V323.2M464.5 323.2H473.7" stroke="#222" stroke-width="1.0" fill="none"/>
<path d="M469.1 344.1V354.6M464.5 354.6H473.7" stroke="#222" stroke-width="1.0" fill="none"/>
<rect x="479.9" y="341.6" width="9.4" height="8.6" fill="#fff" stroke="#222" stroke-width="1.0"/>
<path d="M479.9 346H489.3" stroke="#222" stroke-width="1.0" fill="none"/>
<path d="M484.6 341.6V339M480 339H489.2" stroke="#222" stroke-width="1.0" fill="none"/>
<path d="M484.6 350.2V352.8M480 352.8H489.2" stroke="#222" stroke-width="1.0" fill="none"/>
<rect x="495.5" y="347.5" width="9.4" height="3.8" fill="#fff" stroke="#222" stroke-width="1.0"/>
<path d="M495.5 349.5H504.9" stroke="#222" stroke-width="1.0" fill="none"/>
<path d="M500.2 347.5V345.3M495.6 345.3H504.8" stroke="#222" stroke-width="1.0" fill="none"/>
<rect x="511.1" y="325.6" width="9.4" height="35.7" fill="#fff" stroke="#222" stroke-width="1.0"/>
<path d="M511.1 334.8H520.5" stroke="#222" stroke-width="1.0" fill="none"/>
<path d="M515.8 325.6V322.9M511.2 322.9H520.4" stroke="#222" stroke-width="1.0" fill="none"/>
<rect x="526.7" y="304.2" width="9.4" height="54.3" fill="#fff" stroke="#222" stroke-width="1.0"/>
<path d="M526.7 313.2H536.1" stroke="#222" stroke-width="1.0" fill="none"/>
<path d="M531.4 304.2V299M526.8 299H536" stroke="#222" stroke-width="1.0" fill="none"/>
<path d="M531.4 358.5V360.3M526.8 360.3H536" stroke="#222" stroke-width="1.0" fill="none"/>
<rect x="542.3" y="351.4" width="9.4" height="6.1" fill="#fff" stroke="#222" stroke-width="1.0"/>
<path d="M542.3 355H551.7" stroke="#222" stroke-width="1.0" fill="none"/>
<path d="M547 351.4V349.2M542.4 349.2H551.6" stroke="#222" stroke-width="1.0" fill="none"/>
<path d="M547 357.5V361.2M542.4 361.2H551.6" stroke="#222" stroke-width="1.0" fill="none"/>
<rect x="557.8" y="344.3" width="9.4" height="4.7" fill="#fff" stroke="#222" stroke-width="1.0"/>
<path d="M557.8 346.5H567.2" stroke="#222" stroke-width="1.0" fill="none"/>
<path d="M562.5 344.3V337.7M557.9 337.7H567.1" stroke="#222" stroke-width="1.0" fill="none"/>
<rect x="573.4" y="356.6" width="9.4" height="3.6" fill="#fff" stroke="#222" stroke-width="1.0"/>
<path d="M573.4 358.5H582.8" stroke="#222" stroke-width="1.0" fill="none"/>
<path d="M578.1 356.6V350.7M573.5 350.7H582.7" stroke="#222" stroke-width="1.0" fill="none"/>
<rect x="589" y="330.2" width="9.4" height="10.2" fill="#fff" stroke="#222" stroke-width="1.0"/>
<path d="M589 333.5H598.4" stroke="#222" stroke-width="1.0" fill="none"/>
<path d="M593.7 330.2V322.8M589.1 322.8H598.3" stroke="#222" stroke-width="1.0" fill="none"/>
<path d="M593.7 340.4V343.6M589.1 343.6H598.3" stroke="#222" stroke-width="1.0" fill="none"/>
<rect x="604.6" y="353.4" width="9.4" height="4.9" fill="#fff" stroke="#222" stroke-width="1.0"/>
<path d="M604.6 357H614" stroke="#222" stroke-width="1.0" fill="none"/>
<path d="M609.3 353.4V292.3M604.7 292.3H613.9" stroke="#222" stroke-width="1.0" fill="none"/>
<path d="M609.3 358.3V360.7M604.7 360.7H613.9" stroke="#222" stroke-width="1.0" fill="none"/>
<rect x="620.2" y="304" width="9.4" height="46.9" fill="#fff" stroke="#222" stroke-width="1.0"/>
<path d="M620.2 342.4H629.6" stroke="#222" stroke-width="1.0" fill="none"/>
<path d="M624.9 304V292.3M620.3 292.3H629.5" stroke="#222" stroke-width="1.0" fill="none"/>
<path d="M624.9 350.9V355.8M620.3 355.8H629.5" stroke="#222" stroke-width="1.0" fill="none"/>
<rect x="635.7" y="322.8" width="9.4" height="19.1" fill="#fff" stroke="#222" stroke-width="1.0"/>
<path d="M635.7 335.5H645.1" stroke="#222" stroke-width="1.0" fill="none"/>
<path d="M640.4 322.8V313.1M635.8 313.1H645" stroke="#222" stroke-width="1.0" fill="none"/>
<path d="M640.4 341.9V344.1M635.8 344.1H645" stroke="#222" stroke-width="1.0" fill="none"/>
<rect x="358.2" y="318.6" width="3.6" height="3.6" fill="#800000" stroke="#000" stroke-width="0.5"/>
<circle cx="360" cy="325.7" r="2.1" fill="#00ffff" stroke="#000" stroke-width="0.5"/>
<path d="M360 320.6L362.4 323L360 325.4L357.6 323Z" fill="#007000" stroke="#000" stroke-width="0.5"/>
<path d="M360 329.2L362.4 331.7L360 334.1L357.6 331.7Z" fill="#ffff00" stroke="#000" stroke-width="0.5"/>
<circle cx="375.6" cy="338.3" r="2.1" fill="#ff00ff" stroke="#000" stroke-width="0.5"/>
<rect x="373.8" y="342.4" width="3.6" height="3.6" fill="#800000" stroke="#000" stroke-width="0.5"/>
<path d="M375.6 339.1L378 341.5L375.6 343.9L373.1 341.5Z" fill="#007000" stroke="#000" stroke-width="0.5"/>
<path d="M375.6 350.6L378 353L375.6 355.4L373.1 353Z" fill="#ffff00" stroke="#000" stroke-width="0.5"/>
<path d="M391.2 347.2L393.6 349.6L391.2 352.1L388.7 349.6Z" fill="#ffff00" stroke="#000" stroke-width="0.5"/>
<circle cx="391.2" cy="347.8" r="2.1" fill="#ff00ff" stroke="#000" stroke-width="0.5"/>
<rect x="389.4" y="343.7" width="3.6" height="3.6" fill="#800000" stroke="#000" stroke-width="0.5"/>
<path d="M391.2 339.9L393.6 342.4L391.2 344.8L388.7 342.4Z" fill="#007000" stroke="#000" stroke-width="0.5"/>
<circle cx="406.7" cy="333.8" r="2.1" fill="#000000" stroke="#000" stroke-width="0.5"/>
<circle cx="406.7" cy="342.3" r="2.1" fill="#ffffff" stroke="#555" stroke-width="0.75"/>
<path d="M406.7 333.9L409.2 336.3L406.7 338.8L404.3 336.3Z" fill="#007000" stroke="#000" stroke-width="0.5"/>
<circle cx="406.7" cy="352" r="2.1" fill="#0000ff" stroke="#000" stroke-width="0.5"/>
<rect x="404.9" y="348.4" width="3.6" height="3.6" fill="#00ff00" stroke="#000" stroke-width="0.5"/>
<path d="M422.3 359.8L424.5 355.9L420.2 355.9Z" fill="#ffffff" stroke="#555" stroke-width="0.75"/>
<rect x="420.5" y="351.3" width="3.6" height="3.6" fill="#800000" stroke="#000" stroke-width="0.5"/>
<path d="M422.3 350.4L424.5 346.6L420.2 346.6Z" fill="#ff0000" stroke="#000" stroke-width="0.5"/>
<rect x="420.5" y="343.5" width="3.6" height="3.6" fill="#00ff00" stroke="#000" stroke-width="0.5"/>
<circle cx="422.3" cy="340.8" r="2.1" fill="#ff00ff" stroke="#000" stroke-width="0.5"/>
<path d="M422.3 335.4L424.8 337.8L422.3 340.2L419.9 337.8Z" fill="#007000" stroke="#000" stroke-width="0.5"/>
<circle cx="437.9" cy="334.5" r="2.1" fill="#ff00ff" stroke="#000" stroke-width="0.5"/>
<circle cx="437.9" cy="346" r="2.1" fill="#00ffff" stroke="#000" stroke-width="0.5"/>
<path d="M437.9 343.8L440 339.9L435.8 339.9Z" fill="#ffff00" stroke="#000" stroke-width="0.5"/>
<path d="M437.9 335.4L440.3 337.8L437.9 340.2L435.4 337.8Z" fill="#007000" stroke="#000" stroke-width="0.5"/>
<path d="M437.9 350.1L440.3 352.5L437.9 354.9L435.4 352.5Z" fill="#ffffff" stroke="#555" stroke-width="0.75"/>
<circle cx="453.5" cy="292.2" r="2.1" fill="#000000" stroke="#000" stroke-width="0.5"/>
<path d="M453.5 339.9L455.9 342.3L453.5 344.8L451 342.3Z" fill="#ffff00" stroke="#000" stroke-width="0.5"/>
<circle cx="453.5" cy="349.3" r="2.1" fill="#000000" stroke="#000" stroke-width="0.5"/>
<path d="M453.5 348.9L455.9 351.3L453.5 353.8L451 351.3Z" fill="#007000" stroke="#000" stroke-width="0.5"/>
<path d="M469.1 320.8L471.5 323.2L469.1 325.6L466.6 323.2Z" fill="#ffff00" stroke="#000" stroke-width="0.5"/>
<path d="M469.1 329.5L471.2 333.3L466.9 333.3Z" fill="#0000ff" stroke="#000" stroke-width="0.5"/>
<circle cx="469.1" cy="339.6" r="2.1" fill="#ff00ff" stroke="#000" stroke-width="0.5"/>
<circle cx="469.1" cy="346" r="2.1" fill="#00ffff" stroke="#000" stroke-width="0.5"/>
<path d="M469.1 340.7L471.5 343.1L469.1 345.6L466.6 343.1Z" fill="#007000" stroke="#000" stroke-width="0.5"/>
<rect x="467.3" y="353.5" width="3.6" height="3.6" fill="#800000" stroke="#000" stroke-width="0.5"/>
<path d="M484.6 340.2L487.1 342.6L484.6 345.1L482.2 342.6Z" fill="#ffff00" stroke="#000" stroke-width="0.5"/>
<path d="M484.6 337.9L487.1 340.4L484.6 342.8L482.2 340.4Z" fill="#007000" stroke="#000" stroke-width="0.5"/>
<path d="M484.6 346.8L486.8 342.9L482.5 342.9Z" fill="#ffffff" stroke="#555" stroke-width="0.75"/>
<circle cx="484.6" cy="347.5" r="2.1" fill="#ff00ff" stroke="#000" stroke-width="0.5"/>
<rect x="482.8" y="351" width="3.6" height="3.6" fill="#00ff00" stroke="#000" stroke-width="0.5"/>
<path d="M484.6 348.9L486.8 352.7L482.5 352.7Z" fill="#0000ff" stroke="#000" stroke-width="0.5"/>
<rect x="498.4" y="349.5" width="3.6" height="3.6" fill="#800000" stroke="#000" stroke-width="0.5"/>
<path d="M500.2 344.8L502.7 347.2L500.2 349.6L497.8 347.2Z" fill="#007000" stroke="#000" stroke-width="0.5"/>
<path d="M515.8 325L517.9 321.2L513.6 321.2Z" fill="#ffffff" stroke="#555" stroke-width="0.75"/>
<rect x="514" y="323.8" width="3.6" height="3.6" fill="#00ff00" stroke="#000" stroke-width="0.5"/>
<rect x="514" y="330.1" width="3.6" height="3.6" fill="#800000" stroke="#000" stroke-width="0.5"/>
<path d="M515.8 332.9L518.2 335.3L515.8 337.8L513.3 335.3Z" fill="#ffff00" stroke="#000" stroke-width="0.5"/>
<circle cx="515.8" cy="361.4" r="2.1" fill="#00ffff" stroke="#000" stroke-width="0.5"/>
<path d="M515.8 355.6L518.2 358L515.8 360.4L513.3 358Z" fill="#007000" stroke="#000" stroke-width="0.5"/>
<circle cx="531.4" cy="299" r="2.1" fill="#00ffff" stroke="#000" stroke-width="0.5"/>
<path d="M531.4 315.6L533.5 311.8L529.2 311.8Z" fill="#ffffff" stroke="#555" stroke-width="0.75"/>
<path d="M531.4 306.7L533.8 309.1L531.4 311.6L528.9 309.1Z" fill="#007000" stroke="#000" stroke-width="0.5"/>
<path d="M531.4 363.1L533.5 359.3L529.2 359.3Z" fill="#ff0000" stroke="#000" stroke-width="0.5"/>
<rect x="529.6" y="356.7" width="3.6" height="3.6" fill="#800000" stroke="#000" stroke-width="0.5"/>
<rect x="545.2" y="348.6" width="3.6" height="3.6" fill="#800000" stroke="#000" stroke-width="0.5"/>
<path d="M547 358.6L549.1 362.4L544.8 362.4Z" fill="#0000ff" stroke="#000" stroke-width="0.5"/>
<path d="M547 353.4L549.4 355.8L547 358.2L544.5 355.8Z" fill="#007000" stroke="#000" stroke-width="0.5"/>
<rect x="560.7" y="335.9" width="3.6" height="3.6" fill="#00ff00" stroke="#000" stroke-width="0.5"/>
<circle cx="562.5" cy="343.6" r="2.1" fill="#00ffff" stroke="#000" stroke-width="0.5"/>
<path d="M562.5 351.3L564.7 347.5L560.4 347.5Z" fill="#ff0000" stroke="#000" stroke-width="0.5"/>
<rect x="560.7" y="345" width="3.6" height="3.6" fill="#800000" stroke="#000" stroke-width="0.5"/>
<path d="M578.1 348.2L580.6 350.7L578.1 353.1L575.7 350.7Z" fill="#ffff00" stroke="#000" stroke-width="0.5"/>
<path d="M578.1 358.1L580.3 361.9L576 361.9Z" fill="#0000ff" stroke="#000" stroke-width="0.5"/>
<path d="M578.1 355.1L580.6 357.5L578.1 359.9L575.7 357.5Z" fill="#007000" stroke="#000" stroke-width="0.5"/>
<circle cx="593.7" cy="322.8" r="2.1" fill="#000000" stroke="#000" stroke-width="0.5"/>
<path d="M593.7 322.2L595.9 326L591.6 326Z" fill="#0000ff" stroke="#000" stroke-width="0.5"/>
<circle cx="593.7" cy="333.8" r="2.1" fill="#ff00ff" stroke="#000" stroke-width="0.5"/>
<path d="M593.7 328.9L596.2 331.4L593.7 333.8L591.2 331.4Z" fill="#007000" stroke="#000" stroke-width="0.5"/>
<path d="M593.7 343.3L595.9 339.5L591.6 339.5Z" fill="#ffffff" stroke="#555" stroke-width="0.75"/>
<path d="M593.7 345.8L595.9 341.9L591.6 341.9Z" fill="#ffff00" stroke="#000" stroke-width="0.5"/>
<circle cx="609.3" cy="247.3" r="2.1" fill="#00ffff" stroke="#000" stroke-width="0.5"/>
<circle cx="609.3" cy="292.3" r="2.1" fill="#ff00ff" stroke="#000" stroke-width="0.5"/>
<circle cx="609.3" cy="353.4" r="2.1" fill="#ffffff" stroke="#555" stroke-width="0.75"/>
<path d="M609.3 355.4L611.7 357.8L609.3 360.2L606.8 357.8Z" fill="#ffff00" stroke="#000" stroke-width="0.5"/>
<path d="M609.3 358.2L611.7 360.7L609.3 363.1L606.8 360.7Z" fill="#007000" stroke="#000" stroke-width="0.5"/>
<circle cx="624.9" cy="292.3" r="2.1" fill="#000000" stroke="#000" stroke-width="0.5"/>
<path d="M624.9 306.1L627 302.3L622.7 302.3Z" fill="#ff0000" stroke="#000" stroke-width="0.5"/>
<circle cx="624.9" cy="308.7" r="2.1" fill="#00ffff" stroke="#000" stroke-width="0.5"/>
<path d="M624.9 339.9L627.3 342.4L624.9 344.8L622.4 342.4Z" fill="#ffff00" stroke="#000" stroke-width="0.5"/>
<circle cx="624.9" cy="349.2" r="2.1" fill="#ff00ff" stroke="#000" stroke-width="0.5"/>
<rect x="623.1" y="354" width="3.6" height="3.6" fill="#00ff00" stroke="#000" stroke-width="0.5"/>
<circle cx="640.4" cy="313.1" r="2.1" fill="#000000" stroke="#000" stroke-width="0.5"/>
<circle cx="640.4" cy="320.2" r="2.1" fill="#00ffff" stroke="#000" stroke-width="0.5"/>
<rect x="638.6" y="329.6" width="3.6" height="3.6" fill="#00ff00" stroke="#000" stroke-width="0.5"/>
<circle cx="640.4" cy="333.8" r="2.1" fill="#ff00ff" stroke="#000" stroke-width="0.5"/>
<path d="M640.4 337.9L642.6 341.7L638.3 341.7Z" fill="#0000ff" stroke="#000" stroke-width="0.5"/>
<path d="M640.4 333.9L642.9 336.3L640.4 338.8L638 336.3Z" fill="#007000" stroke="#000" stroke-width="0.5"/>
<path d="M640.4 341.7L642.9 344.1L640.4 346.6L638 344.1Z" fill="#ffff00" stroke="#000" stroke-width="0.5"/>
<rect x="631.4" y="196.3" width="45" height="86" fill="#fff" stroke="#333" stroke-width="1"/>
<circle cx="642.7" cy="204.3" r="2.2" fill="#000000" stroke="#000" stroke-width="0.5"/>
<text transform="translate(653.7 206.5) scale(1.0 1)" font-size="6.2" text-anchor="start" font-weight="normal" fill="#000">T1</text>
<path d="M642.7 214.4L645 210.3L640.4 210.3Z" fill="#ff0000" stroke="#000" stroke-width="0.5"/>
<text transform="translate(653.7 214.3) scale(1.0 1)" font-size="6.2" text-anchor="start" font-weight="normal" fill="#000">T2</text>
<rect x="640.8" y="218" width="3.8" height="3.8" fill="#00ff00" stroke="#000" stroke-width="0.5"/>
<text transform="translate(653.7 222.1) scale(1.0 1)" font-size="6.2" text-anchor="start" font-weight="normal" fill="#000">T3</text>
<path d="M642.7 225.1L645.3 227.7L642.7 230.3L640.1 227.7Z" fill="#ffff00" stroke="#000" stroke-width="0.5"/>
<text transform="translate(653.7 229.9) scale(1.0 1)" font-size="6.2" text-anchor="start" font-weight="normal" fill="#000">T4</text>
<path d="M642.7 233.2L645 237.3L640.4 237.3Z" fill="#0000ff" stroke="#000" stroke-width="0.5"/>
<text transform="translate(653.7 237.7) scale(1.0 1)" font-size="6.2" text-anchor="start" font-weight="normal" fill="#000">T5</text>
<circle cx="642.7" cy="243.3" r="2.2" fill="#ff00ff" stroke="#000" stroke-width="0.5"/>
<text transform="translate(653.7 245.5) scale(1.0 1)" font-size="6.2" text-anchor="start" font-weight="normal" fill="#000">T6</text>
<circle cx="642.7" cy="251.1" r="2.2" fill="#00ffff" stroke="#000" stroke-width="0.5"/>
<text transform="translate(653.7 253.3) scale(1.0 1)" font-size="6.2" text-anchor="start" font-weight="normal" fill="#000">T7</text>
<path d="M642.7 261.2L645 257.1L640.4 257.1Z" fill="#ffffff" stroke="#555" stroke-width="0.75"/>
<text transform="translate(653.7 261.1) scale(1.0 1)" font-size="6.2" text-anchor="start" font-weight="normal" fill="#000">T8</text>
<rect x="640.8" y="264.8" width="3.8" height="3.8" fill="#800000" stroke="#000" stroke-width="0.5"/>
<text transform="translate(653.7 268.9) scale(1.0 1)" font-size="6.2" text-anchor="start" font-weight="normal" fill="#000">T9</text>
<path d="M642.7 271.9L645.3 274.5L642.7 277.1L640.1 274.5Z" fill="#007000" stroke="#000" stroke-width="0.5"/>
<text transform="translate(653.7 276.7) scale(1.0 1)" font-size="6.2" text-anchor="start" font-weight="normal" fill="#000">T10</text>
<path d="M52 420.6V577.9H277.4M49.4 420.6H52M49.4 443.1H52M49.4 465.5H52M49.4 488H52M49.4 510.4H52M49.4 532.9H52M49.4 555.3H52M49.4 577.8H52M77 577.9V580.5M102 577.9V580.5M127.1 577.9V580.5M152.2 577.9V580.5M177.2 577.9V580.5M202.2 577.9V580.5M227.3 577.9V580.5M252.3 577.9V580.5" stroke="#1c1c1c" stroke-width="1.1" fill="none"/>
<text transform="translate(44.3 424.2) scale(1.0 1)" font-size="9.8" text-anchor="end" font-weight="bold" fill="#000" stroke="#000" stroke-width="0.3">7000</text>
<text transform="translate(44.3 446.7) scale(1.0 1)" font-size="9.8" text-anchor="end" font-weight="bold" fill="#000" stroke="#000" stroke-width="0.3">6000</text>
<text transform="translate(44.3 469.1) scale(1.0 1)" font-size="9.8" text-anchor="end" font-weight="bold" fill="#000" stroke="#000" stroke-width="0.3">5000</text>
<text transform="translate(44.3 491.6) scale(1.0 1)" font-size="9.8" text-anchor="end" font-weight="bold" fill="#000" stroke="#000" stroke-width="0.3">4000</text>
<text transform="translate(44.3 514) scale(1.0 1)" font-size="9.8" text-anchor="end" font-weight="bold" fill="#000" stroke="#000" stroke-width="0.3">3000</text>
<text transform="translate(44.3 536.5) scale(1.0 1)" font-size="9.8" text-anchor="end" font-weight="bold" fill="#000" stroke="#000" stroke-width="0.3">2000</text>
<text transform="translate(44.3 558.9) scale(1.0 1)" font-size="9.8" text-anchor="end" font-weight="bold" fill="#000" stroke="#000" stroke-width="0.3">1000</text>
<text transform="translate(44.3 581.4) scale(1.0 1)" font-size="9.8" text-anchor="end" font-weight="bold" fill="#000" stroke="#000" stroke-width="0.3">0</text>
<text transform="translate(77 594.4) scale(1.0 1)" font-size="9.8" text-anchor="middle" font-weight="bold" fill="#000" stroke="#000" stroke-width="0.3">1</text>
<text transform="translate(102 594.4) scale(1.0 1)" font-size="9.8" text-anchor="middle" font-weight="bold" fill="#000" stroke="#000" stroke-width="0.3">2</text>
<text transform="translate(127.1 594.4) scale(1.0 1)" font-size="9.8" text-anchor="middle" font-weight="bold" fill="#000" stroke="#000" stroke-width="0.3">3</text>
<text transform="translate(152.2 594.4) scale(1.0 1)" font-size="9.8" text-anchor="middle" font-weight="bold" fill="#000" stroke="#000" stroke-width="0.3">4</text>
<text transform="translate(177.2 594.4) scale(1.0 1)" font-size="9.8" text-anchor="middle" font-weight="bold" fill="#000" stroke="#000" stroke-width="0.3">5</text>
<text transform="translate(202.2 594.4) scale(1.0 1)" font-size="9.8" text-anchor="middle" font-weight="bold" fill="#000" stroke="#000" stroke-width="0.3">6</text>
<text transform="translate(227.3 594.4) scale(1.0 1)" font-size="9.8" text-anchor="middle" font-weight="bold" fill="#000" stroke="#000" stroke-width="0.3">7</text>
<text transform="translate(252.3 594.4) scale(1.0 1)" font-size="9.8" text-anchor="middle" font-weight="bold" fill="#000" stroke="#000" stroke-width="0.3">8</text>
<text font-size="12" text-anchor="middle" font-weight="bold" fill="#000" stroke="#000" stroke-width="0.3" transform="translate(9.9 499.2) rotate(-90)">Speed <tspan letter-spacing="0.75">(<tspan font-weight="normal" font-size="1.15em">µ</tspan>m/s)</tspan></text>
<text transform="translate(166 613.3) scale(1.05 1)" font-size="12.3" text-anchor="middle" font-weight="bold" fill="#000" stroke="#000" stroke-width="0.3">Rats</text>
<text transform="translate(1.9 424.9) scale(1.0 1)" font-size="23" text-anchor="start" font-weight="normal" fill="#d9820f">e</text>
<rect x="69.3" y="524.5" width="15.3" height="24.9" fill="#fff" stroke="#222" stroke-width="1.0"/>
<path d="M69.3 542.6H84.7" stroke="#222" stroke-width="1.0" fill="none"/>
<path d="M77 524.5V459.3M72.2 459.3H81.8" stroke="#222" stroke-width="1.0" fill="none"/>
<path d="M77 549.4V554.8M72.2 554.8H81.8" stroke="#222" stroke-width="1.0" fill="none"/>
<rect x="94.4" y="506.3" width="15.3" height="30.4" fill="#fff" stroke="#222" stroke-width="1.0"/>
<path d="M94.4 524.5H109.7" stroke="#222" stroke-width="1.0" fill="none"/>
<path d="M102 506.3V456.4M97.3 456.4H106.8" stroke="#222" stroke-width="1.0" fill="none"/>
<path d="M102 536.7V550.7M97.3 550.7H106.8" stroke="#222" stroke-width="1.0" fill="none"/>
<rect x="119.4" y="505.1" width="15.3" height="43.5" fill="#fff" stroke="#222" stroke-width="1.0"/>
<path d="M119.4 544.2H134.8" stroke="#222" stroke-width="1.0" fill="none"/>
<path d="M127.1 505.1V428.4M122.3 428.4H131.8" stroke="#222" stroke-width="1.0" fill="none"/>
<path d="M127.1 548.6V551.6M122.3 551.6H131.8" stroke="#222" stroke-width="1.0" fill="none"/>
<rect x="144.5" y="542.4" width="15.3" height="18" fill="#fff" stroke="#222" stroke-width="1.0"/>
<path d="M144.5 547.3H159.8" stroke="#222" stroke-width="1.0" fill="none"/>
<path d="M152.2 542.4V520.1M147.4 520.1H156.9" stroke="#222" stroke-width="1.0" fill="none"/>
<path d="M152.2 560.4V562.1M147.4 562.1H156.9" stroke="#222" stroke-width="1.0" fill="none"/>
<rect x="169.5" y="494.9" width="15.3" height="44" fill="#fff" stroke="#222" stroke-width="1.0"/>
<path d="M169.5 520.5H184.8" stroke="#222" stroke-width="1.0" fill="none"/>
<path d="M177.2 494.9V484.7M172.4 484.7H181.9" stroke="#222" stroke-width="1.0" fill="none"/>
<path d="M177.2 538.9V544.2M172.4 544.2H181.9" stroke="#222" stroke-width="1.0" fill="none"/>
<rect x="194.6" y="518.2" width="15.3" height="26" fill="#fff" stroke="#222" stroke-width="1.0"/>
<path d="M194.6 532.7H209.9" stroke="#222" stroke-width="1.0" fill="none"/>
<path d="M202.2 518.2V488.5M197.5 488.5H207" stroke="#222" stroke-width="1.0" fill="none"/>
<path d="M202.2 544.2V560.4M197.5 560.4H207" stroke="#222" stroke-width="1.0" fill="none"/>
<rect x="219.7" y="511.2" width="15.3" height="31.4" fill="#fff" stroke="#222" stroke-width="1.0"/>
<path d="M219.7 531.5H235" stroke="#222" stroke-width="1.0" fill="none"/>
<path d="M227.3 511.2V487M222.6 487H232.1" stroke="#222" stroke-width="1.0" fill="none"/>
<path d="M227.3 542.6V547.3M222.6 547.3H232.1" stroke="#222" stroke-width="1.0" fill="none"/>
<rect x="244.7" y="504.7" width="15.3" height="48.8" fill="#fff" stroke="#222" stroke-width="1.0"/>
<path d="M244.7 541.3H260" stroke="#222" stroke-width="1.0" fill="none"/>
<path d="M252.3 504.7V476.6M247.6 476.6H257.1" stroke="#222" stroke-width="1.0" fill="none"/>
<path d="M252.3 553.5V559.2M247.6 559.2H257.1" stroke="#222" stroke-width="1.0" fill="none"/>
<rect x="75.2" y="451.8" width="3.6" height="3.6" fill="#800000" stroke="#000" stroke-width="0.5"/>
<rect x="75.2" y="482.9" width="3.6" height="3.6" fill="#00ff00" stroke="#000" stroke-width="0.5"/>
<path d="M77 522.8L79.2 526.6L74.8 526.6Z" fill="#808000" stroke="#000" stroke-width="0.5"/>
<circle cx="77" cy="528.6" r="2.1" fill="#00ffff" stroke="#000" stroke-width="0.5"/>
<circle cx="77" cy="536.7" r="2.1" fill="#000000" stroke="#000" stroke-width="0.5"/>
<path d="M77 547.9L79.2 551.7L74.8 551.7Z" fill="#0000ff" stroke="#000" stroke-width="0.5"/>
<circle cx="77" cy="545.9" r="2.1" fill="#007000" stroke="#000" stroke-width="0.5"/>
<circle cx="77" cy="542.6" r="2.1" fill="#ff00ff" stroke="#000" stroke-width="0.5"/>
<path d="M77 557.2L79.2 553.4L74.8 553.4Z" fill="#ffffff" stroke="#555" stroke-width="0.75"/>
<circle cx="102" cy="428.4" r="2.1" fill="#000000" stroke="#000" stroke-width="0.5"/>
<rect x="100.2" y="451.8" width="3.6" height="3.6" fill="#800000" stroke="#000" stroke-width="0.5"/>
<path d="M102 482.6L104.2 486.4L99.9 486.4Z" fill="#808000" stroke="#000" stroke-width="0.5"/>
<circle cx="102" cy="495" r="2.1" fill="#800080" stroke="#000" stroke-width="0.5"/>
<rect x="100.2" y="501.6" width="3.6" height="3.6" fill="#00ff00" stroke="#000" stroke-width="0.5"/>
<path d="M102 517.9L104.2 514L99.9 514Z" fill="#ffffff" stroke="#555" stroke-width="0.75"/>
<circle cx="102" cy="520.6" r="2.1" fill="#ff0000" stroke="#000" stroke-width="0.5"/>
<circle cx="102" cy="524.9" r="2.1" fill="#00ff00" stroke="#000" stroke-width="0.5"/>
<circle cx="102" cy="534" r="2.1" fill="#000080" stroke="#000" stroke-width="0.5"/>
<circle cx="102" cy="536.7" r="2.1" fill="#000000" stroke="#000" stroke-width="0.5"/>
<rect x="100.2" y="542.4" width="3.6" height="3.6" fill="#ff00ff" stroke="#000" stroke-width="0.5"/>
<circle cx="102" cy="550.7" r="2.1" fill="#ffff00" stroke="#000" stroke-width="0.5"/>
<path d="M102 559.6L104.2 563.4L99.9 563.4Z" fill="#0000ff" stroke="#000" stroke-width="0.5"/>
<circle cx="127.1" cy="428.4" r="2.1" fill="#00ff00" stroke="#000" stroke-width="0.5"/>
<path d="M127.1 500.9L129.5 503.4L127.1 505.8L124.6 503.4Z" fill="#ffff00" stroke="#000" stroke-width="0.5"/>
<path d="M127.1 512.9L129.2 509L124.9 509Z" fill="#008080" stroke="#000" stroke-width="0.5"/>
<path d="M127.1 522.6L129.2 526.4L124.9 526.4Z" fill="#0000ff" stroke="#000" stroke-width="0.5"/>
<rect x="125.3" y="552" width="3.6" height="3.6" fill="#800000" stroke="#000" stroke-width="0.5"/>
<circle cx="127.1" cy="552" r="2.1" fill="#007000" stroke="#000" stroke-width="0.5"/>
<circle cx="127.1" cy="550" r="2.1" fill="#000000" stroke="#000" stroke-width="0.5"/>
<circle cx="127.1" cy="547.5" r="2.1" fill="#000000" stroke="#000" stroke-width="0.5"/>
<circle cx="127.1" cy="545" r="2.1" fill="#909090" stroke="#000" stroke-width="0.5"/>
<circle cx="127.1" cy="542.4" r="2.1" fill="#800080" stroke="#000" stroke-width="0.5"/>
<circle cx="152.2" cy="495" r="2.1" fill="#000000" stroke="#000" stroke-width="0.5"/>
<circle cx="152.2" cy="520.1" r="2.1" fill="#800080" stroke="#000" stroke-width="0.5"/>
<circle cx="152.2" cy="524.2" r="2.1" fill="#ff00ff" stroke="#000" stroke-width="0.5"/>
<circle cx="152.2" cy="542.9" r="2.1" fill="#000000" stroke="#000" stroke-width="0.5"/>
<path d="M152.2 540.2L154.3 544.1L150 544.1Z" fill="#ff0000" stroke="#000" stroke-width="0.5"/>
<circle cx="152.2" cy="551.1" r="2.1" fill="#0000ff" stroke="#000" stroke-width="0.5"/>
<rect x="150.3" y="553" width="3.6" height="3.6" fill="#00ffff" stroke="#000" stroke-width="0.5"/>
<path d="M152.2 560L154.6 562.5L152.2 565L149.7 562.5Z" fill="#007000" stroke="#000" stroke-width="0.5"/>
<circle cx="152.2" cy="560" r="2.1" fill="#ffff00" stroke="#000" stroke-width="0.5"/>
<path d="M177.2 451.2L179.3 455L175 455Z" fill="#ff0000" stroke="#000" stroke-width="0.5"/>
<circle cx="177.2" cy="484.7" r="2.1" fill="#ffff00" stroke="#000" stroke-width="0.5"/>
<circle cx="177.2" cy="495" r="2.1" fill="#000000" stroke="#000" stroke-width="0.5"/>
<rect x="175.4" y="501.6" width="3.6" height="3.6" fill="#00ff00" stroke="#000" stroke-width="0.5"/>
<path d="M177.2 507.8L179.3 511.6L175 511.6Z" fill="#0000ff" stroke="#000" stroke-width="0.5"/>
<circle cx="177.2" cy="515.7" r="2.1" fill="#000080" stroke="#000" stroke-width="0.5"/>
<path d="M177.2 526.9L179.3 523L175 523Z" fill="#0000ff" stroke="#000" stroke-width="0.5"/>
<circle cx="177.2" cy="520.5" r="2.1" fill="#008080" stroke="#000" stroke-width="0.5"/>
<rect x="175.4" y="526.8" width="3.6" height="3.6" fill="#909090" stroke="#000" stroke-width="0.5"/>
<path d="M177.2 544.8L179.6 547.3L177.2 549.8L174.8 547.3Z" fill="#ffff00" stroke="#000" stroke-width="0.5"/>
<circle cx="177.2" cy="544.6" r="2.1" fill="#007000" stroke="#000" stroke-width="0.5"/>
<rect x="175.4" y="539.5" width="3.6" height="3.6" fill="#000000" stroke="#000" stroke-width="0.5"/>
<rect x="200.4" y="426.6" width="3.6" height="3.6" fill="#800000" stroke="#000" stroke-width="0.5"/>
<circle cx="202.2" cy="495" r="2.1" fill="#800080" stroke="#000" stroke-width="0.5"/>
<circle cx="202.2" cy="510.4" r="2.1" fill="#ffff00" stroke="#000" stroke-width="0.5"/>
<path d="M202.2 518L204.7 520.5L202.2 523L199.8 520.5Z" fill="#000000" stroke="#000" stroke-width="0.5"/>
<path d="M202.2 522.6L204.4 526.4L200.1 526.4Z" fill="#ff0000" stroke="#000" stroke-width="0.5"/>
<circle cx="202.2" cy="528.3" r="2.1" fill="#007000" stroke="#000" stroke-width="0.5"/>
<rect x="200.4" y="534.9" width="3.6" height="3.6" fill="#909090" stroke="#000" stroke-width="0.5"/>
<path d="M202.2 544.8L204.4 540.9L200.1 540.9Z" fill="#008080" stroke="#000" stroke-width="0.5"/>
<path d="M202.2 545.6L204.4 549.5L200.1 549.5Z" fill="#0000ff" stroke="#000" stroke-width="0.5"/>
<circle cx="202.2" cy="552.4" r="2.1" fill="#00ffff" stroke="#000" stroke-width="0.5"/>
<path d="M202.2 558.2L204.4 562.1L200.1 562.1Z" fill="#808000" stroke="#000" stroke-width="0.5"/>
<circle cx="202.2" cy="562.5" r="2.1" fill="#00ff00" stroke="#000" stroke-width="0.5"/>
<path d="M227.3 455.9L229.5 452.1L225.2 452.1Z" fill="#ff0000" stroke="#000" stroke-width="0.5"/>
<circle cx="227.3" cy="471.4" r="2.1" fill="#000000" stroke="#000" stroke-width="0.5"/>
<path d="M227.3 500.6L229.8 503L227.3 505.4L224.9 503Z" fill="#ffffff" stroke="#555" stroke-width="0.75"/>
<rect x="225.5" y="508.1" width="3.6" height="3.6" fill="#800000" stroke="#000" stroke-width="0.5"/>
<rect x="225.5" y="513.9" width="3.6" height="3.6" fill="#909090" stroke="#000" stroke-width="0.5"/>
<rect x="225.5" y="518.7" width="3.6" height="3.6" fill="#ff00ff" stroke="#000" stroke-width="0.5"/>
<circle cx="227.3" cy="524.7" r="2.1" fill="#00ffff" stroke="#000" stroke-width="0.5"/>
<path d="M227.3 526.1L229.8 528.6L227.3 531.1L224.9 528.6Z" fill="#00ffff" stroke="#000" stroke-width="0.5"/>
<rect x="225.5" y="530.9" width="3.6" height="3.6" fill="#800000" stroke="#000" stroke-width="0.5"/>
<circle cx="227.3" cy="536.4" r="2.1" fill="#007000" stroke="#000" stroke-width="0.5"/>
<circle cx="227.3" cy="538.9" r="2.1" fill="#800000" stroke="#000" stroke-width="0.5"/>
<circle cx="227.3" cy="542.4" r="2.1" fill="#800080" stroke="#000" stroke-width="0.5"/>
<path d="M227.3 551.9L229.5 548.1L225.2 548.1Z" fill="#0000ff" stroke="#000" stroke-width="0.5"/>
<circle cx="227.3" cy="546.2" r="2.1" fill="#00ff00" stroke="#000" stroke-width="0.5"/>
<circle cx="227.3" cy="555.1" r="2.1" fill="#ffff00" stroke="#000" stroke-width="0.5"/>
<circle cx="252.3" cy="471.4" r="2.1" fill="#000000" stroke="#000" stroke-width="0.5"/>
<path d="M252.3 482.6L254.5 486.4L250.2 486.4Z" fill="#0000ff" stroke="#000" stroke-width="0.5"/>
<path d="M252.3 522.2L254.8 524.7L252.3 527.2L249.9 524.7Z" fill="#000080" stroke="#000" stroke-width="0.5"/>
<circle cx="252.3" cy="538.4" r="2.1" fill="#00ffff" stroke="#000" stroke-width="0.5"/>
<path d="M252.3 543.4L254.5 539.6L250.2 539.6Z" fill="#ffffff" stroke="#555" stroke-width="0.75"/>
<rect x="250.5" y="542.4" width="3.6" height="3.6" fill="#800000" stroke="#000" stroke-width="0.5"/>
<rect x="250.5" y="547.2" width="3.6" height="3.6" fill="#00ff00" stroke="#000" stroke-width="0.5"/>
<path d="M252.3 549L254.5 552.8L250.2 552.8Z" fill="#808000" stroke="#000" stroke-width="0.5"/>
<circle cx="252.3" cy="556" r="2.1" fill="#800080" stroke="#000" stroke-width="0.5"/>
<path d="M252.3 558.3L254.8 560.8L252.3 563.2L249.9 560.8Z" fill="#007000" stroke="#000" stroke-width="0.5"/>
<path d="M347 419.4V577.6H572.8M344.4 419.4H347M344.4 442H347M344.4 464.6H347M344.4 487.2H347M344.4 509.8H347M344.4 532.4H347M344.4 555H347M344.4 577.6H347M371.9 577.6V580.2M396.9 577.6V580.2M422 577.6V580.2M447 577.6V580.2M472.1 577.6V580.2M497.1 577.6V580.2M522.2 577.6V580.2M547.2 577.6V580.2" stroke="#1c1c1c" stroke-width="1.1" fill="none"/>
<text transform="translate(339.1 423) scale(1.0 1)" font-size="9.8" text-anchor="end" font-weight="bold" fill="#000" stroke="#000" stroke-width="0.3">7000</text>
<text transform="translate(339.1 445.6) scale(1.0 1)" font-size="9.8" text-anchor="end" font-weight="bold" fill="#000" stroke="#000" stroke-width="0.3">6000</text>
<text transform="translate(339.1 468.2) scale(1.0 1)" font-size="9.8" text-anchor="end" font-weight="bold" fill="#000" stroke="#000" stroke-width="0.3">5000</text>
<text transform="translate(339.1 490.8) scale(1.0 1)" font-size="9.8" text-anchor="end" font-weight="bold" fill="#000" stroke="#000" stroke-width="0.3">4000</text>
<text transform="translate(339.1 513.4) scale(1.0 1)" font-size="9.8" text-anchor="end" font-weight="bold" fill="#000" stroke="#000" stroke-width="0.3">3000</text>
<text transform="translate(339.1 536) scale(1.0 1)" font-size="9.8" text-anchor="end" font-weight="bold" fill="#000" stroke="#000" stroke-width="0.3">2000</text>
<text transform="translate(339.1 558.6) scale(1.0 1)" font-size="9.8" text-anchor="end" font-weight="bold" fill="#000" stroke="#000" stroke-width="0.3">1000</text>
<text transform="translate(339.1 581.2) scale(1.0 1)" font-size="9.8" text-anchor="end" font-weight="bold" fill="#000" stroke="#000" stroke-width="0.3">0</text>
<text transform="translate(371.9 593.7) scale(1.0 1)" font-size="9.8" text-anchor="middle" font-weight="bold" fill="#000" stroke="#000" stroke-width="0.3">1</text>
<text transform="translate(396.9 593.7) scale(1.0 1)" font-size="9.8" text-anchor="middle" font-weight="bold" fill="#000" stroke="#000" stroke-width="0.3">2</text>
<text transform="translate(422 593.7) scale(1.0 1)" font-size="9.8" text-anchor="middle" font-weight="bold" fill="#000" stroke="#000" stroke-width="0.3">3</text>
<text transform="translate(447 593.7) scale(1.0 1)" font-size="9.8" text-anchor="middle" font-weight="bold" fill="#000" stroke="#000" stroke-width="0.3">4</text>
<text transform="translate(472.1 593.7) scale(1.0 1)" font-size="9.8" text-anchor="middle" font-weight="bold" fill="#000" stroke="#000" stroke-width="0.3">5</text>
<text transform="translate(497.1 593.7) scale(1.0 1)" font-size="9.8" text-anchor="middle" font-weight="bold" fill="#000" stroke="#000" stroke-width="0.3">6</text>
<text transform="translate(522.2 593.7) scale(1.0 1)" font-size="9.8" text-anchor="middle" font-weight="bold" fill="#000" stroke="#000" stroke-width="0.3">7</text>
<text transform="translate(547.2 593.7) scale(1.0 1)" font-size="9.8" text-anchor="middle" font-weight="bold" fill="#000" stroke="#000" stroke-width="0.3">8</text>
<text font-size="12" text-anchor="middle" font-weight="bold" fill="#000" stroke="#000" stroke-width="0.3" transform="translate(304.9 498.9) rotate(-90)">Speed <tspan letter-spacing="0.75">(<tspan font-weight="normal" font-size="1.15em">µ</tspan>m/s)</tspan></text>
<text transform="translate(461 613.2) scale(1.05 1)" font-size="12.3" text-anchor="middle" font-weight="bold" fill="#000" stroke="#000" stroke-width="0.3">Rats</text>
<text transform="translate(301.3 427.3) scale(1.0 1)" font-size="24.5" text-anchor="start" font-weight="normal" fill="#d9820f">f</text>
<rect x="364.2" y="544.6" width="15.3" height="23.9" fill="#fff" stroke="#222" stroke-width="1.0"/>
<path d="M364.2 556.3H379.5" stroke="#222" stroke-width="1.0" fill="none"/>
<path d="M371.9 544.6V539.3M367.1 539.3H376.6" stroke="#222" stroke-width="1.0" fill="none"/>
<path d="M371.9 568.5V569.8M367.1 569.8H376.6" stroke="#222" stroke-width="1.0" fill="none"/>
<rect x="389.3" y="538.4" width="15.3" height="16.3" fill="#fff" stroke="#222" stroke-width="1.0"/>
<path d="M389.3 542.1H404.6" stroke="#222" stroke-width="1.0" fill="none"/>
<path d="M396.9 538.4V524.2M392.2 524.2H401.7" stroke="#222" stroke-width="1.0" fill="none"/>
<path d="M396.9 554.7V560M392.2 560H401.7" stroke="#222" stroke-width="1.0" fill="none"/>
<rect x="414.4" y="538.4" width="15.3" height="18.9" fill="#fff" stroke="#222" stroke-width="1.0"/>
<path d="M414.4 550.3H429.6" stroke="#222" stroke-width="1.0" fill="none"/>
<path d="M422 538.4V537.2M417.2 537.2H426.8" stroke="#222" stroke-width="1.0" fill="none"/>
<path d="M422 557.3V560.8M417.2 560.8H426.8" stroke="#222" stroke-width="1.0" fill="none"/>
<rect x="439.4" y="545.4" width="15.3" height="22.1" fill="#fff" stroke="#222" stroke-width="1.0"/>
<path d="M439.4 559.7H454.7" stroke="#222" stroke-width="1.0" fill="none"/>
<path d="M447 545.4V525.7M442.3 525.7H451.8" stroke="#222" stroke-width="1.0" fill="none"/>
<path d="M447 567.5V570.5M442.3 570.5H451.8" stroke="#222" stroke-width="1.0" fill="none"/>
<rect x="464.4" y="524.3" width="15.3" height="20.2" fill="#fff" stroke="#222" stroke-width="1.0"/>
<path d="M464.4 535.9H479.7" stroke="#222" stroke-width="1.0" fill="none"/>
<path d="M472.1 524.3V497.4M467.3 497.4H476.8" stroke="#222" stroke-width="1.0" fill="none"/>
<path d="M472.1 544.5V548.1M467.3 548.1H476.8" stroke="#222" stroke-width="1.0" fill="none"/>
<rect x="489.5" y="540.9" width="15.3" height="16.5" fill="#fff" stroke="#222" stroke-width="1.0"/>
<path d="M489.5 552.2H504.8" stroke="#222" stroke-width="1.0" fill="none"/>
<path d="M497.1 540.9V527.5M492.4 527.5H501.9" stroke="#222" stroke-width="1.0" fill="none"/>
<path d="M497.1 557.4V560.3M492.4 560.3H501.9" stroke="#222" stroke-width="1.0" fill="none"/>
<rect x="514.6" y="541.8" width="15.3" height="16.7" fill="#fff" stroke="#222" stroke-width="1.0"/>
<path d="M514.6 556.7H529.9" stroke="#222" stroke-width="1.0" fill="none"/>
<path d="M522.2 541.8V536.1M517.5 536.1H527" stroke="#222" stroke-width="1.0" fill="none"/>
<path d="M522.2 558.5V564.2M517.5 564.2H527" stroke="#222" stroke-width="1.0" fill="none"/>
<rect x="539.6" y="552.6" width="15.3" height="9.8" fill="#fff" stroke="#222" stroke-width="1.0"/>
<path d="M539.6 558H554.9" stroke="#222" stroke-width="1.0" fill="none"/>
<path d="M547.2 552.6V545.4M542.5 545.4H552" stroke="#222" stroke-width="1.0" fill="none"/>
<path d="M547.2 562.4V566.6M542.5 566.6H552" stroke="#222" stroke-width="1.0" fill="none"/>
<path d="M371.9 536.1L374 532.3L369.8 532.3Z" fill="#ffffff" stroke="#555" stroke-width="0.75"/>
<rect x="370.1" y="540" width="3.6" height="3.6" fill="#800000" stroke="#000" stroke-width="0.5"/>
<circle cx="371.9" cy="543.7" r="2.1" fill="#008080" stroke="#000" stroke-width="0.5"/>
<circle cx="371.9" cy="546.7" r="2.1" fill="#0000ff" stroke="#000" stroke-width="0.5"/>
<rect x="370.1" y="550.9" width="3.6" height="3.6" fill="#00ff00" stroke="#000" stroke-width="0.5"/>
<circle cx="371.9" cy="558.7" r="2.1" fill="#007000" stroke="#000" stroke-width="0.5"/>
<circle cx="371.9" cy="561.2" r="2.1" fill="#800080" stroke="#000" stroke-width="0.5"/>
<circle cx="371.9" cy="564.1" r="2.1" fill="#909090" stroke="#000" stroke-width="0.5"/>
<circle cx="371.9" cy="566" r="2.1" fill="#909090" stroke="#000" stroke-width="0.5"/>
<circle cx="371.9" cy="570.6" r="2.1" fill="#000000" stroke="#000" stroke-width="0.5"/>
<rect x="395.1" y="507.9" width="3.6" height="3.6" fill="#00ff00" stroke="#000" stroke-width="0.5"/>
<circle cx="396.9" cy="524.2" r="2.1" fill="#ff0000" stroke="#000" stroke-width="0.5"/>
<path d="M396.9 530.1L399.1 526.3L394.8 526.3Z" fill="#0000ff" stroke="#000" stroke-width="0.5"/>
<circle cx="396.9" cy="533.6" r="2.1" fill="#000080" stroke="#000" stroke-width="0.5"/>
<rect x="395.1" y="539" width="3.6" height="3.6" fill="#909090" stroke="#000" stroke-width="0.5"/>
<circle cx="396.9" cy="543.4" r="2.1" fill="#800080" stroke="#000" stroke-width="0.5"/>
<circle cx="396.9" cy="549" r="2.1" fill="#ffff00" stroke="#000" stroke-width="0.5"/>
<rect x="395.1" y="550.1" width="3.6" height="3.6" fill="#800000" stroke="#000" stroke-width="0.5"/>
<circle cx="396.9" cy="560.4" r="2.1" fill="#008080" stroke="#000" stroke-width="0.5"/>
<circle cx="396.9" cy="557.6" r="2.1" fill="#00ff00" stroke="#000" stroke-width="0.5"/>
<path d="M396.9 566.6L399.1 570.4L394.8 570.4Z" fill="#ff0000" stroke="#000" stroke-width="0.5"/>
<circle cx="422" cy="533.5" r="2.1" fill="#800080" stroke="#000" stroke-width="0.5"/>
<circle cx="422" cy="538" r="2.1" fill="#ff0000" stroke="#000" stroke-width="0.5"/>
<rect x="420.2" y="538.7" width="3.6" height="3.6" fill="#00ff00" stroke="#000" stroke-width="0.5"/>
<circle cx="422" cy="543.4" r="2.1" fill="#00ffff" stroke="#000" stroke-width="0.5"/>
<rect x="420.2" y="544.7" width="3.6" height="3.6" fill="#00ff00" stroke="#000" stroke-width="0.5"/>
<rect x="420.2" y="559" width="3.6" height="3.6" fill="#808000" stroke="#000" stroke-width="0.5"/>
<rect x="420.2" y="556.6" width="3.6" height="3.6" fill="#909090" stroke="#000" stroke-width="0.5"/>
<circle cx="422" cy="555.5" r="2.1" fill="#000000" stroke="#000" stroke-width="0.5"/>
<circle cx="422" cy="554" r="2.1" fill="#000000" stroke="#000" stroke-width="0.5"/>
<circle cx="447" cy="524.1" r="2.1" fill="#00ff00" stroke="#000" stroke-width="0.5"/>
<circle cx="447" cy="540.4" r="2.1" fill="#000000" stroke="#000" stroke-width="0.5"/>
<circle cx="447" cy="542.7" r="2.1" fill="#ff0000" stroke="#000" stroke-width="0.5"/>
<circle cx="447" cy="546.7" r="2.1" fill="#000080" stroke="#000" stroke-width="0.5"/>
<path d="M447 554.1L449.2 550.3L444.9 550.3Z" fill="#008080" stroke="#000" stroke-width="0.5"/>
<path d="M447 551.1L449.2 547.3L444.9 547.3Z" fill="#ffff00" stroke="#000" stroke-width="0.5"/>
<rect x="445.2" y="555.2" width="3.6" height="3.6" fill="#800000" stroke="#000" stroke-width="0.5"/>
<circle cx="447" cy="563.3" r="2.1" fill="#800080" stroke="#000" stroke-width="0.5"/>
<circle cx="447" cy="560.6" r="2.1" fill="#ffff00" stroke="#000" stroke-width="0.5"/>
<path d="M447 564.2L449.2 568.1L444.9 568.1Z" fill="#808000" stroke="#000" stroke-width="0.5"/>
<rect x="445.2" y="570.5" width="3.6" height="3.6" fill="#909090" stroke="#000" stroke-width="0.5"/>
<circle cx="447" cy="568.7" r="2.1" fill="#0000ff" stroke="#000" stroke-width="0.5"/>
<circle cx="472.1" cy="494" r="2.1" fill="#000000" stroke="#000" stroke-width="0.5"/>
<path d="M472.1 521.8L474.5 524.3L472.1 526.8L469.6 524.3Z" fill="#ffff00" stroke="#000" stroke-width="0.5"/>
<path d="M472.1 525.3L474.5 527.8L472.1 530.2L469.6 527.8Z" fill="#007000" stroke="#000" stroke-width="0.5"/>
<rect x="470.3" y="534.7" width="3.6" height="3.6" fill="#909090" stroke="#000" stroke-width="0.5"/>
<circle cx="472.1" cy="540.4" r="2.1" fill="#00ffff" stroke="#000" stroke-width="0.5"/>
<path d="M472.1 546.5L474.2 550.3L469.9 550.3Z" fill="#0000ff" stroke="#000" stroke-width="0.5"/>
<rect x="470.3" y="542.7" width="3.6" height="3.6" fill="#800000" stroke="#000" stroke-width="0.5"/>
<circle cx="497.1" cy="502.8" r="2.1" fill="#000000" stroke="#000" stroke-width="0.5"/>
<circle cx="497.1" cy="533.4" r="2.1" fill="#000080" stroke="#000" stroke-width="0.5"/>
<rect x="495.3" y="536.4" width="3.6" height="3.6" fill="#00ff00" stroke="#000" stroke-width="0.5"/>
<path d="M497.1 541.1L499.6 543.6L497.1 546.1L494.7 543.6Z" fill="#000000" stroke="#000" stroke-width="0.5"/>
<circle cx="497.1" cy="546.7" r="2.1" fill="#ff00ff" stroke="#000" stroke-width="0.5"/>
<path d="M497.1 546.9L499.3 550.7L495 550.7Z" fill="#808000" stroke="#000" stroke-width="0.5"/>
<rect x="495.3" y="549.9" width="3.6" height="3.6" fill="#909090" stroke="#000" stroke-width="0.5"/>
<circle cx="497.1" cy="555.3" r="2.1" fill="#0000ff" stroke="#000" stroke-width="0.5"/>
<circle cx="497.1" cy="558.9" r="2.1" fill="#00ff00" stroke="#000" stroke-width="0.5"/>
<circle cx="497.1" cy="557.1" r="2.1" fill="#ff0000" stroke="#000" stroke-width="0.5"/>
<rect x="495.3" y="560.6" width="3.6" height="3.6" fill="#800000" stroke="#000" stroke-width="0.5"/>
<path d="M522.2 507.2L524.7 509.6L522.2 512.1L519.8 509.6Z" fill="#ffff00" stroke="#000" stroke-width="0.5"/>
<circle cx="522.2" cy="536.1" r="2.1" fill="#ff00ff" stroke="#000" stroke-width="0.5"/>
<circle cx="522.2" cy="540.6" r="2.1" fill="#ff0000" stroke="#000" stroke-width="0.5"/>
<path d="M522.2 544.6L524.4 548.4L520.1 548.4Z" fill="#808000" stroke="#000" stroke-width="0.5"/>
<circle cx="522.2" cy="549.9" r="2.1" fill="#007000" stroke="#000" stroke-width="0.5"/>
<circle cx="522.2" cy="552.6" r="2.1" fill="#800080" stroke="#000" stroke-width="0.5"/>
<path d="M522.2 560.4L524.4 556.6L520.1 556.6Z" fill="#0000ff" stroke="#000" stroke-width="0.5"/>
<circle cx="522.2" cy="555.3" r="2.1" fill="#00ff00" stroke="#000" stroke-width="0.5"/>
<rect x="520.4" y="563.9" width="3.6" height="3.6" fill="#909090" stroke="#000" stroke-width="0.5"/>
<circle cx="547.2" cy="538.2" r="2.1" fill="#000000" stroke="#000" stroke-width="0.5"/>
<circle cx="547.2" cy="545.4" r="2.1" fill="#ff0000" stroke="#000" stroke-width="0.5"/>
<path d="M547.2 555L549.4 551.2L545.1 551.2Z" fill="#0000ff" stroke="#000" stroke-width="0.5"/>
<rect x="545.5" y="555.2" width="3.6" height="3.6" fill="#909090" stroke="#000" stroke-width="0.5"/>
<circle cx="547.2" cy="561.9" r="2.1" fill="#ffff00" stroke="#000" stroke-width="0.5"/>
<circle cx="547.2" cy="569.2" r="2.1" fill="#000080" stroke="#000" stroke-width="0.5"/>
<circle cx="547.2" cy="566.6" r="2.1" fill="#00ff00" stroke="#000" stroke-width="0.5"/>
</svg></body></html>
